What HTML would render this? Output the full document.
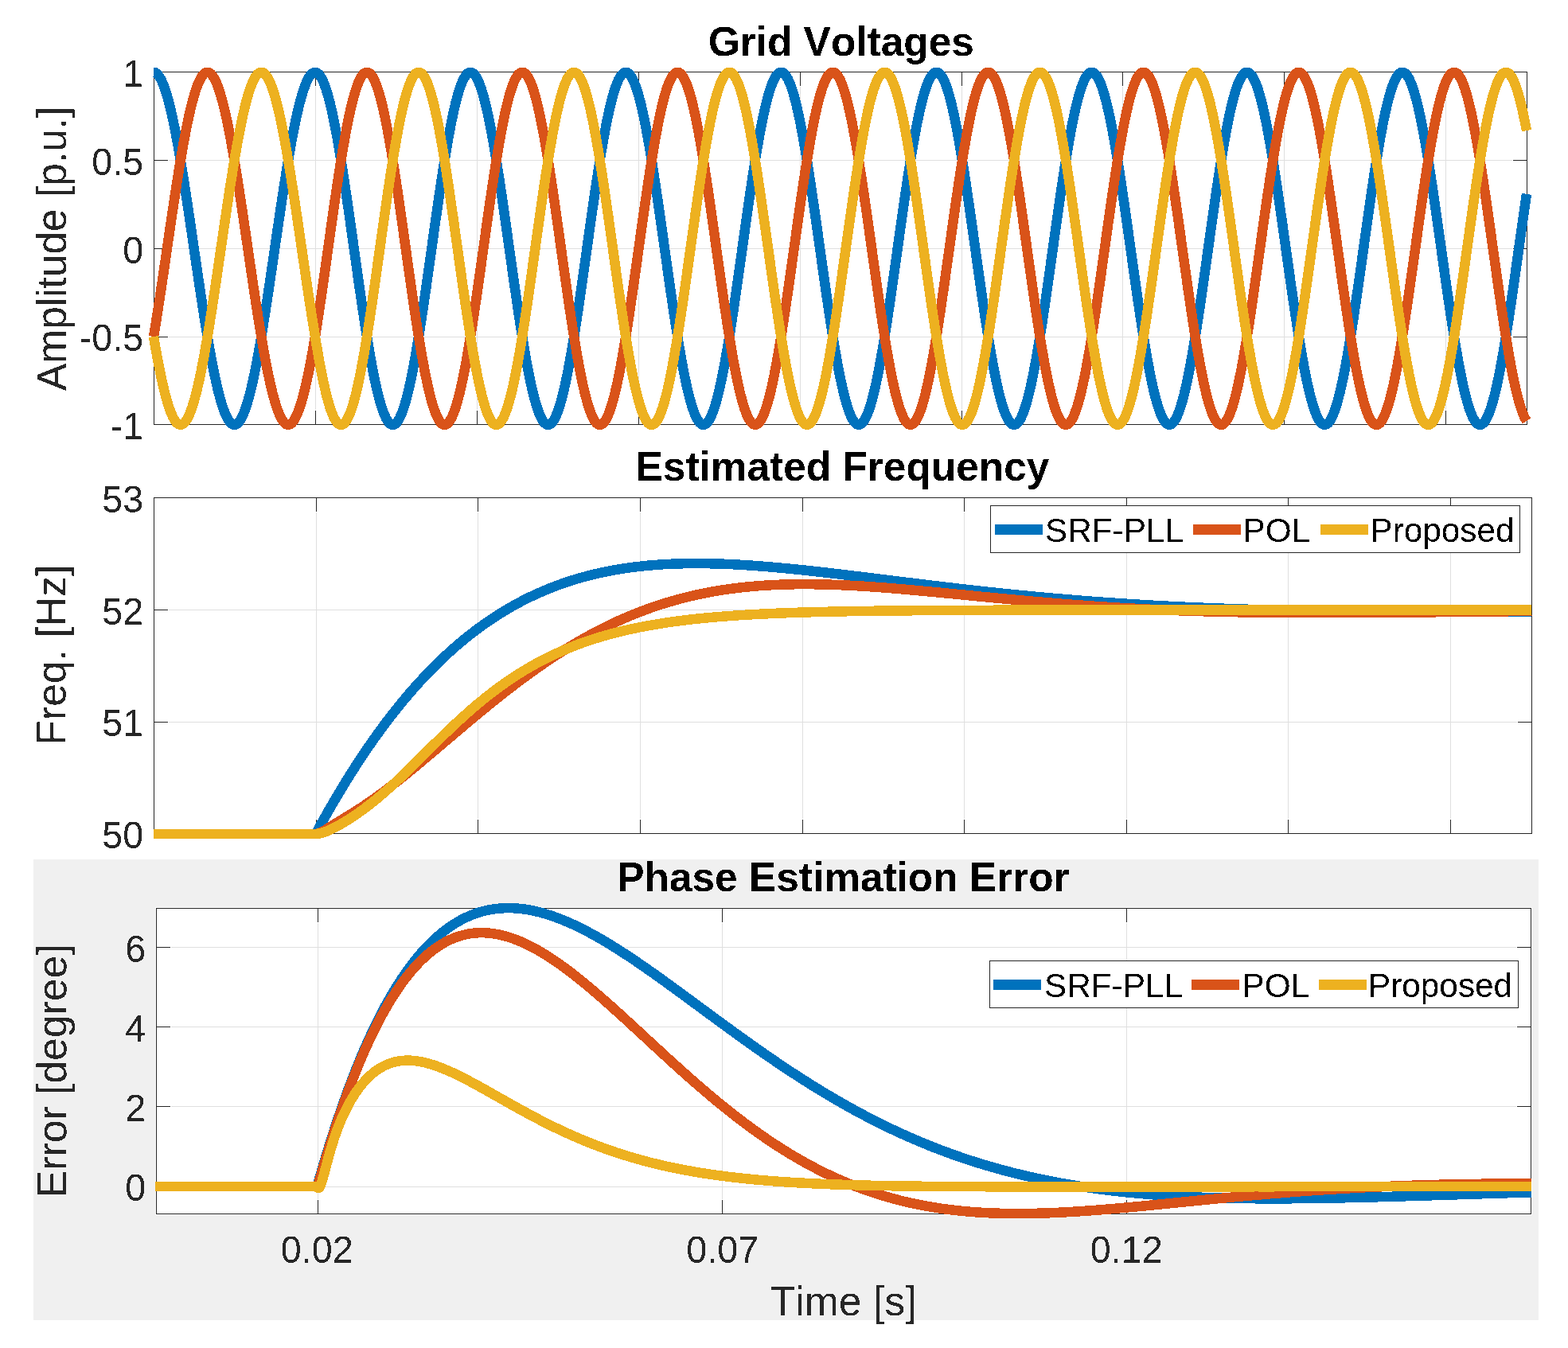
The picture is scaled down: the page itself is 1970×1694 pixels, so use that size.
<!DOCTYPE html>
<html><head><meta charset="utf-8"><title>Grid Voltages / Estimated Frequency / Phase Estimation Error</title>
<style>
html,body{margin:0;padding:0;background:#fff;width:1970px;height:1694px;overflow:hidden}
svg{display:block}
text{font-family:"Liberation Sans",Arial,Helvetica,sans-serif;font-kerning:none;filter:url(#bin)}
</style></head><body>
<svg xmlns="http://www.w3.org/2000/svg" width="1970" height="1694" viewBox="0 0 1970 1694" shape-rendering="crispEdges">
<defs><filter id="bin" x="-5%" y="-20%" width="110%" height="140%" color-interpolation-filters="sRGB"><feComponentTransfer><feFuncA type="discrete" tableValues="0 1"/></feComponentTransfer></filter></defs>
<rect x="0" y="0" width="1970" height="1694" fill="#fff"/>
<rect x="42" y="1080" width="1891" height="579" fill="#f0f0f0"/>
<rect x="195" y="1140" width="1730" height="387" fill="#fff"/>
<rect x="396" y="109" width="1" height="406" fill="#dfdfdf"/>
<rect x="599" y="109" width="1" height="406" fill="#dfdfdf"/>
<rect x="802" y="109" width="1" height="406" fill="#dfdfdf"/>
<rect x="1005" y="109" width="1" height="406" fill="#dfdfdf"/>
<rect x="1208" y="109" width="1" height="406" fill="#dfdfdf"/>
<rect x="1410" y="109" width="1" height="406" fill="#dfdfdf"/>
<rect x="1613" y="109" width="1" height="406" fill="#dfdfdf"/>
<rect x="1816" y="109" width="1" height="406" fill="#dfdfdf"/>
<rect x="212" y="201" width="1688" height="1" fill="#dfdfdf"/>
<rect x="212" y="312" width="1688" height="1" fill="#dfdfdf"/>
<rect x="212" y="423" width="1688" height="1" fill="#dfdfdf"/>
<rect x="193" y="90" width="1726" height="1" fill="#262626"/>
<rect x="193" y="533" width="1726" height="1" fill="#262626"/>
<rect x="193" y="90" width="1" height="444" fill="#262626"/>
<rect x="1918" y="90" width="1" height="444" fill="#262626"/>
<rect x="396" y="91" width="1" height="17" fill="#262626"/>
<rect x="396" y="516" width="1" height="17" fill="#262626"/>
<rect x="599" y="91" width="1" height="17" fill="#262626"/>
<rect x="599" y="516" width="1" height="17" fill="#262626"/>
<rect x="802" y="91" width="1" height="17" fill="#262626"/>
<rect x="802" y="516" width="1" height="17" fill="#262626"/>
<rect x="1005" y="91" width="1" height="17" fill="#262626"/>
<rect x="1005" y="516" width="1" height="17" fill="#262626"/>
<rect x="1208" y="91" width="1" height="17" fill="#262626"/>
<rect x="1208" y="516" width="1" height="17" fill="#262626"/>
<rect x="1410" y="91" width="1" height="17" fill="#262626"/>
<rect x="1410" y="516" width="1" height="17" fill="#262626"/>
<rect x="1613" y="91" width="1" height="17" fill="#262626"/>
<rect x="1613" y="516" width="1" height="17" fill="#262626"/>
<rect x="1816" y="91" width="1" height="17" fill="#262626"/>
<rect x="1816" y="516" width="1" height="17" fill="#262626"/>
<rect x="194" y="201" width="17" height="1" fill="#262626"/>
<rect x="1901" y="201" width="17" height="1" fill="#262626"/>
<rect x="194" y="312" width="17" height="1" fill="#262626"/>
<rect x="1901" y="312" width="17" height="1" fill="#262626"/>
<rect x="194" y="423" width="17" height="1" fill="#262626"/>
<rect x="1901" y="423" width="17" height="1" fill="#262626"/>
<polyline points="193,90.8 193.51,90.83 194.44,91.02 195.03,91.24 195.88,91.68 197.32,92.77 198.75,94.31 200.19,96.27 201.63,98.66 203.07,101.48 204.51,104.71 205.95,108.36 207.39,112.41 208.83,116.86 210.26,121.7 211.7,126.91 213.14,132.49 214.58,138.43 216.02,144.71 217.46,151.33 218.9,158.26 220.34,165.5 221.77,173.03 223.21,180.84 224.65,188.91 226.09,197.22 227.53,205.76 228.97,214.52 230.41,223.46 231.84,232.59 233.28,241.87 234.72,251.29 236.16,260.83 237.6,270.48 239.04,280.2 240.48,289.99 241.92,299.83 243.35,309.69 244.79,319.55 246.23,329.4 247.67,339.22 249.11,348.98 250.55,358.67 251.99,368.27 253.43,377.76 254.86,387.12 256.3,396.33 257.74,405.37 259.18,414.23 260.62,422.88 262.06,431.32 263.5,439.52 264.93,447.47 266.37,455.15 267.81,462.54 269.25,469.64 270.69,476.43 272.13,482.89 273.57,489.01 275.01,494.78 276.44,500.19 277.88,505.23 279.32,509.88 280.76,514.14 282.2,518.01 283.64,521.46 285.08,524.5 286.51,527.12 287.95,529.31 289.39,531.07 290.83,532.4 292.27,533.29 293.71,533.74 295.15,533.75 296.59,533.32 298.02,532.46 299.46,531.16 300.9,529.42 302.34,527.26 303.78,524.66 305.22,521.65 306.66,518.22 308.1,514.38 309.53,510.14 310.97,505.51 312.41,500.5 313.85,495.11 315.29,489.36 316.73,483.26 318.17,476.82 319.6,470.05 321.04,462.97 322.48,455.59 323.92,447.93 325.36,439.99 326.8,431.81 328.24,423.38 329.68,414.74 331.11,405.9 332.55,396.86 333.99,387.66 335.43,378.31 336.87,368.83 338.31,359.24 339.75,349.56 341.19,339.8 342.62,329.98 344.06,320.13 345.5,310.27 346.94,300.41 348.38,290.57 349.82,280.78 351.26,271.05 352.69,261.4 354.13,251.85 355.57,242.42 357.01,233.13 358.45,224 359.89,215.04 361.33,206.27 362.77,197.72 364.2,189.39 365.64,181.31 367.08,173.49 368.52,165.94 369.96,158.68 371.4,151.73 372.84,145.09 374.28,138.79 375.71,132.83 377.15,127.23 378.59,121.99 380.03,117.13 381.47,112.66 382.91,108.59 384.35,104.92 385.78,101.66 387.22,98.82 388.66,96.4 390.1,94.41 391.54,92.85 392.98,91.73 394.42,91.05 395.86,90.8 397.29,91.01 398.73,91.69 400.17,92.85 401.61,94.48 403.05,96.58 404.49,99.14 405.93,102.15 407.36,105.62 408.8,109.53 410.24,113.88 411.68,118.65 413.12,123.83 414.56,129.43 416,135.41 417.44,141.77 418.87,148.5 420.31,155.58 421.75,163 423.19,170.74 424.63,178.78 426.07,187.1 427.51,195.7 428.95,204.55 430.38,213.62 431.82,222.91 433.26,232.39 434.7,242.04 436.14,251.85 437.58,261.78 439.02,271.82 440.45,281.95 441.89,292.14 443.33,302.38 444.77,312.64 446.21,322.89 447.65,333.13 449.09,343.32 450.53,353.44 451.96,363.47 453.4,373.4 454.84,383.19 456.28,392.83 457.72,402.3 459.16,411.58 460.6,420.64 462.04,429.47 463.47,438.05 464.91,446.36 466.35,454.38 467.79,462.1 469.23,469.49 470.67,476.55 472.11,483.26 473.54,489.6 474.98,495.55 476.42,501.12 477.86,506.28 479.3,511.02 480.74,515.34 482.18,519.22 483.62,522.66 485.05,525.65 486.49,528.17 487.93,530.24 489.37,531.84 490.81,532.96 492.25,533.62 493.69,533.8 495.13,533.5 496.56,532.73 498,531.48 499.44,529.77 500.88,527.59 502.32,524.95 503.76,521.85 505.2,518.3 506.63,514.31 508.07,509.88 509.51,505.03 510.95,499.77 512.39,494.11 513.83,488.05 515.27,481.62 516.71,474.83 518.14,467.68 519.58,460.21 521.02,452.41 522.46,444.32 523.9,435.94 525.34,427.3 526.78,418.41 528.21,409.29 529.65,399.96 531.09,390.45 532.53,380.77 533.97,370.94 535.41,360.99 536.85,350.93 538.29,340.79 539.72,330.58 541.16,320.34 542.6,310.08 544.04,299.83 545.48,289.6 546.92,279.42 548.36,269.31 549.8,259.3 551.23,249.4 552.67,239.63 554.11,230.02 555.55,220.58 556.99,211.34 558.43,202.32 559.87,193.54 561.3,185.01 562.74,176.75 564.18,168.78 565.62,161.12 567.06,153.79 568.5,146.79 569.94,140.15 571.38,133.88 572.81,128 574.25,122.5 575.69,117.42 577.13,112.75 578.57,108.52 580.01,104.71 581.45,101.36 582.89,98.46 584.32,96.01 585.76,94.03 587.2,92.52 588.64,91.48 590.08,90.91 591.52,90.82 592.96,91.21 594.39,92.06 595.83,93.4 597.27,95.2 598.71,97.46 600.15,100.19 601.59,103.37 603.03,107 604.47,111.07 605.9,115.58 607.34,120.5 608.78,125.84 610.22,131.57 611.66,137.7 613.1,144.2 614.54,151.06 615.98,158.26 617.41,165.8 618.85,173.65 620.29,181.8 621.73,190.22 623.17,198.91 624.61,207.85 626.05,217 627.48,226.37 628.92,235.91 630.36,245.62 631.8,255.47 633.24,265.45 634.68,275.52 636.12,285.68 637.56,295.89 638.99,306.14 640.43,316.4 641.87,326.65 643.31,336.87 644.75,347.04 646.19,357.13 647.63,367.13 649.06,377.01 650.5,386.75 651.94,396.33 653.38,405.73 654.82,414.93 656.26,423.91 657.7,432.65 659.14,441.13 660.57,449.33 662.01,457.25 663.45,464.85 664.89,472.12 666.33,479.05 667.77,485.62 669.21,491.82 670.65,497.64 672.08,503.06 673.52,508.07 674.96,512.65 676.4,516.81 677.84,520.53 679.28,523.81 680.72,526.63 682.15,528.99 683.59,530.88 685.03,532.31 686.47,533.26 687.91,533.74 689.35,533.74 690.79,533.27 692.23,532.33 693.66,530.91 695.1,529.02 696.54,526.67 697.98,523.86 699.42,520.6 700.86,516.88 702.3,512.73 703.74,508.15 705.17,503.15 706.61,497.74 708.05,491.93 709.49,485.74 710.93,479.17 712.37,472.25 713.81,464.98 715.24,457.39 716.68,449.48 718.12,441.28 719.56,432.8 721,424.07 722.44,415.09 723.88,405.9 725.32,396.5 726.75,386.92 728.19,377.18 729.63,367.31 731.07,357.31 732.51,347.22 733.95,337.05 735.39,326.83 736.83,316.58 738.26,306.32 739.7,296.08 741.14,285.86 742.58,275.71 744.02,265.63 745.46,255.65 746.9,245.8 748.33,236.09 749.77,226.54 751.21,217.17 752.65,208.01 754.09,199.07 755.53,190.38 756.97,181.95 758.41,173.79 759.84,165.94 761.28,158.4 762.72,151.18 764.16,144.32 765.6,137.81 767.04,131.68 768.48,125.94 769.91,120.59 771.35,115.66 772.79,111.15 774.23,107.07 775.67,103.43 777.11,100.24 778.55,97.51 779.99,95.23 781.42,93.42 782.86,92.08 784.3,91.22 785.74,90.83 787.18,90.91 788.62,91.47 790.06,92.5 791.5,94 792.93,95.97 794.37,98.41 795.81,101.3 797.25,104.65 798.69,108.44 800.13,112.67 801.57,117.33 803,122.41 804.44,127.89 805.88,133.77 807.32,140.04 808.76,146.67 810.2,153.66 811.64,160.99 813.08,168.64 814.51,176.6 815.95,184.85 817.39,193.38 818.83,202.16 820.27,211.18 821.71,220.41 823.15,229.84 824.59,239.45 826.02,249.22 827.46,259.12 828.9,269.13 830.34,279.24 831.78,289.42 833.22,299.64 834.66,309.9 836.09,320.16 837.53,330.4 838.97,340.6 840.41,350.75 841.85,360.81 843.29,370.76 844.73,380.59 846.17,390.28 847.6,399.79 849.04,409.12 850.48,418.24 851.92,427.14 853.36,435.79 854.8,444.17 856.24,452.27 857.68,460.07 859.11,467.55 860.55,474.7 861.99,481.5 863.43,487.94 864.87,494 866.31,499.67 867.75,504.94 869.18,509.8 870.62,514.23 872.06,518.23 873.5,521.79 874.94,524.89 876.38,527.54 877.82,529.73 879.26,531.46 880.69,532.71 882.13,533.49 883.57,533.8 885.01,533.63 886.45,532.98 887.89,531.86 889.33,530.27 890.76,528.22 892.2,525.7 893.64,522.72 895.08,519.29 896.52,515.41 897.96,511.1 899.4,506.37 900.84,501.22 902.27,495.66 903.71,489.71 905.15,483.37 906.59,476.68 908.03,469.62 909.47,462.24 910.91,454.52 912.35,446.51 913.78,438.2 915.22,429.63 916.66,420.8 918.1,411.75 919.54,402.47 920.98,393.01 922.42,383.37 923.85,373.58 925.29,363.66 926.73,353.62 928.17,343.5 929.61,333.31 931.05,323.08 932.49,312.82 933.93,302.56 935.36,292.33 936.8,282.13 938.24,272 939.68,261.96 941.12,252.03 942.56,242.22 944,232.57 945.44,223.08 946.87,213.79 948.31,204.71 949.75,195.86 951.19,187.26 952.63,178.92 954.07,170.88 955.51,163.14 956.94,155.71 958.38,148.63 959.82,141.89 961.26,135.52 962.7,129.53 964.14,123.93 965.58,118.74 967.02,113.96 968.45,109.6 969.89,105.69 971.33,102.21 972.77,99.19 974.21,96.62 975.65,94.52 977.09,92.88 978.53,91.71 979.96,91.02 981.4,90.8 982.84,91.06 984.28,91.79 985.72,92.99 987.16,94.67 988.6,96.81 990.03,99.42 991.47,102.48 992.91,105.99 994.35,109.94 995.79,114.33 997.23,119.15 998.67,124.37 1000.11,130 1001.54,136.03 1002.98,142.43 1004.42,149.19 1005.86,156.3 1007.3,163.75 1008.74,171.52 1010.18,179.59 1011.61,187.95 1013.05,196.57 1014.49,205.44 1015.93,214.54 1017.37,223.85 1018.81,233.35 1020.25,243.01 1021.69,252.83 1023.12,262.78 1024.56,272.83 1026,282.96 1027.44,293.16 1028.88,303.4 1030.32,313.66 1031.76,323.91 1033.2,334.14 1034.63,344.33 1036.07,354.44 1037.51,364.47 1038.95,374.38 1040.39,384.16 1041.83,393.79 1043.27,403.24 1044.7,412.49 1046.14,421.53 1047.58,430.34 1049.02,438.89 1050.46,447.17 1051.9,455.16 1053.34,462.85 1054.78,470.21 1056.21,477.23 1057.65,483.9 1059.09,490.21 1060.53,496.13 1061.97,501.65 1063.41,506.77 1064.85,511.47 1066.29,515.75 1067.72,519.58 1069.16,522.98 1070.6,525.92 1072.04,528.4 1073.48,530.42 1074.92,531.97 1076.36,533.05 1077.79,533.66 1079.23,533.79 1080.67,533.44 1082.11,532.63 1083.55,531.33 1084.99,529.57 1086.43,527.35 1087.87,524.66 1089.3,521.51 1090.74,517.92 1092.18,513.88 1093.62,509.42 1095.06,504.53 1096.5,499.23 1097.94,493.52 1099.38,487.43 1100.81,480.96 1102.25,474.13 1103.69,466.95 1105.13,459.45 1106.57,451.62 1108.01,443.5 1109.45,435.09 1110.88,426.42 1112.32,417.51 1113.76,408.37 1115.2,399.03 1116.64,389.49 1118.08,379.8 1119.52,369.96 1120.96,359.99 1122.39,349.92 1123.83,339.77 1125.27,329.57 1126.71,319.32 1128.15,309.06 1129.59,298.81 1131.03,288.59 1132.46,278.41 1133.9,268.31 1135.34,258.31 1136.78,248.42 1138.22,238.66 1139.66,229.07 1141.1,219.65 1142.54,210.44 1143.97,201.44 1145.41,192.68 1146.85,184.17 1148.29,175.94 1149.73,168 1151.17,160.38 1152.61,153.08 1154.05,146.12 1155.48,139.51 1156.92,133.28 1158.36,127.43 1159.8,121.98 1161.24,116.94 1162.68,112.31 1164.12,108.12 1165.55,104.36 1166.99,101.05 1168.43,98.19 1169.87,95.79 1171.31,93.86 1172.75,92.4 1174.19,91.4 1175.63,90.88 1177.06,90.84 1178.5,91.27 1179.94,92.18 1181.38,93.55 1182.82,95.4 1184.26,97.71 1185.7,100.49 1187.14,103.71 1188.57,107.39 1190.01,111.5 1191.45,116.05 1192.89,121.01 1194.33,126.39 1195.77,132.17 1197.21,138.33 1198.64,144.86 1200.08,151.76 1201.52,159 1202.96,166.57 1204.4,174.45 1205.84,182.62 1207.28,191.08 1208.72,199.79 1210.15,208.75 1211.59,217.93 1213.03,227.31 1214.47,236.87 1215.91,246.6 1217.35,256.46 1218.79,266.45 1220.23,276.53 1221.66,286.69 1223.1,296.91 1224.54,307.16 1225.98,317.42 1227.42,327.67 1228.86,337.88 1230.3,348.04 1231.73,358.13 1233.17,368.12 1234.61,377.98 1236.05,387.71 1237.49,397.27 1238.93,406.65 1240.37,415.83 1241.81,424.79 1243.24,433.5 1244.68,441.96 1246.12,450.14 1247.56,458.02 1249,465.59 1250.44,472.83 1251.88,479.72 1253.31,486.26 1254.75,492.42 1256.19,498.2 1257.63,503.57 1259.07,508.54 1260.51,513.09 1261.95,517.2 1263.39,520.88 1264.82,524.11 1266.26,526.88 1267.7,529.19 1269.14,531.04 1270.58,532.42 1272.02,533.33 1273.46,533.76 1274.9,533.72 1276.33,533.2 1277.77,532.21 1279.21,530.74 1280.65,528.81 1282.09,526.41 1283.53,523.56 1284.97,520.25 1286.4,516.49 1287.84,512.3 1289.28,507.67 1290.72,502.63 1292.16,497.18 1293.6,491.33 1295.04,485.1 1296.48,478.5 1297.91,471.54 1299.35,464.24 1300.79,456.61 1302.23,448.68 1303.67,440.45 1305.11,431.94 1306.55,423.18 1307.99,414.19 1309.42,404.97 1310.86,395.55 1312.3,385.96 1313.74,376.21 1315.18,366.32 1316.62,356.31 1318.06,346.21 1319.49,336.04 1320.93,325.81 1322.37,315.56 1323.81,305.3 1325.25,295.06 1326.69,284.85 1328.13,274.7 1329.57,264.63 1331,254.67 1332.44,244.82 1333.88,235.13 1335.32,225.6 1336.76,216.25 1338.2,207.11 1339.64,198.2 1341.08,189.53 1342.51,181.12 1343.95,173 1345.39,165.17 1346.83,157.66 1348.27,150.48 1349.71,143.65 1351.15,137.18 1352.58,131.09 1354.02,125.39 1355.46,120.08 1356.9,115.19 1358.34,110.72 1359.78,106.69 1361.22,103.1 1362.66,99.95 1364.09,97.26 1365.53,95.03 1366.97,93.27 1368.41,91.98 1369.85,91.16 1371.29,90.81 1372.73,90.94 1374.16,91.55 1375.6,92.63 1377.04,94.18 1378.48,96.19 1379.92,98.68 1381.36,101.62 1382.8,105.01 1384.24,108.84 1385.67,113.12 1387.11,117.82 1388.55,122.94 1389.99,128.46 1391.43,134.38 1392.87,140.68 1394.31,147.35 1395.75,154.37 1397.18,161.73 1398.62,169.42 1400.06,177.41 1401.5,185.69 1402.94,194.24 1404.38,203.05 1405.82,212.09 1407.25,221.34 1408.69,230.79 1410.13,240.42 1411.57,250.2 1413.01,260.11 1414.45,270.13 1415.89,280.25 1417.33,290.43 1418.76,300.66 1420.2,310.92 1421.64,321.18 1423.08,331.42 1424.52,341.62 1425.96,351.75 1427.4,361.8 1428.84,371.75 1430.27,381.56 1431.71,391.23 1433.15,400.73 1434.59,410.04 1436.03,419.14 1437.47,428.01 1438.91,436.63 1440.34,444.99 1441.78,453.06 1443.22,460.83 1444.66,468.28 1446.1,475.39 1447.54,482.16 1448.98,488.56 1450.42,494.58 1451.85,500.22 1453.29,505.44 1454.73,510.26 1456.17,514.65 1457.61,518.6 1459.05,522.12 1460.49,525.18 1461.93,527.78 1463.36,529.93 1464.8,531.6 1466.24,532.81 1467.68,533.54 1469.12,533.8 1470.56,533.58 1472,532.89 1473.43,531.73 1474.87,530.09 1476.31,527.99 1477.75,525.42 1479.19,522.4 1480.63,518.92 1482.07,515 1483.51,510.65 1484.94,505.87 1486.38,500.68 1487.82,495.08 1489.26,489.09 1490.7,482.72 1492.14,475.99 1493.58,468.9 1495.01,461.48 1496.45,453.74 1497.89,445.69 1499.33,437.36 1500.77,428.76 1502.21,419.91 1503.65,410.83 1505.09,401.54 1506.52,392.06 1507.96,382.4 1509.4,372.6 1510.84,362.66 1512.28,352.62 1513.72,342.49 1515.16,332.3 1516.6,322.06 1518.03,311.8 1519.47,301.54 1520.91,291.31 1522.35,281.12 1523.79,271 1525.23,260.97 1526.67,251.04 1528.1,241.25 1529.54,231.61 1530.98,222.15 1532.42,212.88 1533.86,203.82 1535.3,194.99 1536.74,186.41 1538.18,178.11 1539.61,170.09 1541.05,162.38 1542.49,154.99 1543.93,147.94 1545.37,141.24 1546.81,134.91 1548.25,128.95 1549.69,123.4 1551.12,118.24 1552.56,113.51 1554,109.2 1555.44,105.32 1556.88,101.89 1558.32,98.91 1559.76,96.39 1561.19,94.33 1562.63,92.74 1564.07,91.62 1565.51,90.98 1566.95,90.8 1568.39,91.11 1569.83,91.89 1571.27,93.14 1572.7,94.86 1574.14,97.05 1575.58,99.7 1577.02,102.81 1578.46,106.36 1579.9,110.36 1581.34,114.79 1582.78,119.65 1584.21,124.92 1585.65,130.59 1587.09,136.65 1588.53,143.08 1589.97,149.88 1591.41,157.03 1592.85,164.51 1594.28,172.31 1595.72,180.41 1597.16,188.79 1598.6,197.44 1600.04,206.33 1601.48,215.46 1602.92,224.78 1604.36,234.3 1605.79,243.99 1607.23,253.82 1608.67,263.77 1610.11,273.83 1611.55,283.97 1612.99,294.18 1614.43,304.42 1615.86,314.68 1617.3,324.93 1618.74,335.16 1620.18,345.34 1621.62,355.45 1623.06,365.46 1624.5,375.36 1625.94,385.13 1627.37,394.73 1628.81,404.17 1630.25,413.4 1631.69,422.42 1633.13,431.2 1634.57,439.73 1636.01,447.98 1637.45,455.94 1638.88,463.6 1640.32,470.93 1641.76,477.92 1643.2,484.55 1644.64,490.81 1646.08,496.69 1647.52,502.18 1648.95,507.26 1650.39,511.92 1651.83,516.15 1653.27,519.94 1654.71,523.29 1656.15,526.19 1657.59,528.62 1659.03,530.6 1660.46,532.1 1661.9,533.13 1663.34,533.69 1664.78,533.78 1666.22,533.38 1667.66,532.52 1669.1,531.18 1670.54,529.37 1671.97,527.1 1673.41,524.36 1674.85,521.17 1676.29,517.54 1677.73,513.46 1679.17,508.95 1680.61,504.02 1682.04,498.68 1683.48,492.93 1684.92,486.8 1686.36,480.3 1687.8,473.43 1689.24,466.22 1690.68,458.68 1692.12,450.83 1693.55,442.67 1694.99,434.24 1696.43,425.55 1697.87,416.61 1699.31,407.45 1700.75,398.08 1702.19,388.54 1703.63,378.82 1705.06,368.97 1706.5,358.99 1707.94,348.91 1709.38,338.76 1710.82,328.55 1712.26,318.3 1713.7,308.04 1715.13,297.79 1716.57,287.57 1718.01,277.4 1719.45,267.31 1720.89,257.32 1722.33,247.44 1723.77,237.7 1725.21,228.12 1726.64,218.73 1728.08,209.53 1729.52,200.55 1730.96,191.82 1732.4,183.34 1733.84,175.14 1735.28,167.23 1736.71,159.64 1738.15,152.37 1739.59,145.44 1741.03,138.88 1742.47,132.68 1743.91,126.87 1745.35,121.46 1746.79,116.46 1748.22,111.88 1749.66,107.72 1751.1,104.01 1752.54,100.75 1753.98,97.93 1755.42,95.58 1756.86,93.69 1758.3,92.28 1759.73,91.33 1761.17,90.86 1762.61,90.86 1764.05,91.34 1765.49,92.29 1766.93,93.72 1768.37,95.61 1769.8,97.97 1771.24,100.79 1772.68,104.06 1774.12,107.78 1775.56,111.94 1777,116.52 1778.44,121.53 1779.88,126.95 1781.31,132.76 1782.75,138.96 1784.19,145.53 1785.63,152.46 1787.07,159.74 1788.51,167.34 1789.95,175.25 1791.39,183.45 1792.82,191.93 1794.26,200.67 1795.7,209.65 1797.14,218.85 1798.58,228.25 1800.02,237.83 1801.46,247.57 1802.89,257.45 1804.33,267.45 1805.77,277.54 1807.21,287.71 1808.65,297.93 1810.09,308.18 1811.53,318.44 1812.97,328.69 1814.4,338.9 1815.84,349.05 1817.28,359.13 1818.72,369.1 1820.16,378.96 1821.6,388.67 1823.04,398.21 1824.48,407.58 1825.91,416.73 1827.35,425.67 1828.79,434.36 1830.23,442.79 1831.67,450.93 1833.11,458.78 1834.55,466.32 1835.98,473.53 1837.42,480.39 1838.86,486.89 1840.3,493.01 1841.74,498.75 1843.18,504.09 1844.62,509.01 1846.06,513.52 1847.49,517.59 1848.93,521.22 1850.37,524.4 1851.81,527.13 1853.25,529.4 1854.69,531.2 1856.13,532.53 1857.56,533.39 1859,533.78 1860.44,533.69 1861.88,533.12 1863.32,532.08 1864.76,530.57 1866.2,528.59 1867.64,526.15 1869.07,523.25 1870.51,519.89 1871.95,516.09 1873.39,511.86 1874.83,507.19 1876.27,502.11 1877.71,496.62 1879.15,490.73 1880.58,484.46 1882.02,477.82 1883.46,470.83 1884.9,463.5 1886.34,455.84 1887.78,447.87 1889.22,439.61 1890.65,431.08 1892.09,422.3 1893.53,413.28 1894.97,404.04 1896.41,394.61 1897.85,384.99 1899.29,375.23 1900.73,365.32 1902.16,355.31 1903.6,345.2 1905.04,335.02 1906.48,324.79 1907.92,314.54 1909.36,304.28 1910.8,294.04 1912.24,283.84 1913.67,273.69 1915.11,263.64 1915.96,257.75 1916.55,253.68 1917.48,247.3 1917.99,243.85" fill="none" stroke="#0072BD" stroke-width="12.5" stroke-linejoin="round" stroke-linecap="butt"/>
<polyline points="193,423.05 193.51,420.02 194.44,414.4 195.03,410.79 195.88,405.54 197.32,396.51 198.75,387.3 200.19,377.94 201.63,368.46 203.07,358.86 204.51,349.17 205.95,339.41 207.39,329.6 208.83,319.75 210.26,309.88 211.7,300.02 213.14,290.19 214.58,280.39 216.02,270.67 217.46,261.02 218.9,251.48 220.34,242.05 221.77,232.77 223.21,223.64 224.65,214.69 226.09,205.93 227.53,197.39 228.97,189.07 230.41,181 231.84,173.18 233.28,165.65 234.72,158.4 236.16,151.46 237.6,144.84 239.04,138.55 240.48,132.6 241.92,127.02 243.35,121.79 244.79,116.95 246.23,112.5 247.67,108.44 249.11,104.78 250.55,101.54 251.99,98.71 253.43,96.31 254.86,94.34 256.3,92.8 257.74,91.7 259.18,91.03 260.62,90.8 262.06,91.01 263.5,91.66 264.93,92.75 266.37,94.27 267.81,96.23 269.25,98.61 270.69,101.42 272.13,104.65 273.57,108.29 275.01,112.33 276.44,116.77 277.88,121.6 279.32,126.8 280.76,132.38 282.2,138.31 283.64,144.59 285.08,151.19 286.51,158.12 287.95,165.36 289.39,172.88 290.83,180.69 292.27,188.75 293.71,197.06 295.15,205.59 296.59,214.34 298.02,223.29 299.46,232.41 300.9,241.69 302.34,251.1 303.78,260.64 305.22,270.29 306.66,280.01 308.1,289.8 309.53,299.64 310.97,309.49 312.41,319.36 313.85,329.21 315.29,339.03 316.73,348.79 318.17,358.48 319.6,368.09 321.04,377.58 322.48,386.94 323.92,396.15 325.36,405.19 326.8,414.06 328.24,422.71 329.68,431.16 331.11,439.36 332.55,447.31 333.99,455 335.43,462.4 336.87,469.5 338.31,476.3 339.75,482.76 341.19,488.89 342.62,494.67 344.06,500.09 345.5,505.13 346.94,509.79 348.38,514.06 349.82,517.93 351.26,521.4 352.69,524.44 354.13,527.07 355.57,529.27 357.01,531.04 358.45,532.37 359.89,533.27 361.33,533.73 362.77,533.76 364.2,533.34 365.64,532.48 367.08,531.19 368.52,529.46 369.96,527.3 371.4,524.72 372.84,521.71 374.28,518.29 375.71,514.46 377.15,510.23 378.59,505.61 380.03,500.6 381.47,495.22 382.91,489.47 384.35,483.38 385.78,476.95 387.22,470.18 388.66,463.11 390.1,455.74 391.54,448.08 392.98,440.15 394.42,431.97 395.86,423.55 397.29,414.58 398.73,405.38 400.17,395.97 401.61,386.38 403.05,376.64 404.49,366.75 405.93,356.75 407.36,346.65 408.8,336.48 410.24,326.26 411.68,316.01 413.12,305.75 414.56,295.5 416,285.3 417.44,275.14 418.87,265.07 420.31,255.1 421.75,245.25 423.19,235.55 424.63,226.01 426.07,216.65 427.51,207.51 428.95,198.58 430.38,189.9 431.82,181.48 433.26,173.35 434.7,165.51 436.14,157.98 437.58,150.79 439.02,143.94 440.45,137.46 441.89,131.35 443.33,125.63 444.77,120.31 446.21,115.4 447.65,110.91 449.09,106.86 450.53,103.24 451.96,100.08 453.4,97.37 454.84,95.12 456.28,93.34 457.72,92.02 459.16,91.18 460.6,90.82 462.04,90.93 463.47,91.51 464.91,92.57 466.35,94.1 467.79,96.1 469.23,98.56 470.67,101.48 472.11,104.85 473.54,108.67 474.98,112.92 476.42,117.6 477.86,122.7 479.3,128.21 480.74,134.11 482.18,140.4 483.62,147.05 485.05,154.06 486.49,161.4 487.93,169.08 489.37,177.05 490.81,185.32 492.25,193.86 493.69,202.66 495.13,211.69 496.56,220.93 498,230.38 499.44,239.99 500.88,249.77 502.32,259.67 503.76,269.69 505.2,279.8 506.63,289.99 508.07,300.21 509.51,310.47 510.95,320.73 512.39,330.97 513.83,341.17 515.27,351.31 516.71,361.36 518.14,371.31 519.58,381.14 521.02,390.81 522.46,400.32 523.9,409.64 525.34,418.75 526.78,427.63 528.21,436.26 529.65,444.63 531.09,452.71 532.53,460.5 533.97,467.96 535.41,475.09 536.85,481.87 538.29,488.29 539.72,494.33 541.16,499.98 542.6,505.22 544.04,510.06 545.48,514.46 546.92,518.44 548.36,521.97 549.8,525.05 551.23,527.68 552.67,529.84 554.11,531.54 555.55,532.77 556.99,533.52 558.43,533.8 559.87,533.6 561.3,532.93 562.74,531.79 564.18,530.17 565.62,528.09 567.06,525.54 568.5,522.54 569.94,519.08 571.38,515.18 572.81,510.85 574.25,506.09 575.69,500.92 577.13,495.34 578.57,489.36 580.01,483.01 581.45,476.29 582.89,469.22 584.32,461.81 585.76,454.08 587.2,446.05 588.64,437.73 590.08,429.14 591.52,420.3 592.96,411.23 594.39,401.95 595.83,392.47 597.27,382.83 598.71,373.03 600.15,363.1 601.59,353.06 603.03,342.93 604.47,332.74 605.9,322.51 607.34,312.25 608.78,301.99 610.22,291.76 611.66,281.57 613.1,271.44 614.54,261.4 615.98,251.48 617.41,241.68 618.85,232.03 620.29,222.56 621.73,213.28 623.17,204.21 624.61,195.37 626.05,186.78 627.48,178.47 628.92,170.44 630.36,162.71 631.8,155.31 633.24,148.24 634.68,141.53 636.12,135.18 637.56,129.21 638.99,123.63 640.43,118.46 641.87,113.7 643.31,109.37 644.75,105.48 646.19,102.03 647.63,99.03 649.06,96.49 650.5,94.41 651.94,92.8 653.38,91.66 654.82,90.99 656.26,90.8 657.7,91.09 659.14,91.84 660.57,93.07 662.01,94.78 663.45,96.94 664.89,99.57 666.33,102.66 667.77,106.2 669.21,110.18 670.65,114.59 672.08,119.43 673.52,124.68 674.96,130.33 676.4,136.37 677.84,142.79 679.28,149.58 680.72,156.71 682.15,164.18 683.59,171.96 685.03,180.05 686.47,188.42 687.91,197.06 689.35,205.94 690.79,215.05 692.23,224.37 693.66,233.88 695.1,243.56 696.54,253.38 697.98,263.33 699.42,273.39 700.86,283.53 702.3,293.73 703.74,303.97 705.17,314.23 706.61,324.49 708.05,334.71 709.49,344.89 710.93,355.01 712.37,365.02 713.81,374.93 715.24,384.7 716.68,394.32 718.12,403.76 719.56,413 721,422.03 722.44,430.82 723.88,439.36 725.32,447.63 726.75,455.6 728.19,463.27 729.63,470.61 731.07,477.62 732.51,484.27 733.95,490.55 735.39,496.44 736.83,501.95 738.26,507.04 739.7,511.72 741.14,515.97 742.58,519.78 744.02,523.15 745.46,526.07 746.9,528.53 748.33,530.52 749.77,532.04 751.21,533.1 752.65,533.68 754.09,533.78 755.53,533.41 756.97,532.57 758.41,531.25 759.84,529.46 761.28,527.21 762.72,524.49 764.16,521.32 765.6,517.71 767.04,513.65 768.48,509.16 769.91,504.24 771.35,498.92 772.79,493.19 774.23,487.08 775.67,480.59 777.11,473.74 778.55,466.54 779.99,459.02 781.42,451.18 782.86,443.04 784.3,434.62 785.74,425.93 787.18,417.01 788.62,407.85 790.06,398.5 791.5,388.96 792.93,379.25 794.37,369.4 795.81,359.43 797.25,349.36 798.69,339.21 800.13,328.99 801.57,318.75 803,308.49 804.44,298.24 805.88,288.02 807.32,277.85 808.76,267.75 810.2,257.75 811.64,247.87 813.08,238.12 814.51,228.54 815.95,219.13 817.39,209.93 818.83,200.94 820.27,192.19 821.71,183.7 823.15,175.49 824.59,167.57 826.02,159.96 827.46,152.68 828.9,145.74 830.34,139.16 831.78,132.94 833.22,127.12 834.66,121.69 836.09,116.67 837.53,112.07 838.97,107.9 840.41,104.16 841.85,100.88 843.29,98.05 844.73,95.67 846.17,93.77 847.6,92.33 849.04,91.36 850.48,90.87 851.92,90.85 853.36,91.31 854.8,92.24 856.24,93.64 857.68,95.52 859.11,97.86 860.55,100.65 861.99,103.91 863.43,107.61 864.87,111.74 866.31,116.31 867.75,121.3 869.18,126.7 870.62,132.5 872.06,138.68 873.5,145.24 874.94,152.15 876.38,159.41 877.82,167 879.26,174.89 880.69,183.09 882.13,191.56 883.57,200.29 885.01,209.25 886.45,218.45 887.89,227.84 889.33,237.41 890.76,247.14 892.2,257.02 893.64,267.01 895.08,277.1 896.52,287.26 897.96,297.48 899.4,307.73 900.84,317.99 902.27,328.24 903.71,338.45 905.15,348.61 906.59,358.69 908.03,368.67 909.47,378.53 910.91,388.25 912.35,397.8 913.78,407.17 915.22,416.34 916.66,425.28 918.1,433.98 919.54,442.42 920.98,450.58 922.42,458.45 923.85,466 925.29,473.22 926.73,480.1 928.17,486.61 929.61,492.75 931.05,498.51 932.49,503.86 933.93,508.81 935.36,513.33 936.8,517.42 938.24,521.07 939.68,524.27 941.12,527.02 942.56,529.31 944,531.13 945.44,532.48 946.87,533.36 948.31,533.77 949.75,533.7 951.19,533.16 952.63,532.14 954.07,530.65 955.51,528.69 956.94,526.27 958.38,523.38 959.82,520.05 961.26,516.27 962.7,512.05 964.14,507.4 965.58,502.34 967.02,496.86 968.45,491 969.89,484.74 971.33,478.12 972.77,471.14 974.21,463.82 975.65,456.18 977.09,448.23 978.53,439.98 979.96,431.46 981.4,422.69 982.84,413.68 984.28,404.45 985.72,395.02 987.16,385.42 988.6,375.66 990.03,365.76 991.47,355.75 992.91,345.64 994.35,335.47 995.79,325.24 997.23,314.99 998.67,304.73 1000.11,294.49 1001.54,284.28 1002.98,274.14 1004.42,264.07 1005.86,254.11 1007.3,244.28 1008.74,234.59 1010.18,225.07 1011.61,215.73 1013.05,206.61 1014.49,197.71 1015.93,189.05 1017.37,180.66 1018.81,172.55 1020.25,164.74 1021.69,157.25 1023.12,150.09 1024.56,143.28 1026,136.83 1027.44,130.76 1028.88,125.08 1030.32,119.8 1031.76,114.93 1033.2,110.49 1034.63,106.48 1036.07,102.91 1037.51,99.79 1038.95,97.12 1040.39,94.92 1041.83,93.18 1043.27,91.92 1044.7,91.13 1046.14,90.81 1047.58,90.96 1049.02,91.6 1050.46,92.7 1051.9,94.28 1053.34,96.32 1054.78,98.83 1056.21,101.79 1057.65,105.21 1059.09,109.07 1060.53,113.37 1061.97,118.09 1063.41,123.23 1064.85,128.78 1066.29,134.72 1067.72,141.04 1069.16,147.73 1070.6,154.77 1072.04,162.15 1073.48,169.86 1074.92,177.86 1076.36,186.16 1077.79,194.73 1079.23,203.55 1080.67,212.6 1082.11,221.87 1083.55,231.33 1084.99,240.96 1086.43,250.75 1087.87,260.67 1089.3,270.7 1090.74,280.82 1092.18,291 1093.62,301.24 1095.06,311.49 1096.5,321.75 1097.94,331.99 1099.38,342.18 1100.81,352.31 1102.25,362.36 1103.69,372.3 1105.13,382.11 1106.57,391.77 1108.01,401.26 1109.45,410.55 1110.88,419.64 1112.32,428.5 1113.76,437.11 1115.2,445.45 1116.64,453.5 1118.08,461.25 1119.52,468.68 1120.96,475.78 1122.39,482.53 1123.83,488.91 1125.27,494.91 1126.71,500.52 1128.15,505.72 1129.59,510.51 1131.03,514.88 1132.46,518.81 1133.9,522.3 1135.34,525.33 1136.78,527.91 1138.22,530.03 1139.66,531.68 1141.1,532.86 1142.54,533.57 1143.97,533.8 1145.41,533.56 1146.85,532.84 1148.29,531.65 1149.73,529.98 1151.17,527.85 1152.61,525.26 1154.05,522.21 1155.48,518.71 1156.92,514.77 1158.36,510.4 1159.8,505.59 1161.24,500.38 1162.68,494.76 1164.12,488.75 1165.55,482.36 1166.99,475.6 1168.43,468.5 1169.87,461.06 1171.31,453.3 1172.75,445.24 1174.19,436.89 1175.63,428.27 1177.06,419.41 1178.5,410.32 1179.94,401.02 1181.38,391.52 1182.82,381.86 1184.26,372.04 1185.7,362.1 1187.14,352.06 1188.57,341.92 1190.01,331.73 1191.45,321.49 1192.89,311.23 1194.33,300.97 1195.77,290.74 1197.21,280.56 1198.64,270.44 1200.08,260.41 1201.52,250.49 1202.96,240.71 1204.4,231.08 1205.84,221.62 1207.28,212.36 1208.72,203.32 1210.15,194.5 1211.59,185.94 1213.03,177.66 1214.47,169.65 1215.91,161.96 1217.35,154.59 1218.79,147.56 1220.23,140.88 1221.66,134.56 1223.1,128.63 1224.54,123.1 1225.98,117.97 1227.42,113.25 1228.86,108.97 1230.3,105.12 1231.73,101.71 1233.17,98.76 1234.61,96.26 1236.05,94.23 1237.49,92.67 1238.93,91.57 1240.37,90.95 1241.81,90.81 1243.24,91.14 1244.68,91.95 1246.12,93.22 1247.56,94.97 1249,97.19 1250.44,99.86 1251.88,102.99 1253.31,106.57 1254.75,110.6 1256.19,115.05 1257.63,119.93 1259.07,125.22 1260.51,130.91 1261.95,137 1263.39,143.45 1264.82,150.27 1266.26,157.44 1267.7,164.94 1269.14,172.76 1270.58,180.87 1272.02,189.27 1273.46,197.93 1274.9,206.84 1276.33,215.97 1277.77,225.31 1279.21,234.84 1280.65,244.53 1282.09,254.37 1283.53,264.33 1284.97,274.4 1286.4,284.54 1287.84,294.75 1289.28,304.99 1290.72,315.25 1292.16,325.51 1293.6,335.73 1295.04,345.9 1296.48,356.01 1297.91,366.02 1299.35,375.91 1300.79,385.67 1302.23,395.27 1303.67,404.69 1305.11,413.91 1306.55,422.92 1307.99,431.68 1309.42,440.2 1310.86,448.43 1312.3,456.38 1313.74,464.01 1315.18,471.33 1316.62,478.29 1318.06,484.91 1319.49,491.15 1320.93,497.01 1322.37,502.47 1323.81,507.53 1325.25,512.16 1326.69,516.37 1328.13,520.14 1329.57,523.46 1331,526.33 1332.44,528.75 1333.88,530.69 1335.32,532.17 1336.76,533.18 1338.2,533.71 1339.64,533.77 1341.08,533.35 1342.51,532.46 1343.95,531.09 1345.39,529.26 1346.83,526.96 1348.27,524.2 1349.71,520.98 1351.15,517.32 1352.58,513.22 1354.02,508.69 1355.46,503.73 1356.9,498.37 1358.34,492.6 1359.78,486.45 1361.22,479.92 1362.66,473.04 1364.09,465.81 1365.53,458.25 1366.97,450.38 1368.41,442.21 1369.85,433.76 1371.29,425.05 1372.73,416.1 1374.16,406.93 1375.6,397.56 1377.04,388 1378.48,378.28 1379.92,368.41 1381.36,358.43 1382.8,348.35 1384.24,338.19 1385.67,327.98 1387.11,317.73 1388.55,307.47 1389.99,297.22 1391.43,287 1392.87,276.84 1394.31,266.75 1395.75,256.76 1397.18,246.89 1398.62,237.16 1400.06,227.59 1401.5,218.21 1402.94,209.02 1404.38,200.06 1405.82,191.34 1407.25,182.87 1408.69,174.69 1410.13,166.8 1411.57,159.22 1413.01,151.97 1414.45,145.07 1415.89,138.52 1417.33,132.35 1418.76,126.56 1420.2,121.17 1421.64,116.19 1423.08,111.63 1424.52,107.51 1425.96,103.82 1427.4,100.58 1428.84,97.79 1430.27,95.46 1431.71,93.6 1433.15,92.21 1434.59,91.29 1436.03,90.85 1437.47,90.88 1438.91,91.38 1440.34,92.36 1441.78,93.81 1443.22,95.73 1444.66,98.11 1446.1,100.96 1447.54,104.25 1448.98,108 1450.42,112.18 1451.85,116.79 1453.29,121.82 1454.73,127.26 1456.17,133.1 1457.61,139.32 1459.05,145.91 1460.49,152.86 1461.93,160.15 1463.36,167.77 1464.8,175.7 1466.24,183.92 1467.68,192.41 1469.12,201.17 1470.56,210.16 1472,219.37 1473.43,228.78 1474.87,238.37 1476.31,248.12 1477.75,258.01 1479.19,268.01 1480.63,278.11 1482.07,288.28 1483.51,298.5 1484.94,308.75 1486.38,319.01 1487.82,329.26 1489.26,339.47 1490.7,349.62 1492.14,359.69 1493.58,369.66 1495.01,379.5 1496.45,389.2 1497.89,398.74 1499.33,408.09 1500.77,417.24 1502.21,426.16 1503.65,434.83 1505.09,443.25 1506.52,451.38 1507.96,459.21 1509.4,466.73 1510.84,473.92 1512.28,480.76 1513.72,487.24 1515.16,493.34 1516.6,499.06 1518.03,504.37 1519.47,509.28 1520.91,513.76 1522.35,517.8 1523.79,521.41 1525.23,524.57 1526.67,527.27 1528.1,529.51 1529.54,531.29 1530.98,532.59 1532.42,533.43 1533.86,533.78 1535.3,533.67 1536.74,533.08 1538.18,532.01 1539.61,530.47 1541.05,528.47 1542.49,526 1543.93,523.07 1545.37,519.69 1546.81,515.87 1548.25,511.61 1549.69,506.92 1551.12,501.81 1552.56,496.3 1554,490.39 1555.44,484.1 1556.88,477.44 1558.32,470.43 1559.76,463.08 1561.19,455.4 1562.63,447.42 1564.07,439.14 1565.51,430.6 1566.95,421.8 1568.39,412.77 1569.83,403.52 1571.27,394.07 1572.7,384.45 1574.14,374.68 1575.58,364.77 1577.02,354.75 1578.46,344.63 1579.9,334.45 1581.34,324.22 1582.78,313.97 1584.21,303.71 1585.65,293.47 1587.09,283.27 1588.53,273.13 1589.97,263.08 1591.41,253.13 1592.85,243.31 1594.28,233.64 1595.72,224.13 1597.16,214.82 1598.6,205.71 1600.04,196.83 1601.48,188.2 1602.92,179.84 1604.36,171.76 1605.79,163.98 1607.23,156.52 1608.67,149.4 1610.11,142.62 1611.55,136.21 1612.99,130.18 1614.43,124.54 1615.86,119.3 1617.3,114.47 1618.74,110.07 1620.18,106.1 1621.62,102.58 1623.06,99.5 1624.5,96.88 1625.94,94.73 1627.37,93.04 1628.81,91.82 1630.25,91.07 1631.69,90.8 1633.13,91.01 1634.57,91.68 1636.01,92.84 1637.45,94.46 1638.88,96.55 1640.32,99.1 1641.76,102.11 1643.2,105.58 1644.64,109.48 1646.08,113.82 1647.52,118.59 1648.95,123.77 1650.39,129.36 1651.83,135.33 1653.27,141.69 1654.71,148.42 1656.15,155.49 1657.59,162.91 1659.03,170.64 1660.46,178.68 1661.9,187 1663.34,195.59 1664.78,204.44 1666.22,213.51 1667.66,222.8 1669.1,232.28 1670.54,241.93 1671.97,251.73 1673.41,261.66 1674.85,271.7 1676.29,281.83 1677.73,292.02 1679.17,302.26 1680.61,312.51 1682.04,322.77 1683.48,333 1684.92,343.19 1686.36,353.32 1687.8,363.35 1689.24,373.28 1690.68,383.08 1692.12,392.72 1693.55,402.19 1694.99,411.47 1696.43,420.53 1697.87,429.37 1699.31,437.95 1700.75,446.26 1702.19,454.29 1703.63,462.01 1705.06,469.41 1706.5,476.47 1707.94,483.18 1709.38,489.52 1710.82,495.48 1712.26,501.05 1713.7,506.22 1715.13,510.97 1716.57,515.29 1718.01,519.18 1719.45,522.62 1720.89,525.61 1722.33,528.15 1723.77,530.22 1725.21,531.82 1726.64,532.95 1728.08,533.61 1729.52,533.8 1730.96,533.51 1732.4,532.74 1733.84,531.5 1735.28,529.79 1736.71,527.62 1738.15,524.98 1739.59,521.89 1741.03,518.34 1742.47,514.36 1743.91,509.94 1745.35,505.09 1746.79,499.84 1748.22,494.18 1749.66,488.13 1751.1,481.7 1752.54,474.91 1753.98,467.77 1755.42,460.3 1756.86,452.51 1758.3,444.42 1759.73,436.04 1761.17,427.4 1762.61,418.52 1764.05,409.4 1765.49,400.08 1766.93,390.57 1768.37,380.89 1769.8,371.06 1771.24,361.11 1772.68,351.05 1774.12,340.91 1775.56,330.71 1777,320.47 1778.44,310.21 1779.88,299.95 1781.31,289.72 1782.75,279.54 1784.19,269.44 1785.63,259.42 1787.07,249.51 1788.51,239.74 1789.95,230.13 1791.39,220.69 1792.82,211.45 1794.26,202.43 1795.7,193.64 1797.14,185.11 1798.58,176.85 1800.02,168.88 1801.46,161.21 1802.89,153.87 1804.33,146.88 1805.77,140.23 1807.21,133.96 1808.65,128.07 1810.09,122.57 1811.53,117.48 1812.97,112.81 1814.4,108.56 1815.84,104.76 1817.28,101.4 1818.72,98.49 1820.16,96.04 1821.6,94.05 1823.04,92.54 1824.48,91.49 1825.91,90.92 1827.35,90.82 1828.79,91.2 1830.23,92.05 1831.67,93.38 1833.11,95.17 1834.55,97.43 1835.98,100.15 1837.42,103.33 1838.86,106.96 1840.3,111.02 1841.74,115.52 1843.18,120.44 1844.62,125.77 1846.06,131.5 1847.49,137.62 1848.93,144.12 1850.37,150.97 1851.81,158.17 1853.25,165.7 1854.69,173.55 1856.13,181.7 1857.56,190.12 1859,198.81 1860.44,207.74 1861.88,216.89 1863.32,226.25 1864.76,235.8 1866.2,245.5 1867.64,255.35 1869.07,265.33 1870.51,275.4 1871.95,285.56 1873.39,295.77 1874.83,306.01 1876.27,316.27 1877.71,326.52 1879.15,336.75 1880.58,346.91 1882.02,357.01 1883.46,367.01 1884.9,376.89 1886.34,386.63 1887.78,396.21 1889.22,405.61 1890.65,414.82 1892.09,423.8 1893.53,432.54 1894.97,441.03 1896.41,449.24 1897.85,457.15 1899.29,464.76 1900.73,472.03 1902.16,478.97 1903.6,485.55 1905.04,491.75 1906.48,497.57 1907.92,502.99 1909.36,508.01 1910.8,512.6 1912.24,516.77 1913.67,520.49 1915.11,523.77 1915.96,525.49 1916.55,526.59 1917.48,528.18 1917.99,528.96" fill="none" stroke="#D95319" stroke-width="12.5" stroke-linejoin="round" stroke-linecap="butt"/>
<polyline points="193,423.05 193.51,426.05 194.44,431.48 195.03,434.88 195.88,439.68 197.32,447.62 198.75,455.29 200.19,462.68 201.63,469.78 203.07,476.56 204.51,483.01 205.95,489.13 207.39,494.89 208.83,500.29 210.26,505.32 211.7,509.97 213.14,514.22 214.58,518.08 216.02,521.52 217.46,524.55 218.9,527.16 220.34,529.35 221.77,531.1 223.21,532.42 224.65,533.3 226.09,533.74 227.53,533.75 228.97,533.31 230.41,532.44 231.84,531.13 233.28,529.38 234.72,527.21 236.16,524.61 237.6,521.59 239.04,518.15 240.48,514.3 241.92,510.06 243.35,505.42 244.79,500.4 246.23,495 247.67,489.24 249.11,483.13 250.55,476.69 251.99,469.91 253.43,462.83 254.86,455.44 256.3,447.77 257.74,439.84 259.18,431.64 260.62,423.22 262.06,414.57 263.5,405.72 264.93,396.68 266.37,387.48 267.81,378.13 269.25,368.65 270.69,359.05 272.13,349.37 273.57,339.6 275.01,329.79 276.44,319.94 277.88,310.08 279.32,300.21 280.76,290.38 282.2,280.59 283.64,270.86 285.08,261.21 286.51,251.66 287.95,242.24 289.39,232.95 290.83,223.82 292.27,214.86 293.71,206.1 295.15,197.55 296.59,189.23 298.02,181.15 299.46,173.33 300.9,165.79 302.34,158.54 303.78,151.59 305.22,144.96 306.66,138.67 308.1,132.72 309.53,127.12 310.97,121.89 312.41,117.04 313.85,112.58 315.29,108.51 316.73,104.85 318.17,101.6 319.6,98.77 321.04,96.36 322.48,94.38 323.92,92.83 325.36,91.71 326.8,91.04 328.24,90.8 329.68,91 331.11,91.64 332.55,92.72 333.99,94.24 335.43,96.19 336.87,98.56 338.31,101.36 339.75,104.58 341.19,108.21 342.62,112.25 344.06,116.68 345.5,121.5 346.94,126.7 348.38,132.27 349.82,138.19 351.26,144.46 352.69,151.06 354.13,157.98 355.57,165.21 357.01,172.73 358.45,180.53 359.89,188.59 361.33,196.89 362.77,205.43 364.2,214.17 365.64,223.11 367.08,232.23 368.52,241.5 369.96,250.92 371.4,260.46 372.84,270.1 374.28,279.82 375.71,289.61 377.15,299.44 378.59,309.3 380.03,319.17 381.47,329.02 382.91,338.84 384.35,348.6 385.78,358.3 387.22,367.9 388.66,377.39 390.1,386.75 391.54,395.97 392.98,405.02 394.42,413.88 395.86,422.55 397.29,431.31 398.73,439.83 400.17,448.08 401.61,456.04 403.05,463.69 404.49,471.01 405.93,478 407.36,484.63 408.8,490.89 410.24,496.76 411.68,502.24 413.12,507.32 414.56,511.97 416,516.2 417.44,519.98 418.87,523.33 420.31,526.22 421.75,528.65 423.19,530.62 424.63,532.11 426.07,533.14 427.51,533.7 428.95,533.77 430.38,533.38 431.82,532.5 433.26,531.16 434.7,529.35 436.14,527.07 437.58,524.33 439.02,521.13 440.45,517.49 441.89,513.41 443.33,508.89 444.77,503.96 446.21,498.61 447.65,492.86 449.09,486.73 450.53,480.22 451.96,473.35 453.4,466.13 454.84,458.59 456.28,450.73 457.72,442.57 459.16,434.14 460.6,425.44 462.04,416.5 463.47,407.34 464.91,397.97 466.35,388.42 467.79,378.71 469.23,368.85 470.67,358.87 472.11,348.79 473.54,338.64 474.98,328.42 476.42,318.18 477.86,307.92 479.3,297.67 480.74,287.45 482.18,277.28 483.62,267.19 485.05,257.2 486.49,247.32 487.93,237.58 489.37,228.01 490.81,218.61 492.25,209.42 493.69,200.45 495.13,191.71 496.56,183.24 498,175.04 499.44,167.14 500.88,159.55 502.32,152.28 503.76,145.36 505.2,138.8 506.63,132.61 508.07,126.8 509.51,121.4 510.95,116.4 512.39,111.82 513.83,107.68 515.27,103.97 516.71,100.71 518.14,97.9 519.58,95.56 521.02,93.67 522.46,92.26 523.9,91.32 525.34,90.86 526.78,90.86 528.21,91.35 529.65,92.31 531.09,93.74 532.53,95.64 533.97,98 535.41,100.82 536.85,104.1 538.29,107.83 539.72,111.99 541.16,116.58 542.6,121.59 544.04,127.02 545.48,132.83 546.92,139.04 548.36,145.62 549.8,152.55 551.23,159.83 552.67,167.43 554.11,175.34 555.55,183.55 556.99,192.04 558.43,200.78 559.87,209.76 561.3,218.96 562.74,228.37 564.18,237.95 565.62,247.69 567.06,257.57 568.5,267.57 569.94,277.66 571.38,287.83 572.81,298.05 574.25,308.3 575.69,318.56 577.13,328.81 578.57,339.02 580.01,349.17 581.45,359.25 582.89,369.22 584.32,379.07 585.76,388.78 587.2,398.33 588.64,407.69 590.08,416.84 591.52,425.77 592.96,434.46 594.39,442.89 595.83,451.03 597.27,458.88 598.71,466.41 600.15,473.61 601.59,480.47 603.03,486.96 604.47,493.08 605.9,498.82 607.34,504.15 608.78,509.07 610.22,513.57 611.66,517.64 613.1,521.26 614.54,524.44 615.98,527.16 617.41,529.42 618.85,531.22 620.29,532.55 621.73,533.4 623.17,533.78 624.61,533.68 626.05,533.11 627.48,532.07 628.92,530.55 630.36,528.57 631.8,526.12 633.24,523.21 634.68,519.85 636.12,516.04 637.56,511.8 638.99,507.13 640.43,502.04 641.87,496.55 643.31,490.66 644.75,484.38 646.19,477.74 647.63,470.74 649.06,463.4 650.5,455.74 651.94,447.77 653.38,439.51 654.82,430.98 656.26,422.19 657.7,413.17 659.14,403.93 660.57,394.49 662.01,384.88 663.45,375.11 664.89,365.2 666.33,355.19 667.77,345.08 669.21,334.9 670.65,324.67 672.08,314.42 673.52,304.16 674.96,293.92 676.4,283.71 677.84,273.57 679.28,263.52 680.72,253.56 682.15,243.73 683.59,234.06 685.03,224.54 686.47,215.22 687.91,206.1 689.35,197.22 690.79,188.58 692.23,180.2 693.66,172.11 695.1,164.32 696.54,156.84 697.98,149.7 699.42,142.91 700.86,136.49 702.3,130.44 703.74,124.78 705.17,119.52 706.61,114.67 708.05,110.25 709.49,106.27 710.93,102.72 712.37,99.63 713.81,96.99 715.24,94.81 716.68,93.1 718.12,91.86 719.56,91.1 721,90.8 722.44,90.99 723.88,91.64 725.32,92.78 726.75,94.38 728.19,96.45 729.63,98.98 731.07,101.97 732.51,105.41 733.95,109.3 735.39,113.62 736.83,118.37 738.26,123.53 739.7,129.1 741.14,135.06 742.58,141.41 744.02,148.12 745.46,155.18 746.9,162.58 748.33,170.3 749.77,178.32 751.21,186.63 752.65,195.21 754.09,204.05 755.53,213.11 756.97,222.39 758.41,231.86 759.84,241.5 761.28,251.3 762.72,261.22 764.16,271.26 765.6,281.38 767.04,291.57 768.48,301.81 769.91,312.06 771.35,322.32 772.79,332.56 774.23,342.75 775.67,352.88 777.11,362.92 778.55,372.85 779.99,382.65 781.42,392.3 782.86,401.78 784.3,411.07 785.74,420.14 787.18,428.99 788.62,437.58 790.06,445.9 791.5,453.94 792.93,461.68 794.37,469.09 795.81,476.17 797.25,482.89 798.69,489.25 800.13,495.23 801.57,500.82 803,506 804.44,510.77 805.88,515.11 807.32,519.02 808.76,522.48 810.2,525.49 811.64,528.05 813.08,530.14 814.51,531.76 815.95,532.91 817.39,533.59 818.83,533.8 820.27,533.53 821.71,532.78 823.15,531.57 824.59,529.88 826.02,527.72 827.46,525.1 828.9,522.03 830.34,518.51 831.78,514.54 833.22,510.14 834.66,505.31 836.09,500.08 837.53,494.43 838.97,488.4 840.41,481.99 841.85,475.22 843.29,468.09 844.73,460.63 846.17,452.86 847.6,444.78 849.04,436.42 850.48,427.79 851.92,418.91 853.36,409.8 854.8,400.49 856.24,390.99 857.68,381.31 859.11,371.49 860.55,361.55 861.99,351.49 863.43,341.35 864.87,331.15 866.31,320.91 867.75,310.66 869.18,300.4 870.62,290.17 872.06,279.99 873.5,269.88 874.94,259.85 876.38,249.94 877.82,240.17 879.26,230.55 880.69,221.1 882.13,211.85 883.57,202.82 885.01,194.02 886.45,185.47 887.89,177.2 889.33,169.22 890.76,161.54 892.2,154.19 893.64,147.17 895.08,140.51 896.52,134.22 897.96,128.31 899.4,122.8 900.84,117.69 902.27,113 903.71,108.74 905.15,104.92 906.59,101.53 908.03,98.61 909.47,96.14 910.91,94.13 912.35,92.59 913.78,91.53 915.22,90.93 916.66,90.82 918.1,91.17 919.54,92 920.98,93.31 922.42,95.08 923.85,97.32 925.29,100.02 926.73,103.18 928.17,106.79 929.61,110.83 931.05,115.31 932.49,120.21 933.93,125.53 935.36,131.24 936.8,137.35 938.24,143.82 939.68,150.66 941.12,157.85 942.56,165.37 944,173.2 945.44,181.33 946.87,189.75 948.31,198.42 949.75,207.34 951.19,216.49 952.63,225.84 954.07,235.37 955.51,245.08 956.94,254.92 958.38,264.89 959.82,274.96 961.26,285.11 962.7,295.32 964.14,305.56 965.58,315.82 967.02,326.08 968.45,336.3 969.89,346.47 971.33,356.57 972.77,366.57 974.21,376.46 975.65,386.21 977.09,395.8 978.53,405.21 979.96,414.42 981.4,423.41 982.84,432.17 984.28,440.66 985.72,448.88 987.16,456.81 988.6,464.43 990.03,471.72 991.47,478.67 992.91,485.27 994.35,491.49 995.79,497.33 997.23,502.77 998.67,507.8 1000.11,512.41 1001.54,516.59 1002.98,520.34 1004.42,523.64 1005.86,526.48 1007.3,528.87 1008.74,530.79 1010.18,532.24 1011.61,533.22 1013.05,533.72 1014.49,533.75 1015.93,533.31 1017.37,532.39 1018.81,531 1020.25,529.14 1021.69,526.82 1023.12,524.03 1024.56,520.79 1026,517.1 1027.44,512.98 1028.88,508.42 1030.32,503.44 1031.76,498.05 1033.2,492.27 1034.63,486.09 1036.07,479.55 1037.51,472.64 1038.95,465.4 1040.39,457.82 1041.83,449.93 1043.27,441.75 1044.7,433.28 1046.14,424.56 1047.58,415.6 1049.02,406.41 1050.46,397.03 1051.9,387.46 1053.34,377.73 1054.78,367.86 1056.21,357.87 1057.65,347.78 1059.09,337.62 1060.53,327.4 1061.97,317.16 1063.41,306.9 1064.85,296.65 1066.29,286.43 1067.72,276.27 1069.16,266.19 1070.6,256.21 1072.04,246.34 1073.48,236.62 1074.92,227.06 1076.36,217.69 1077.79,208.52 1079.23,199.57 1080.67,190.86 1082.11,182.41 1083.55,174.24 1084.99,166.37 1086.43,158.81 1087.87,151.58 1089.3,144.69 1090.74,138.17 1092.18,132.01 1093.62,126.25 1095.06,120.88 1096.5,115.93 1097.94,111.39 1099.38,107.29 1100.81,103.62 1102.25,100.41 1103.69,97.65 1105.13,95.35 1106.57,93.51 1108.01,92.15 1109.45,91.25 1110.88,90.83 1112.32,90.89 1113.76,91.42 1115.2,92.43 1116.64,93.9 1118.08,95.85 1119.52,98.26 1120.96,101.13 1122.39,104.45 1123.83,108.22 1125.27,112.43 1126.71,117.06 1128.15,122.12 1129.59,127.58 1131.03,133.44 1132.46,139.68 1133.9,146.29 1135.34,153.26 1136.78,160.57 1138.22,168.2 1139.66,176.15 1141.1,184.39 1142.54,192.9 1143.97,201.66 1145.41,210.67 1146.85,219.89 1148.29,229.31 1149.73,238.91 1151.17,248.67 1152.61,258.56 1154.05,268.57 1155.48,278.67 1156.92,288.85 1158.36,299.07 1159.8,309.32 1161.24,319.58 1162.68,329.83 1164.12,340.03 1165.55,350.18 1166.99,360.25 1168.43,370.21 1169.87,380.05 1171.31,389.74 1172.75,399.27 1174.19,408.61 1175.63,417.74 1177.06,426.65 1178.5,435.31 1179.94,443.71 1181.38,451.83 1182.82,459.64 1184.26,467.14 1185.7,474.31 1187.14,481.13 1188.57,487.59 1190.01,493.67 1191.45,499.37 1192.89,504.66 1194.33,509.54 1195.77,513.99 1197.21,518.02 1198.64,521.6 1200.08,524.73 1201.52,527.41 1202.96,529.62 1204.4,531.37 1205.84,532.65 1207.28,533.46 1208.72,533.79 1210.15,533.65 1211.59,533.03 1213.03,531.94 1214.47,530.37 1215.91,528.34 1217.35,525.85 1218.79,522.9 1220.23,519.49 1221.66,515.64 1223.1,511.36 1224.54,506.64 1225.98,501.51 1227.42,495.98 1228.86,490.05 1230.3,483.74 1231.73,477.06 1233.17,470.03 1234.61,462.66 1236.05,454.96 1237.49,446.96 1238.93,438.67 1240.37,430.12 1241.81,421.3 1243.24,412.26 1244.68,403 1246.12,393.54 1247.56,383.91 1249,374.13 1250.44,364.21 1251.88,354.18 1253.31,344.07 1254.75,333.88 1256.19,323.65 1257.63,313.39 1259.07,303.14 1260.51,292.9 1261.95,282.7 1263.39,272.57 1264.82,262.52 1266.26,252.58 1267.7,242.76 1269.14,233.1 1270.58,223.61 1272.02,214.3 1273.46,205.21 1274.9,196.34 1276.33,187.73 1277.77,179.38 1279.21,171.32 1280.65,163.56 1282.09,156.12 1283.53,149.01 1284.97,142.26 1286.4,135.87 1287.84,129.85 1289.28,124.23 1290.72,119.02 1292.16,114.21 1293.6,109.84 1295.04,105.89 1296.48,102.39 1297.91,99.34 1299.35,96.75 1300.79,94.62 1302.23,92.96 1303.67,91.76 1305.11,91.04 1306.55,90.8 1307.99,91.03 1309.42,91.74 1310.86,92.91 1312.3,94.56 1313.74,96.68 1315.18,99.26 1316.62,102.29 1318.06,105.78 1319.49,109.71 1320.93,114.08 1322.37,118.87 1323.81,124.07 1325.25,129.68 1326.69,135.68 1328.13,142.06 1329.57,148.8 1331,155.9 1332.44,163.33 1333.88,171.08 1335.32,179.13 1336.76,187.47 1338.2,196.08 1339.64,204.94 1341.08,214.02 1342.51,223.32 1343.95,232.81 1345.39,242.47 1346.83,252.28 1348.27,262.22 1349.71,272.26 1351.15,282.39 1352.58,292.59 1354.02,302.83 1355.46,313.09 1356.9,323.34 1358.34,333.57 1359.78,343.76 1361.22,353.88 1362.66,363.91 1364.09,373.83 1365.53,383.62 1366.97,393.25 1368.41,402.71 1369.85,411.98 1371.29,421.03 1372.73,429.85 1374.16,438.42 1375.6,446.72 1377.04,454.73 1378.48,462.43 1379.92,469.81 1381.36,476.85 1382.8,483.54 1384.24,489.86 1385.67,495.81 1387.11,501.35 1388.55,506.5 1389.99,511.22 1391.43,515.52 1392.87,519.38 1394.31,522.8 1395.75,525.77 1397.18,528.27 1398.62,530.32 1400.06,531.9 1401.5,533 1402.94,533.64 1404.38,533.79 1405.82,533.48 1407.25,532.68 1408.69,531.42 1410.13,529.68 1411.57,527.48 1413.01,524.82 1414.45,521.7 1415.89,518.13 1417.33,514.12 1418.76,509.68 1420.2,504.81 1421.64,499.53 1423.08,493.85 1424.52,487.78 1425.96,481.33 1427.4,474.52 1428.84,467.36 1430.27,459.87 1431.71,452.07 1433.15,443.96 1434.59,435.57 1436.03,426.91 1437.47,418.01 1438.91,408.89 1440.34,399.55 1441.78,390.03 1443.22,380.34 1444.66,370.51 1446.1,360.55 1447.54,350.49 1448.98,340.34 1450.42,330.14 1451.85,319.89 1453.29,309.63 1454.73,299.38 1456.17,289.15 1457.61,278.98 1459.05,268.87 1460.49,258.86 1461.93,248.97 1463.36,239.2 1464.8,229.6 1466.24,220.17 1467.68,210.94 1469.12,201.93 1470.56,193.16 1472,184.64 1473.43,176.39 1474.87,168.44 1476.31,160.79 1477.75,153.47 1479.19,146.5 1480.63,139.87 1482.07,133.62 1483.51,127.75 1484.94,122.27 1486.38,117.21 1487.82,112.56 1489.26,108.34 1490.7,104.56 1492.14,101.22 1493.58,98.34 1495.01,95.92 1496.45,93.96 1497.89,92.47 1499.33,91.45 1500.77,90.9 1502.21,90.83 1503.65,91.23 1505.09,92.11 1506.52,93.46 1507.96,95.29 1509.4,97.57 1510.84,100.32 1512.28,103.52 1513.72,107.17 1515.16,111.26 1516.6,115.78 1518.03,120.73 1519.47,126.08 1520.91,131.83 1522.35,137.97 1523.79,144.49 1525.23,151.36 1526.67,158.58 1528.1,166.13 1529.54,174 1530.98,182.16 1532.42,190.6 1533.86,199.3 1535.3,208.24 1536.74,217.41 1538.18,226.78 1539.61,236.33 1541.05,246.05 1542.49,255.91 1543.93,265.89 1545.37,275.97 1546.81,286.12 1548.25,296.34 1549.69,306.59 1551.12,316.85 1552.56,327.1 1554,337.31 1555.44,347.48 1556.88,357.57 1558.32,367.56 1559.76,377.43 1561.19,387.17 1562.63,396.74 1564.07,406.13 1565.51,415.32 1566.95,424.29 1568.39,433.02 1569.83,441.49 1571.27,449.69 1572.7,457.59 1574.14,465.17 1575.58,472.43 1577.02,479.35 1578.46,485.9 1579.9,492.09 1581.34,497.89 1582.78,503.29 1584.21,508.28 1585.65,512.85 1587.09,516.99 1588.53,520.69 1589.97,523.94 1591.41,526.74 1592.85,529.08 1594.28,530.95 1595.72,532.36 1597.16,533.29 1598.6,533.75 1600.04,533.73 1601.48,533.24 1602.92,532.27 1604.36,530.84 1605.79,528.93 1607.23,526.56 1608.67,523.73 1610.11,520.44 1611.55,516.71 1612.99,512.54 1614.43,507.94 1615.86,502.92 1617.3,497.5 1618.74,491.67 1620.18,485.46 1621.62,478.88 1623.06,471.94 1624.5,464.66 1625.94,457.05 1627.37,449.13 1628.81,440.91 1630.25,432.43 1631.69,423.68 1633.13,414.69 1634.57,405.49 1636.01,396.08 1637.45,386.5 1638.88,376.75 1640.32,366.87 1641.76,356.87 1643.2,346.78 1644.64,336.61 1646.08,326.39 1647.52,316.13 1648.95,305.87 1650.39,295.63 1651.83,285.42 1653.27,275.27 1654.71,265.19 1656.15,255.22 1657.59,245.37 1659.03,235.66 1660.46,226.12 1661.9,216.77 1663.34,207.61 1664.78,198.69 1666.22,190 1667.66,181.58 1669.1,173.44 1670.54,165.6 1671.97,158.07 1673.41,150.88 1674.85,144.03 1676.29,137.54 1677.73,131.42 1679.17,125.7 1680.61,120.37 1682.04,115.45 1683.48,110.96 1684.92,106.9 1686.36,103.28 1687.8,100.11 1689.24,97.4 1690.68,95.14 1692.12,93.36 1693.55,92.04 1694.99,91.19 1696.43,90.82 1697.87,90.92 1699.31,91.5 1700.75,92.55 1702.19,94.08 1703.63,96.07 1705.06,98.53 1706.5,101.44 1707.94,104.81 1709.38,108.62 1710.82,112.87 1712.26,117.55 1713.7,122.64 1715.13,128.14 1716.57,134.04 1718.01,140.32 1719.45,146.97 1720.89,153.97 1722.33,161.31 1723.77,168.98 1725.21,176.96 1726.64,185.22 1728.08,193.76 1729.52,202.55 1730.96,211.58 1732.4,220.82 1733.84,230.26 1735.28,239.88 1736.71,249.65 1738.15,259.55 1739.59,269.57 1741.03,279.68 1742.47,289.86 1743.91,300.09 1745.35,310.35 1746.79,320.61 1748.22,330.85 1749.66,341.05 1751.1,351.19 1752.54,361.24 1753.98,371.19 1755.42,381.02 1756.86,390.7 1758.3,400.21 1759.73,409.53 1761.17,418.64 1762.61,427.52 1764.05,436.16 1765.49,444.53 1766.93,452.62 1768.37,460.4 1769.8,467.87 1771.24,475.01 1772.68,481.79 1774.12,488.21 1775.56,494.26 1777,499.91 1778.44,505.16 1779.88,510 1781.31,514.41 1782.75,518.39 1784.19,521.93 1785.63,525.02 1787.07,527.65 1788.51,529.82 1789.95,531.52 1791.39,532.75 1792.82,533.51 1794.26,533.8 1795.7,533.61 1797.14,532.94 1798.58,531.8 1800.02,530.19 1801.46,528.12 1802.89,525.57 1804.33,522.58 1805.77,519.13 1807.21,515.23 1808.65,510.91 1810.09,506.15 1811.53,500.98 1812.97,495.41 1814.4,489.44 1815.84,483.09 1817.28,476.37 1818.72,469.31 1820.16,461.9 1821.6,454.18 1823.04,446.15 1824.48,437.83 1825.91,429.25 1827.35,420.41 1828.79,411.34 1830.23,402.06 1831.67,392.59 1833.11,382.94 1834.55,373.15 1835.98,363.22 1837.42,353.18 1838.86,343.06 1840.3,332.87 1841.74,322.63 1843.18,312.37 1844.62,302.12 1846.06,291.88 1847.49,281.69 1848.93,271.56 1850.37,261.52 1851.81,251.59 1853.25,241.8 1854.69,232.15 1856.13,222.67 1857.56,213.39 1859,204.32 1860.44,195.48 1861.88,186.89 1863.32,178.57 1864.76,170.53 1866.2,162.8 1867.64,155.4 1869.07,148.32 1870.51,141.6 1871.95,135.25 1873.39,129.28 1874.83,123.7 1876.27,118.52 1877.71,113.76 1879.15,109.42 1880.58,105.53 1882.02,102.07 1883.46,99.06 1884.9,96.52 1886.34,94.43 1887.78,92.82 1889.22,91.67 1890.65,91 1892.09,90.8 1893.53,91.08 1894.97,91.83 1896.41,93.06 1897.85,94.75 1899.29,96.92 1900.73,99.54 1902.16,102.62 1903.6,106.15 1905.04,110.13 1906.48,114.53 1907.92,119.37 1909.36,124.61 1910.8,130.26 1912.24,136.3 1913.67,142.71 1915.11,149.49 1915.96,153.66 1916.55,156.62 1917.48,161.42 1917.99,164.09" fill="none" stroke="#EDB120" stroke-width="12.5" stroke-linejoin="round" stroke-linecap="butt"/>
<rect x="397" y="644" width="1" height="385" fill="#dfdfdf"/>
<rect x="600" y="644" width="1" height="385" fill="#dfdfdf"/>
<rect x="804" y="644" width="1" height="385" fill="#dfdfdf"/>
<rect x="1008" y="644" width="1" height="385" fill="#dfdfdf"/>
<rect x="1211" y="644" width="1" height="385" fill="#dfdfdf"/>
<rect x="1415" y="644" width="1" height="385" fill="#dfdfdf"/>
<rect x="1618" y="644" width="1" height="385" fill="#dfdfdf"/>
<rect x="1822" y="644" width="1" height="385" fill="#dfdfdf"/>
<rect x="212" y="766" width="1694" height="1" fill="#dfdfdf"/>
<rect x="212" y="907" width="1694" height="1" fill="#dfdfdf"/>
<rect x="193" y="625" width="1732" height="1" fill="#262626"/>
<rect x="193" y="1047" width="1732" height="1" fill="#262626"/>
<rect x="193" y="625" width="1" height="423" fill="#262626"/>
<rect x="1924" y="625" width="1" height="423" fill="#262626"/>
<rect x="397" y="626" width="1" height="17" fill="#262626"/>
<rect x="397" y="1030" width="1" height="17" fill="#262626"/>
<rect x="600" y="626" width="1" height="17" fill="#262626"/>
<rect x="600" y="1030" width="1" height="17" fill="#262626"/>
<rect x="804" y="626" width="1" height="17" fill="#262626"/>
<rect x="804" y="1030" width="1" height="17" fill="#262626"/>
<rect x="1008" y="626" width="1" height="17" fill="#262626"/>
<rect x="1008" y="1030" width="1" height="17" fill="#262626"/>
<rect x="1211" y="626" width="1" height="17" fill="#262626"/>
<rect x="1211" y="1030" width="1" height="17" fill="#262626"/>
<rect x="1415" y="626" width="1" height="17" fill="#262626"/>
<rect x="1415" y="1030" width="1" height="17" fill="#262626"/>
<rect x="1618" y="626" width="1" height="17" fill="#262626"/>
<rect x="1618" y="1030" width="1" height="17" fill="#262626"/>
<rect x="1822" y="626" width="1" height="17" fill="#262626"/>
<rect x="1822" y="1030" width="1" height="17" fill="#262626"/>
<rect x="194" y="766" width="17" height="1" fill="#262626"/>
<rect x="1907" y="766" width="17" height="1" fill="#262626"/>
<rect x="194" y="907" width="17" height="1" fill="#262626"/>
<rect x="1907" y="907" width="17" height="1" fill="#262626"/>
<polyline points="193,1047.81 396.7,1047.81 396.72,1047.77 396.77,1047.67 396.84,1047.55 396.92,1047.4 397.02,1047.22 397.13,1047.02 397.25,1046.8 397.38,1046.56 397.52,1046.3 397.67,1046.03 397.82,1045.73 397.99,1045.42 398.17,1045.1 398.35,1044.76 398.55,1044.4 398.75,1044.03 398.96,1043.65 399.17,1043.25 399.4,1042.84 399.63,1042.42 399.86,1041.99 400.11,1041.54 400.36,1041.08 400.62,1040.61 400.88,1040.13 401.15,1039.63 401.43,1039.13 401.71,1038.61 402,1038.08 402.3,1037.55 402.6,1037 402.91,1036.44 403.22,1035.88 403.54,1035.3 403.87,1034.71 404.2,1034.12 404.53,1033.51 404.87,1032.89 405.22,1032.27 405.57,1031.64 405.93,1031 406.29,1030.35 406.66,1029.69 407.03,1029.02 407.41,1028.34 407.8,1027.66 408.18,1026.97 408.58,1026.27 408.98,1025.56 409.38,1024.85 409.79,1024.12 410.2,1023.39 410.62,1022.65 411.04,1021.91 411.47,1021.16 411.9,1020.4 412.34,1019.63 412.78,1018.86 413.22,1018.08 413.67,1017.29 414.13,1016.49 414.59,1015.69 415.05,1014.89 415.52,1014.07 415.99,1013.25 416.47,1012.43 416.95,1011.6 417.44,1010.76 417.93,1009.91 418.42,1009.06 418.92,1008.21 419.42,1007.35 419.93,1006.48 420.44,1005.61 420.96,1004.73 421.48,1003.85 422,1002.96 422.53,1002.06 423.06,1001.16 423.6,1000.26 424.14,999.35 424.68,998.43 425.23,997.51 425.78,996.59 426.34,995.66 426.9,994.73 427.46,993.79 428.03,992.85 428.6,991.9 429.17,990.95 429.75,989.99 430.34,989.03 430.92,988.07 431.51,987.1 432.11,986.12 432.71,985.15 433.31,984.17 433.91,983.18 434.52,982.19 435.14,981.2 435.75,980.2 436.37,979.2 437,978.2 437.63,977.19 438.26,976.18 438.89,975.17 439.53,974.15 440.17,973.13 440.82,972.11 441.47,971.08 442.12,970.05 442.78,969.02 443.44,967.98 444.1,966.94 444.77,965.9 445.44,964.86 446.11,963.81 446.79,962.76 447.47,961.71 448.16,960.66 448.84,959.6 449.54,958.54 450.23,957.48 450.93,956.41 451.63,955.35 452.33,954.28 453.04,953.21 453.75,952.13 454.47,951.06 455.19,949.98 455.91,948.9 456.63,947.82 457.36,946.74 458.09,945.65 458.83,944.57 459.57,943.48 460.31,942.39 461.05,941.3 461.8,940.21 462.55,939.11 463.3,938.02 464.06,936.92 464.82,935.82 465.59,934.73 466.35,933.63 467.12,932.52 467.9,931.42 468.67,930.32 469.45,929.21 470.23,928.11 471.02,927 471.81,925.9 472.6,924.79 473.4,923.68 474.2,922.57 475,921.46 475.8,920.35 476.61,919.24 477.42,918.13 478.23,917.02 479.05,915.9 479.87,914.79 480.69,913.68 481.52,912.57 482.35,911.45 483.18,910.34 484.02,909.23 484.85,908.11 485.7,907 486.54,905.89 487.39,904.77 488.24,903.66 489.09,902.55 489.95,901.44 490.8,900.32 491.67,899.21 492.53,898.1 493.4,896.99 494.27,895.88 495.14,894.77 496.02,893.66 496.9,892.55 497.78,891.44 498.67,890.34 499.55,889.23 500.45,888.12 501.34,887.02 502.24,885.91 503.14,884.81 504.04,883.71 504.94,882.61 505.85,881.51 506.76,880.41 507.68,879.31 508.59,878.21 509.51,877.12 510.43,876.02 511.36,874.93 512.29,873.84 513.22,872.75 514.15,871.66 515.09,870.57 516.03,869.48 516.97,868.4 517.91,867.32 518.86,866.23 519.81,865.15 520.76,864.08 521.72,863 522.68,861.93 523.64,860.85 524.6,859.78 525.57,858.71 526.54,857.65 527.51,856.58 528.49,855.52 529.46,854.46 530.45,853.4 531.43,852.34 532.41,851.29 533.4,850.23 534.39,849.18 535.39,848.14 536.38,847.09 537.38,846.05 538.38,845.01 539.39,843.97 540.4,842.93 541.41,841.9 542.42,840.87 543.43,839.84 544.45,838.81 545.47,837.79 546.49,836.77 547.52,835.75 548.55,834.73 549.58,833.72 550.61,832.71 551.65,831.7 552.69,830.7 553.73,829.7 554.77,828.7 555.82,827.7 556.87,826.71 557.92,825.72 558.97,824.73 560.03,823.75 561.09,822.77 562.15,821.79 563.21,820.81 564.28,819.84 565.35,818.87 566.42,817.91 567.5,816.95 568.57,815.99 569.65,815.03 570.74,814.08 571.82,813.13 572.91,812.19 574,811.25 575.09,810.31 576.19,809.37 577.28,808.44 578.38,807.51 579.49,806.59 580.59,805.67 581.7,804.75 582.81,803.84 583.92,802.93 585.03,802.02 586.15,801.12 587.27,800.22 588.39,799.32 589.52,798.43 590.65,797.54 591.78,796.66 592.91,795.78 594.04,794.9 595.18,794.03 596.32,793.16 597.46,792.3 598.6,791.44 599.75,790.58 600.9,789.73 602.05,788.88 603.21,788.03 604.36,787.19 605.52,786.35 606.68,785.52 607.85,784.69 609.01,783.87 610.18,783.05 611.35,782.23 612.53,781.42 613.7,780.61 614.88,779.81 616.06,779.01 617.24,778.21 618.43,777.42 619.62,776.63 620.81,775.85 622,775.07 623.19,774.29 624.39,773.52 625.59,772.76 626.79,772 628,771.24 629.2,770.49 630.41,769.74 631.62,769 632.84,768.26 634.05,767.52 635.27,766.79 636.49,766.06 637.72,765.34 638.94,764.62 640.17,763.91 641.4,763.2 642.63,762.5 643.87,761.8 645.1,761.1 646.34,760.41 647.58,759.73 648.83,759.05 650.07,758.37 651.32,757.7 652.57,757.03 653.83,756.37 655.08,755.71 656.34,755.05 657.6,754.41 658.86,753.76 660.13,753.12 661.39,752.49 662.66,751.85 663.93,751.23 665.21,750.61 666.48,749.99 667.76,749.38 669.04,748.77 670.32,748.17 671.61,747.57 672.9,746.97 674.19,746.39 675.48,745.8 676.77,745.22 678.07,744.65 679.37,744.08 680.67,743.51 681.97,742.95 683.28,742.39 684.58,741.84 685.89,741.3 687.2,740.75 688.52,740.22 689.83,739.68 691.15,739.16 692.47,738.63 693.8,738.11 695.12,737.6 696.45,737.09 697.78,736.59 699.11,736.09 700.45,735.59 701.78,735.1 703.12,734.62 704.46,734.13 705.8,733.66 707.15,733.19 708.5,732.72 709.85,732.26 711.2,731.8 712.55,731.35 713.91,730.9 715.26,730.46 716.62,730.02 717.99,729.58 719.35,729.15 720.72,728.73 722.09,728.31 723.46,727.89 724.83,727.48 726.21,727.08 727.59,726.67 728.97,726.28 730.35,725.88 731.73,725.5 733.12,725.11 734.51,724.73 735.9,724.36 737.29,723.99 738.68,723.63 740.08,723.27 741.48,722.91 742.88,722.56 744.28,722.21 745.69,721.87 747.1,721.53 748.51,721.2 749.92,720.87 751.33,720.55 752.75,720.23 754.17,719.91 755.59,719.6 757.01,719.3 758.43,719 759.86,718.7 761.29,718.41 762.72,718.12 764.15,717.83 765.59,717.55 767.03,717.28 768.46,717.01 769.91,716.74 771.35,716.48 772.79,716.22 774.24,715.97 775.69,715.72 777.14,715.48 778.6,715.24 780.05,715 781.51,714.77 782.97,714.54 784.43,714.32 785.9,714.1 787.36,713.88 788.83,713.67 790.3,713.47 791.77,713.26 793.25,713.07 794.73,712.87 796.2,712.68 797.69,712.5 799.17,712.31 800.65,712.14 802.14,711.96 803.63,711.79 805.12,711.63 806.61,711.47 808.11,711.31 809.6,711.15 811.1,711 812.6,710.86 814.11,710.72 815.61,710.58 817.12,710.45 818.63,710.32 820.14,710.19 821.65,710.07 823.17,709.95 824.69,709.83 826.21,709.72 827.73,709.62 829.25,709.51 830.78,709.41 832.3,709.32 833.83,709.22 835.36,709.14 836.9,709.05 838.43,708.97 839.97,708.89 841.51,708.82 843.05,708.75 844.6,708.68 846.14,708.62 847.69,708.56 849.24,708.5 850.79,708.45 852.34,708.4 853.9,708.35 855.46,708.31 857.01,708.27 858.58,708.24 860.14,708.2 861.7,708.18 863.27,708.15 864.84,708.13 866.41,708.11 867.99,708.09 869.56,708.08 871.14,708.07 872.72,708.07 874.3,708.06 875.88,708.06 877.47,708.07 879.05,708.07 880.64,708.08 882.23,708.1 883.83,708.11 885.42,708.13 887.02,708.15 888.62,708.18 890.22,708.21 891.82,708.24 893.42,708.27 895.03,708.31 896.64,708.35 898.25,708.39 899.86,708.43 901.48,708.48 903.09,708.53 904.71,708.59 906.33,708.64 907.95,708.7 909.58,708.76 911.2,708.83 912.83,708.9 914.46,708.97 916.09,709.04 917.73,709.11 919.36,709.19 921,709.27 922.64,709.35 924.28,709.44 925.92,709.53 927.57,709.62 929.22,709.71 930.86,709.8 932.52,709.9 934.17,710 935.82,710.1 937.48,710.21 939.14,710.31 940.8,710.42 942.46,710.53 944.13,710.65 945.79,710.76 947.46,710.88 949.13,711 950.8,711.12 952.47,711.25 954.15,711.37 955.83,711.5 957.51,711.63 959.19,711.77 960.87,711.9 962.56,712.04 964.24,712.18 965.93,712.32 967.62,712.46 969.32,712.6 971.01,712.75 972.71,712.9 974.4,713.05 976.1,713.2 977.81,713.35 979.51,713.51 981.22,713.67 982.92,713.82 984.63,713.98 986.34,714.15 988.06,714.31 989.77,714.48 991.49,714.64 993.21,714.81 994.93,714.98 996.65,715.15 998.38,715.33 1000.1,715.5 1001.83,715.68 1003.56,715.85 1005.29,716.03 1007.02,716.21 1008.76,716.4 1010.5,716.58 1012.24,716.76 1013.98,716.95 1015.72,717.14 1017.46,717.33 1019.21,717.51 1020.96,717.71 1022.71,717.9 1024.46,718.09 1026.22,718.29 1027.97,718.48 1029.73,718.68 1031.49,718.88 1033.25,719.08 1035.01,719.28 1036.78,719.48 1038.54,719.68 1040.31,719.88 1042.08,720.09 1043.85,720.29 1045.63,720.5 1047.4,720.7 1049.18,720.91 1050.96,721.12 1052.74,721.33 1054.53,721.54 1056.31,721.75 1058.1,721.96 1059.89,722.18 1061.68,722.39 1063.47,722.61 1065.26,722.82 1067.06,723.04 1068.85,723.25 1070.65,723.47 1072.46,723.69 1074.26,723.91 1076.06,724.13 1077.87,724.34 1079.68,724.57 1081.49,724.79 1083.3,725.01 1085.11,725.23 1086.93,725.45 1088.75,725.67 1090.57,725.9 1092.39,726.12 1094.21,726.35 1096.03,726.57 1097.86,726.79 1099.69,727.02 1101.52,727.25 1103.35,727.47 1105.18,727.7 1107.02,727.92 1108.85,728.15 1110.69,728.38 1112.53,728.61 1114.38,728.83 1116.22,729.06 1118.07,729.29 1119.91,729.52 1121.76,729.75 1123.61,729.98 1125.47,730.2 1127.32,730.43 1129.18,730.66 1131.04,730.89 1132.9,731.12 1134.76,731.35 1136.62,731.58 1138.49,731.81 1140.35,732.04 1142.22,732.27 1144.09,732.5 1145.97,732.72 1147.84,732.95 1149.71,733.18 1151.59,733.41 1153.47,733.64 1155.35,733.87 1157.24,734.1 1159.12,734.33 1161.01,734.55 1162.89,734.78 1164.78,735.01 1166.68,735.24 1168.57,735.47 1170.46,735.69 1172.36,735.92 1174.26,736.15 1176.16,736.37 1178.06,736.6 1179.97,736.83 1181.87,737.05 1183.78,737.28 1185.69,737.5 1187.6,737.73 1189.51,737.95 1191.42,738.17 1193.34,738.4 1195.26,738.62 1197.18,738.84 1199.1,739.07 1201.02,739.29 1202.95,739.51 1204.87,739.73 1206.8,739.95 1208.73,740.17 1210.66,740.39 1212.59,740.61 1214.53,740.83 1216.47,741.05 1218.4,741.27 1220.34,741.48 1222.28,741.7 1224.23,741.92 1226.17,742.13 1228.12,742.35 1230.07,742.56 1232.02,742.77 1233.97,742.99 1235.92,743.2 1237.88,743.41 1239.84,743.62 1241.8,743.83 1243.76,744.04 1245.72,744.25 1247.68,744.46 1249.65,744.67 1251.62,744.88 1253.58,745.08 1255.56,745.29 1257.53,745.49 1259.5,745.7 1261.48,745.9 1263.45,746.1 1265.43,746.31 1267.42,746.51 1269.4,746.71 1271.38,746.91 1273.37,747.11 1275.36,747.31 1277.34,747.5 1279.34,747.7 1281.33,747.9 1283.32,748.09 1285.32,748.29 1287.32,748.48 1289.32,748.67 1291.32,748.86 1293.32,749.05 1295.32,749.25 1297.33,749.43 1299.34,749.62 1301.35,749.81 1303.36,750 1305.37,750.18 1307.39,750.37 1309.4,750.55 1311.42,750.74 1313.44,750.92 1315.46,751.1 1317.48,751.28 1319.51,751.46 1321.53,751.64 1323.56,751.82 1325.59,751.99 1327.62,752.17 1329.66,752.34 1331.69,752.52 1333.73,752.69 1335.76,752.86 1337.8,753.04 1339.85,753.21 1341.89,753.37 1343.93,753.54 1345.98,753.71 1348.03,753.88 1350.08,754.04 1352.13,754.21 1354.18,754.37 1356.23,754.53 1358.29,754.7 1360.35,754.86 1362.41,755.02 1364.47,755.17 1366.53,755.33 1368.6,755.49 1370.66,755.65 1372.73,755.8 1374.8,755.95 1376.87,756.11 1378.94,756.26 1381.02,756.41 1383.09,756.56 1385.17,756.71 1387.25,756.86 1389.33,757 1391.41,757.15 1393.49,757.29 1395.58,757.44 1397.67,757.58 1399.76,757.72 1401.85,757.86 1403.94,758 1406.03,758.14 1408.13,758.28 1410.23,758.42 1412.32,758.55 1414.42,758.69 1416.53,758.82 1418.63,758.95 1420.74,759.08 1422.84,759.22 1424.95,759.34 1427.06,759.47 1429.17,759.6 1431.29,759.73 1433.4,759.85 1435.52,759.98 1437.63,760.1 1439.75,760.22 1441.88,760.35 1444,760.47 1446.12,760.59 1448.25,760.71 1450.38,760.82 1452.51,760.94 1454.64,761.06 1456.77,761.17 1458.91,761.28 1461.04,761.4 1463.18,761.51 1465.32,761.62 1467.46,761.73 1469.6,761.84 1471.74,761.94 1473.89,762.05 1476.04,762.16 1478.19,762.26 1480.34,762.37 1482.49,762.47 1484.64,762.57 1486.8,762.67 1488.95,762.77 1491.11,762.87 1493.27,762.97 1495.43,763.07 1497.6,763.16 1499.76,763.26 1501.93,763.35 1504.1,763.44 1506.27,763.54 1508.44,763.63 1510.61,763.72 1512.78,763.81 1514.96,763.9 1517.14,763.98 1519.32,764.07 1521.5,764.16 1523.68,764.24 1525.86,764.32 1528.05,764.41 1530.23,764.49 1532.42,764.57 1534.61,764.65 1536.8,764.73 1539,764.81 1541.19,764.89 1543.39,764.96 1545.59,765.04 1547.79,765.11 1549.99,765.19 1552.19,765.26 1554.4,765.33 1556.6,765.4 1558.81,765.47 1561.02,765.54 1563.23,765.61 1565.44,765.68 1567.65,765.75 1569.87,765.81 1572.09,765.88 1574.31,765.94 1576.53,766.01 1578.75,766.07 1580.97,766.13 1583.2,766.19 1585.42,766.25 1587.65,766.31 1589.88,766.37 1592.11,766.43 1594.34,766.49 1596.58,766.54 1598.81,766.6 1601.05,766.65 1603.29,766.71 1605.53,766.76 1607.77,766.81 1610.01,766.87 1612.26,766.92 1614.51,766.97 1616.75,767.02 1619,767.06 1621.26,767.11 1623.51,767.16 1625.76,767.21 1628.02,767.25 1630.28,767.3 1632.53,767.34 1634.8,767.38 1637.06,767.43 1639.32,767.47 1641.59,767.51 1643.85,767.55 1646.12,767.59 1648.39,767.63 1650.66,767.67 1652.94,767.71 1655.21,767.75 1657.49,767.78 1659.76,767.82 1662.04,767.85 1664.32,767.89 1666.61,767.92 1668.89,767.95 1671.17,767.99 1673.46,768.02 1675.75,768.05 1678.04,768.08 1680.33,768.11 1682.62,768.14 1684.92,768.17 1687.21,768.2 1689.51,768.23 1691.81,768.25 1694.11,768.28 1696.41,768.31 1698.72,768.33 1701.02,768.36 1703.33,768.38 1705.64,768.4 1707.95,768.43 1710.26,768.45 1712.57,768.47 1714.89,768.49 1717.2,768.51 1719.52,768.54 1721.84,768.55 1724.16,768.57 1726.48,768.59 1728.8,768.61 1731.13,768.63 1733.46,768.65 1735.78,768.66 1738.11,768.68 1740.45,768.7 1742.78,768.71 1745.11,768.73 1747.45,768.74 1749.79,768.75 1752.12,768.77 1754.46,768.78 1756.81,768.79 1759.15,768.8 1761.49,768.82 1763.84,768.83 1766.19,768.84 1768.54,768.85 1770.89,768.86 1773.24,768.87 1775.59,768.88 1777.95,768.88 1780.31,768.89 1782.66,768.9 1785.02,768.91 1787.39,768.91 1789.75,768.92 1792.11,768.93 1794.48,768.93 1796.85,768.94 1799.21,768.94 1801.59,768.95 1803.96,768.95 1806.33,768.96 1808.71,768.96 1811.08,768.96 1813.46,768.97 1815.84,768.97 1818.22,768.97 1820.6,768.97 1822.99,768.97 1825.37,768.97 1827.76,768.97 1830.15,768.98 1832.54,768.98 1834.93,768.98 1837.32,768.97 1839.71,768.97 1842.11,768.97 1844.51,768.97 1846.91,768.97 1849.31,768.97 1851.71,768.97 1854.11,768.96 1856.52,768.96 1858.92,768.96 1861.33,768.95 1863.74,768.95 1866.15,768.95 1868.56,768.94 1870.98,768.94 1873.39,768.93 1875.81,768.93 1878.23,768.93 1880.65,768.92 1883.07,768.91 1885.49,768.91 1887.91,768.9 1890.34,768.9 1892.77,768.89 1895.19,768.88 1897.62,768.88 1900.06,768.87 1902.49,768.86 1904.92,768.86 1907.36,768.85 1909.8,768.84 1912.23,768.83 1914.67,768.82 1917.12,768.82 1919.56,768.81 1922,768.8 1924.45,768.79" fill="none" stroke="#0072BD" stroke-width="12.5" stroke-linejoin="round" stroke-linecap="butt"/>
<polyline points="193,1047.81 396.7,1047.81 396.72,1047.81 396.77,1047.81 396.84,1047.81 396.92,1047.81 397.02,1047.8 397.13,1047.8 397.25,1047.79 397.38,1047.78 397.52,1047.77 397.67,1047.76 397.82,1047.74 397.99,1047.71 398.17,1047.69 398.35,1047.66 398.55,1047.62 398.75,1047.58 398.96,1047.53 399.17,1047.48 399.4,1047.42 399.63,1047.36 399.86,1047.29 400.11,1047.21 400.36,1047.13 400.62,1047.04 400.88,1046.94 401.15,1046.84 401.43,1046.73 401.71,1046.62 402,1046.49 402.3,1046.37 402.6,1046.23 402.91,1046.09 403.22,1045.94 403.54,1045.78 403.87,1045.62 404.2,1045.45 404.53,1045.28 404.87,1045.1 405.22,1044.91 405.57,1044.72 405.93,1044.52 406.29,1044.31 406.66,1044.1 407.03,1043.89 407.41,1043.67 407.8,1043.44 408.18,1043.21 408.58,1042.98 408.98,1042.74 409.38,1042.49 409.79,1042.24 410.2,1041.99 410.62,1041.73 411.04,1041.47 411.47,1041.21 411.9,1040.94 412.34,1040.67 412.78,1040.39 413.22,1040.12 413.67,1039.83 414.13,1039.55 414.59,1039.26 415.05,1038.97 415.52,1038.68 415.99,1038.38 416.47,1038.08 416.95,1037.78 417.44,1037.48 417.93,1037.17 418.42,1036.87 418.92,1036.56 419.42,1036.24 419.93,1035.93 420.44,1035.61 420.96,1035.29 421.48,1034.97 422,1034.65 422.53,1034.32 423.06,1034 423.6,1033.67 424.14,1033.34 424.68,1033 425.23,1032.67 425.78,1032.33 426.34,1031.99 426.9,1031.65 427.46,1031.3 428.03,1030.96 428.6,1030.61 429.17,1030.26 429.75,1029.9 430.34,1029.55 430.92,1029.19 431.51,1028.83 432.11,1028.47 432.71,1028.1 433.31,1027.74 433.91,1027.37 434.52,1026.99 435.14,1026.62 435.75,1026.24 436.37,1025.86 437,1025.48 437.63,1025.09 438.26,1024.7 438.89,1024.31 439.53,1023.92 440.17,1023.52 440.82,1023.12 441.47,1022.71 442.12,1022.31 442.78,1021.89 443.44,1021.48 444.1,1021.06 444.77,1020.64 445.44,1020.22 446.11,1019.79 446.79,1019.36 447.47,1018.93 448.16,1018.49 448.84,1018.05 449.54,1017.6 450.23,1017.16 450.93,1016.7 451.63,1016.25 452.33,1015.79 453.04,1015.33 453.75,1014.86 454.47,1014.39 455.19,1013.91 455.91,1013.43 456.63,1012.95 457.36,1012.47 458.09,1011.98 458.83,1011.48 459.57,1010.98 460.31,1010.48 461.05,1009.97 461.8,1009.46 462.55,1008.95 463.3,1008.43 464.06,1007.91 464.82,1007.38 465.59,1006.85 466.35,1006.31 467.12,1005.77 467.9,1005.23 468.67,1004.68 469.45,1004.13 470.23,1003.58 471.02,1003.02 471.81,1002.45 472.6,1001.88 473.4,1001.31 474.2,1000.73 475,1000.15 475.8,999.57 476.61,998.98 477.42,998.38 478.23,997.79 479.05,997.18 479.87,996.58 480.69,995.97 481.52,995.35 482.35,994.73 483.18,994.11 484.02,993.48 484.85,992.85 485.7,992.22 486.54,991.58 487.39,990.93 488.24,990.29 489.09,989.63 489.95,988.98 490.8,988.32 491.67,987.65 492.53,986.98 493.4,986.31 494.27,985.64 495.14,984.95 496.02,984.27 496.9,983.58 497.78,982.89 498.67,982.19 499.55,981.49 500.45,980.79 501.34,980.08 502.24,979.37 503.14,978.65 504.04,977.93 504.94,977.21 505.85,976.48 506.76,975.75 507.68,975.01 508.59,974.27 509.51,973.53 510.43,972.78 511.36,972.03 512.29,971.28 513.22,970.52 514.15,969.76 515.09,968.99 516.03,968.22 516.97,967.45 517.91,966.68 518.86,965.9 519.81,965.11 520.76,964.33 521.72,963.54 522.68,962.74 523.64,961.95 524.6,961.15 525.57,960.34 526.54,959.54 527.51,958.73 528.49,957.91 529.46,957.1 530.45,956.28 531.43,955.45 532.41,954.63 533.4,953.8 534.39,952.97 535.39,952.13 536.38,951.29 537.38,950.45 538.38,949.61 539.39,948.76 540.4,947.91 541.41,947.06 542.42,946.2 543.43,945.34 544.45,944.48 545.47,943.62 546.49,942.75 547.52,941.88 548.55,941.01 549.58,940.13 550.61,939.26 551.65,938.38 552.69,937.49 553.73,936.61 554.77,935.72 555.82,934.83 556.87,933.94 557.92,933.05 558.97,932.15 560.03,931.25 561.09,930.35 562.15,929.45 563.21,928.54 564.28,927.64 565.35,926.73 566.42,925.82 567.5,924.9 568.57,923.99 569.65,923.07 570.74,922.15 571.82,921.23 572.91,920.31 574,919.39 575.09,918.46 576.19,917.53 577.28,916.6 578.38,915.67 579.49,914.74 580.59,913.81 581.7,912.87 582.81,911.94 583.92,911 585.03,910.06 586.15,909.12 587.27,908.18 588.39,907.24 589.52,906.29 590.65,905.35 591.78,904.4 592.91,903.46 594.04,902.51 595.18,901.56 596.32,900.61 597.46,899.66 598.6,898.71 599.75,897.76 600.9,896.81 602.05,895.85 603.21,894.9 604.36,893.95 605.52,892.99 606.68,892.04 607.85,891.08 609.01,890.12 610.18,889.17 611.35,888.21 612.53,887.26 613.7,886.3 614.88,885.34 616.06,884.38 617.24,883.43 618.43,882.47 619.62,881.51 620.81,880.56 622,879.6 623.19,878.64 624.39,877.68 625.59,876.73 626.79,875.77 628,874.82 629.2,873.86 630.41,872.91 631.62,871.95 632.84,871 634.05,870.04 635.27,869.09 636.49,868.14 637.72,867.19 638.94,866.24 640.17,865.29 641.4,864.34 642.63,863.39 643.87,862.44 645.1,861.5 646.34,860.55 647.58,859.61 648.83,858.67 650.07,857.72 651.32,856.78 652.57,855.84 653.83,854.91 655.08,853.97 656.34,853.03 657.6,852.1 658.86,851.17 660.13,850.24 661.39,849.31 662.66,848.38 663.93,847.45 665.21,846.53 666.48,845.61 667.76,844.69 669.04,843.77 670.32,842.85 671.61,841.93 672.9,841.02 674.19,840.11 675.48,839.2 676.77,838.29 678.07,837.39 679.37,836.48 680.67,835.58 681.97,834.69 683.28,833.79 684.58,832.89 685.89,832 687.2,831.11 688.52,830.23 689.83,829.34 691.15,828.46 692.47,827.58 693.8,826.7 695.12,825.83 696.45,824.96 697.78,824.09 699.11,823.22 700.45,822.36 701.78,821.5 703.12,820.64 704.46,819.79 705.8,818.94 707.15,818.09 708.5,817.24 709.85,816.4 711.2,815.56 712.55,814.72 713.91,813.89 715.26,813.06 716.62,812.23 717.99,811.41 719.35,810.59 720.72,809.77 722.09,808.96 723.46,808.15 724.83,807.34 726.21,806.54 727.59,805.74 728.97,804.94 730.35,804.15 731.73,803.36 733.12,802.57 734.51,801.79 735.9,801.01 737.29,800.24 738.68,799.47 740.08,798.7 741.48,797.94 742.88,797.18 744.28,796.42 745.69,795.67 747.1,794.92 748.51,794.18 749.92,793.44 751.33,792.7 752.75,791.97 754.17,791.24 755.59,790.52 757.01,789.8 758.43,789.08 759.86,788.37 761.29,787.66 762.72,786.96 764.15,786.26 765.59,785.56 767.03,784.87 768.46,784.19 769.91,783.51 771.35,782.83 772.79,782.15 774.24,781.49 775.69,780.82 777.14,780.16 778.6,779.51 780.05,778.85 781.51,778.21 782.97,777.57 784.43,776.93 785.9,776.3 787.36,775.67 788.83,775.04 790.3,774.42 791.77,773.81 793.25,773.2 794.73,772.59 796.2,771.99 797.69,771.39 799.17,770.8 800.65,770.22 802.14,769.63 803.63,769.06 805.12,768.48 806.61,767.92 808.11,767.35 809.6,766.79 811.1,766.24 812.6,765.69 814.11,765.15 815.61,764.61 817.12,764.07 818.63,763.54 820.14,763.02 821.65,762.5 823.17,761.98 824.69,761.47 826.21,760.97 827.73,760.46 829.25,759.97 830.78,759.48 832.3,758.99 833.83,758.51 835.36,758.03 836.9,757.56 838.43,757.1 839.97,756.63 841.51,756.18 843.05,755.73 844.6,755.28 846.14,754.84 847.69,754.4 849.24,753.97 850.79,753.54 852.34,753.12 853.9,752.7 855.46,752.29 857.01,751.88 858.58,751.48 860.14,751.08 861.7,750.69 863.27,750.3 864.84,749.92 866.41,749.54 867.99,749.17 869.56,748.8 871.14,748.43 872.72,748.08 874.3,747.72 875.88,747.37 877.47,747.03 879.05,746.69 880.64,746.36 882.23,746.03 883.83,745.7 885.42,745.38 887.02,745.07 888.62,744.76 890.22,744.45 891.82,744.15 893.42,743.86 895.03,743.57 896.64,743.28 898.25,743 899.86,742.72 901.48,742.45 903.09,742.18 904.71,741.92 906.33,741.66 907.95,741.41 909.58,741.16 911.2,740.92 912.83,740.68 914.46,740.45 916.09,740.22 917.73,739.99 919.36,739.77 921,739.56 922.64,739.34 924.28,739.14 925.92,738.94 927.57,738.74 929.22,738.55 930.86,738.36 932.52,738.17 934.17,737.99 935.82,737.82 937.48,737.65 939.14,737.48 940.8,737.32 942.46,737.16 944.13,737.01 945.79,736.86 947.46,736.71 949.13,736.57 950.8,736.44 952.47,736.3 954.15,736.18 955.83,736.05 957.51,735.93 959.19,735.82 960.87,735.71 962.56,735.6 964.24,735.5 965.93,735.4 967.62,735.3 969.32,735.21 971.01,735.12 972.71,735.04 974.4,734.96 976.1,734.89 977.81,734.82 979.51,734.75 981.22,734.68 982.92,734.62 984.63,734.57 986.34,734.52 988.06,734.47 989.77,734.42 991.49,734.38 993.21,734.35 994.93,734.31 996.65,734.28 998.38,734.25 1000.1,734.23 1001.83,734.21 1003.56,734.2 1005.29,734.18 1007.02,734.17 1008.76,734.17 1010.5,734.17 1012.24,734.17 1013.98,734.17 1015.72,734.18 1017.46,734.19 1019.21,734.21 1020.96,734.22 1022.71,734.24 1024.46,734.27 1026.22,734.29 1027.97,734.32 1029.73,734.36 1031.49,734.39 1033.25,734.43 1035.01,734.48 1036.78,734.52 1038.54,734.57 1040.31,734.62 1042.08,734.67 1043.85,734.73 1045.63,734.79 1047.4,734.85 1049.18,734.92 1050.96,734.98 1052.74,735.06 1054.53,735.13 1056.31,735.2 1058.1,735.28 1059.89,735.36 1061.68,735.45 1063.47,735.53 1065.26,735.62 1067.06,735.71 1068.85,735.8 1070.65,735.9 1072.46,736 1074.26,736.1 1076.06,736.2 1077.87,736.31 1079.68,736.41 1081.49,736.52 1083.3,736.63 1085.11,736.75 1086.93,736.86 1088.75,736.98 1090.57,737.1 1092.39,737.22 1094.21,737.34 1096.03,737.47 1097.86,737.6 1099.69,737.73 1101.52,737.86 1103.35,737.99 1105.18,738.12 1107.02,738.26 1108.85,738.4 1110.69,738.54 1112.53,738.68 1114.38,738.82 1116.22,738.97 1118.07,739.12 1119.91,739.26 1121.76,739.41 1123.61,739.56 1125.47,739.72 1127.32,739.87 1129.18,740.02 1131.04,740.18 1132.9,740.34 1134.76,740.5 1136.62,740.66 1138.49,740.82 1140.35,740.98 1142.22,741.15 1144.09,741.31 1145.97,741.48 1147.84,741.65 1149.71,741.81 1151.59,741.98 1153.47,742.15 1155.35,742.33 1157.24,742.5 1159.12,742.67 1161.01,742.85 1162.89,743.02 1164.78,743.2 1166.68,743.37 1168.57,743.55 1170.46,743.73 1172.36,743.91 1174.26,744.09 1176.16,744.27 1178.06,744.45 1179.97,744.63 1181.87,744.81 1183.78,744.99 1185.69,745.18 1187.6,745.36 1189.51,745.55 1191.42,745.73 1193.34,745.91 1195.26,746.1 1197.18,746.29 1199.1,746.47 1201.02,746.66 1202.95,746.85 1204.87,747.03 1206.8,747.22 1208.73,747.41 1210.66,747.6 1212.59,747.78 1214.53,747.97 1216.47,748.16 1218.4,748.35 1220.34,748.54 1222.28,748.72 1224.23,748.91 1226.17,749.1 1228.12,749.29 1230.07,749.48 1232.02,749.67 1233.97,749.85 1235.92,750.04 1237.88,750.23 1239.84,750.42 1241.8,750.61 1243.76,750.79 1245.72,750.98 1247.68,751.17 1249.65,751.35 1251.62,751.54 1253.58,751.73 1255.56,751.91 1257.53,752.1 1259.5,752.28 1261.48,752.47 1263.45,752.65 1265.43,752.84 1267.42,753.02 1269.4,753.2 1271.38,753.39 1273.37,753.57 1275.36,753.75 1277.34,753.93 1279.34,754.11 1281.33,754.29 1283.32,754.47 1285.32,754.65 1287.32,754.83 1289.32,755.01 1291.32,755.18 1293.32,755.36 1295.32,755.54 1297.33,755.71 1299.34,755.88 1301.35,756.06 1303.36,756.23 1305.37,756.4 1307.39,756.57 1309.4,756.75 1311.42,756.92 1313.44,757.08 1315.46,757.25 1317.48,757.42 1319.51,757.59 1321.53,757.75 1323.56,757.92 1325.59,758.08 1327.62,758.24 1329.66,758.41 1331.69,758.57 1333.73,758.73 1335.76,758.89 1337.8,759.05 1339.85,759.2 1341.89,759.36 1343.93,759.52 1345.98,759.67 1348.03,759.82 1350.08,759.98 1352.13,760.13 1354.18,760.28 1356.23,760.43 1358.29,760.58 1360.35,760.72 1362.41,760.87 1364.47,761.02 1366.53,761.16 1368.6,761.3 1370.66,761.44 1372.73,761.59 1374.8,761.73 1376.87,761.86 1378.94,762 1381.02,762.14 1383.09,762.27 1385.17,762.41 1387.25,762.54 1389.33,762.67 1391.41,762.8 1393.49,762.93 1395.58,763.06 1397.67,763.19 1399.76,763.31 1401.85,763.44 1403.94,763.56 1406.03,763.69 1408.13,763.81 1410.23,763.93 1412.32,764.05 1414.42,764.16 1416.53,764.28 1418.63,764.4 1420.74,764.51 1422.84,764.62 1424.95,764.73 1427.06,764.85 1429.17,764.95 1431.29,765.06 1433.4,765.17 1435.52,765.28 1437.63,765.38 1439.75,765.48 1441.88,765.59 1444,765.69 1446.12,765.79 1448.25,765.88 1450.38,765.98 1452.51,766.08 1454.64,766.17 1456.77,766.27 1458.91,766.36 1461.04,766.45 1463.18,766.54 1465.32,766.63 1467.46,766.71 1469.6,766.8 1471.74,766.89 1473.89,766.97 1476.04,767.05 1478.19,767.13 1480.34,767.21 1482.49,767.29 1484.64,767.37 1486.8,767.45 1488.95,767.52 1491.11,767.6 1493.27,767.67 1495.43,767.74 1497.6,767.81 1499.76,767.88 1501.93,767.95 1504.1,768.02 1506.27,768.08 1508.44,768.15 1510.61,768.21 1512.78,768.27 1514.96,768.34 1517.14,768.4 1519.32,768.45 1521.5,768.51 1523.68,768.57 1525.86,768.63 1528.05,768.68 1530.23,768.73 1532.42,768.79 1534.61,768.84 1536.8,768.89 1539,768.94 1541.19,768.98 1543.39,769.03 1545.59,769.08 1547.79,769.12 1549.99,769.17 1552.19,769.21 1554.4,769.25 1556.6,769.29 1558.81,769.33 1561.02,769.37 1563.23,769.41 1565.44,769.44 1567.65,769.48 1569.87,769.51 1572.09,769.55 1574.31,769.58 1576.53,769.61 1578.75,769.64 1580.97,769.67 1583.2,769.7 1585.42,769.73 1587.65,769.75 1589.88,769.78 1592.11,769.8 1594.34,769.83 1596.58,769.85 1598.81,769.87 1601.05,769.89 1603.29,769.92 1605.53,769.93 1607.77,769.95 1610.01,769.97 1612.26,769.99 1614.51,770 1616.75,770.02 1619,770.03 1621.26,770.05 1623.51,770.06 1625.76,770.07 1628.02,770.08 1630.28,770.09 1632.53,770.1 1634.8,770.11 1637.06,770.12 1639.32,770.13 1641.59,770.13 1643.85,770.14 1646.12,770.15 1648.39,770.15 1650.66,770.15 1652.94,770.16 1655.21,770.16 1657.49,770.16 1659.76,770.16 1662.04,770.16 1664.32,770.16 1666.61,770.16 1668.89,770.16 1671.17,770.16 1673.46,770.15 1675.75,770.15 1678.04,770.15 1680.33,770.14 1682.62,770.14 1684.92,770.13 1687.21,770.12 1689.51,770.12 1691.81,770.11 1694.11,770.1 1696.41,770.09 1698.72,770.08 1701.02,770.07 1703.33,770.06 1705.64,770.05 1707.95,770.04 1710.26,770.03 1712.57,770.02 1714.89,770 1717.2,769.99 1719.52,769.98 1721.84,769.96 1724.16,769.95 1726.48,769.93 1728.8,769.92 1731.13,769.9 1733.46,769.89 1735.78,769.87 1738.11,769.85 1740.45,769.84 1742.78,769.82 1745.11,769.8 1747.45,769.78 1749.79,769.76 1752.12,769.74 1754.46,769.72 1756.81,769.7 1759.15,769.68 1761.49,769.66 1763.84,769.64 1766.19,769.62 1768.54,769.6 1770.89,769.58 1773.24,769.56 1775.59,769.54 1777.95,769.51 1780.31,769.49 1782.66,769.47 1785.02,769.45 1787.39,769.42 1789.75,769.4 1792.11,769.38 1794.48,769.35 1796.85,769.33 1799.21,769.3 1801.59,769.28 1803.96,769.26 1806.33,769.23 1808.71,769.21 1811.08,769.18 1813.46,769.16 1815.84,769.13 1818.22,769.1 1820.6,769.08 1822.99,769.05 1825.37,769.03 1827.76,769 1830.15,768.98 1832.54,768.95 1834.93,768.92 1837.32,768.9 1839.71,768.87 1842.11,768.84 1844.51,768.82 1846.91,768.79 1849.31,768.77 1851.71,768.74 1854.11,768.71 1856.52,768.69 1858.92,768.66 1861.33,768.63 1863.74,768.6 1866.15,768.58 1868.56,768.55 1870.98,768.52 1873.39,768.5 1875.81,768.47 1878.23,768.44 1880.65,768.42 1883.07,768.39 1885.49,768.36 1887.91,768.34 1890.34,768.31 1892.77,768.28 1895.19,768.26 1897.62,768.23 1900.06,768.2 1902.49,768.18 1904.92,768.15 1907.36,768.13 1909.8,768.1 1912.23,768.07 1914.67,768.05 1917.12,768.02 1919.56,768 1922,767.97 1924.45,767.94" fill="none" stroke="#D95319" stroke-width="12.5" stroke-linejoin="round" stroke-linecap="butt"/>
<polyline points="193,1047.81 396.7,1047.81 396.72,1047.81 396.77,1047.81 396.84,1047.81 396.92,1047.81 397.02,1047.81 397.13,1047.81 397.25,1047.8 397.38,1047.8 397.52,1047.8 397.67,1047.79 397.82,1047.78 397.99,1047.77 398.17,1047.76 398.35,1047.75 398.55,1047.74 398.75,1047.72 398.96,1047.7 399.17,1047.68 399.4,1047.65 399.63,1047.63 399.86,1047.6 400.11,1047.56 400.36,1047.53 400.62,1047.49 400.88,1047.45 401.15,1047.4 401.43,1047.35 401.71,1047.3 402,1047.24 402.3,1047.18 402.6,1047.11 402.91,1047.04 403.22,1046.97 403.54,1046.89 403.87,1046.81 404.2,1046.72 404.53,1046.63 404.87,1046.54 405.22,1046.44 405.57,1046.33 405.93,1046.22 406.29,1046.11 406.66,1045.99 407.03,1045.87 407.41,1045.74 407.8,1045.61 408.18,1045.47 408.58,1045.33 408.98,1045.18 409.38,1045.03 409.79,1044.87 410.2,1044.71 410.62,1044.54 411.04,1044.37 411.47,1044.2 411.9,1044.02 412.34,1043.83 412.78,1043.64 413.22,1043.44 413.67,1043.24 414.13,1043.04 414.59,1042.83 415.05,1042.62 415.52,1042.4 415.99,1042.17 416.47,1041.95 416.95,1041.71 417.44,1041.47 417.93,1041.23 418.42,1040.99 418.92,1040.73 419.42,1040.48 419.93,1040.22 420.44,1039.95 420.96,1039.68 421.48,1039.41 422,1039.13 422.53,1038.85 423.06,1038.56 423.6,1038.27 424.14,1037.97 424.68,1037.67 425.23,1037.37 425.78,1037.06 426.34,1036.75 426.9,1036.43 427.46,1036.11 428.03,1035.78 428.6,1035.45 429.17,1035.12 429.75,1034.78 430.34,1034.43 430.92,1034.08 431.51,1033.73 432.11,1033.38 432.71,1033.02 433.31,1032.65 433.91,1032.28 434.52,1031.91 435.14,1031.53 435.75,1031.15 436.37,1030.76 437,1030.37 437.63,1029.97 438.26,1029.57 438.89,1029.17 439.53,1028.76 440.17,1028.34 440.82,1027.93 441.47,1027.5 442.12,1027.08 442.78,1026.64 443.44,1026.21 444.1,1025.76 444.77,1025.32 445.44,1024.87 446.11,1024.41 446.79,1023.95 447.47,1023.49 448.16,1023.02 448.84,1022.54 449.54,1022.06 450.23,1021.57 450.93,1021.08 451.63,1020.59 452.33,1020.09 453.04,1019.58 453.75,1019.07 454.47,1018.56 455.19,1018.03 455.91,1017.51 456.63,1016.97 457.36,1016.44 458.09,1015.89 458.83,1015.35 459.57,1014.79 460.31,1014.23 461.05,1013.67 461.8,1013.1 462.55,1012.52 463.3,1011.94 464.06,1011.35 464.82,1010.76 465.59,1010.16 466.35,1009.56 467.12,1008.95 467.9,1008.33 468.67,1007.71 469.45,1007.08 470.23,1006.45 471.02,1005.81 471.81,1005.16 472.6,1004.51 473.4,1003.85 474.2,1003.19 475,1002.52 475.8,1001.84 476.61,1001.16 477.42,1000.47 478.23,999.78 479.05,999.08 479.87,998.38 480.69,997.67 481.52,996.95 482.35,996.23 483.18,995.5 484.02,994.76 484.85,994.02 485.7,993.27 486.54,992.52 487.39,991.76 488.24,991 489.09,990.23 489.95,989.45 490.8,988.67 491.67,987.88 492.53,987.09 493.4,986.29 494.27,985.49 495.14,984.68 496.02,983.86 496.9,983.04 497.78,982.22 498.67,981.38 499.55,980.55 500.45,979.7 501.34,978.86 502.24,978 503.14,977.14 504.04,976.28 504.94,975.41 505.85,974.54 506.76,973.66 507.68,972.78 508.59,971.89 509.51,971 510.43,970.1 511.36,969.2 512.29,968.29 513.22,967.38 514.15,966.46 515.09,965.54 516.03,964.62 516.97,963.69 517.91,962.76 518.86,961.82 519.81,960.88 520.76,959.94 521.72,958.99 522.68,958.04 523.64,957.09 524.6,956.13 525.57,955.17 526.54,954.2 527.51,953.23 528.49,952.26 529.46,951.29 530.45,950.31 531.43,949.33 532.41,948.35 533.4,947.36 534.39,946.38 535.39,945.38 536.38,944.39 537.38,943.4 538.38,942.4 539.39,941.4 540.4,940.4 541.41,939.4 542.42,938.39 543.43,937.38 544.45,936.38 545.47,935.37 546.49,934.36 547.52,933.34 548.55,932.33 549.58,931.32 550.61,930.3 551.65,929.28 552.69,928.27 553.73,927.25 554.77,926.23 555.82,925.21 556.87,924.19 557.92,923.17 558.97,922.15 560.03,921.13 561.09,920.11 562.15,919.09 563.21,918.07 564.28,917.05 565.35,916.03 566.42,915.02 567.5,914 568.57,912.98 569.65,911.96 570.74,910.95 571.82,909.93 572.91,908.92 574,907.9 575.09,906.89 576.19,905.88 577.28,904.87 578.38,903.87 579.49,902.86 580.59,901.85 581.7,900.85 582.81,899.85 583.92,898.85 585.03,897.85 586.15,896.86 587.27,895.87 588.39,894.87 589.52,893.88 590.65,892.9 591.78,891.91 592.91,890.93 594.04,889.95 595.18,888.98 596.32,888 597.46,887.03 598.6,886.06 599.75,885.1 600.9,884.13 602.05,883.17 603.21,882.22 604.36,881.26 605.52,880.31 606.68,879.37 607.85,878.42 609.01,877.48 610.18,876.55 611.35,875.61 612.53,874.68 613.7,873.76 614.88,872.83 616.06,871.92 617.24,871 618.43,870.09 619.62,869.18 620.81,868.28 622,867.38 623.19,866.48 624.39,865.59 625.59,864.7 626.79,863.82 628,862.94 629.2,862.06 630.41,861.19 631.62,860.33 632.84,859.46 634.05,858.61 635.27,857.75 636.49,856.9 637.72,856.06 638.94,855.22 640.17,854.38 641.4,853.55 642.63,852.72 643.87,851.9 645.1,851.08 646.34,850.27 647.58,849.46 648.83,848.66 650.07,847.86 651.32,847.07 652.57,846.28 653.83,845.49 655.08,844.71 656.34,843.94 657.6,843.17 658.86,842.4 660.13,841.64 661.39,840.88 662.66,840.13 663.93,839.39 665.21,838.65 666.48,837.91 667.76,837.18 669.04,836.45 670.32,835.73 671.61,835.01 672.9,834.3 674.19,833.6 675.48,832.89 676.77,832.2 678.07,831.51 679.37,830.82 680.67,830.14 681.97,829.46 683.28,828.79 684.58,828.12 685.89,827.46 687.2,826.8 688.52,826.15 689.83,825.5 691.15,824.86 692.47,824.22 693.8,823.59 695.12,822.96 696.45,822.34 697.78,821.72 699.11,821.11 700.45,820.5 701.78,819.9 703.12,819.3 704.46,818.71 705.8,818.12 707.15,817.54 708.5,816.96 709.85,816.39 711.2,815.82 712.55,815.26 713.91,814.7 715.26,814.14 716.62,813.59 717.99,813.05 719.35,812.51 720.72,811.97 722.09,811.44 723.46,810.92 724.83,810.39 726.21,809.88 727.59,809.37 728.97,808.86 730.35,808.36 731.73,807.86 733.12,807.36 734.51,806.87 735.9,806.39 737.29,805.91 738.68,805.43 740.08,804.96 741.48,804.5 742.88,804.03 744.28,803.58 745.69,803.12 747.1,802.67 748.51,802.23 749.92,801.79 751.33,801.35 752.75,800.92 754.17,800.49 755.59,800.07 757.01,799.65 758.43,799.24 759.86,798.83 761.29,798.42 762.72,798.02 764.15,797.62 765.59,797.22 767.03,796.83 768.46,796.45 769.91,796.06 771.35,795.69 772.79,795.31 774.24,794.94 775.69,794.57 777.14,794.21 778.6,793.85 780.05,793.5 781.51,793.14 782.97,792.8 784.43,792.45 785.9,792.11 787.36,791.78 788.83,791.44 790.3,791.11 791.77,790.79 793.25,790.47 794.73,790.15 796.2,789.83 797.69,789.52 799.17,789.21 800.65,788.91 802.14,788.61 803.63,788.31 805.12,788.01 806.61,787.72 808.11,787.43 809.6,787.15 811.1,786.87 812.6,786.59 814.11,786.31 815.61,786.04 817.12,785.77 818.63,785.51 820.14,785.25 821.65,784.99 823.17,784.73 824.69,784.48 826.21,784.23 827.73,783.98 829.25,783.73 830.78,783.49 832.3,783.25 833.83,783.02 835.36,782.78 836.9,782.55 838.43,782.33 839.97,782.1 841.51,781.88 843.05,781.66 844.6,781.44 846.14,781.23 847.69,781.02 849.24,780.81 850.79,780.6 852.34,780.4 853.9,780.2 855.46,780 857.01,779.81 858.58,779.61 860.14,779.42 861.7,779.23 863.27,779.05 864.84,778.86 866.41,778.68 867.99,778.5 869.56,778.32 871.14,778.15 872.72,777.98 874.3,777.81 875.88,777.64 877.47,777.47 879.05,777.31 880.64,777.15 882.23,776.99 883.83,776.83 885.42,776.68 887.02,776.52 888.62,776.37 890.22,776.22 891.82,776.07 893.42,775.93 895.03,775.79 896.64,775.64 898.25,775.5 899.86,775.37 901.48,775.23 903.09,775.1 904.71,774.97 906.33,774.84 907.95,774.71 909.58,774.58 911.2,774.45 912.83,774.33 914.46,774.21 916.09,774.09 917.73,773.97 919.36,773.85 921,773.74 922.64,773.63 924.28,773.51 925.92,773.4 927.57,773.29 929.22,773.19 930.86,773.08 932.52,772.98 934.17,772.87 935.82,772.77 937.48,772.67 939.14,772.57 940.8,772.48 942.46,772.38 944.13,772.29 945.79,772.19 947.46,772.1 949.13,772.01 950.8,771.92 952.47,771.84 954.15,771.75 955.83,771.66 957.51,771.58 959.19,771.5 960.87,771.42 962.56,771.34 964.24,771.26 965.93,771.18 967.62,771.1 969.32,771.03 971.01,770.95 972.71,770.88 974.4,770.8 976.1,770.73 977.81,770.66 979.51,770.59 981.22,770.53 982.92,770.46 984.63,770.39 986.34,770.33 988.06,770.26 989.77,770.2 991.49,770.14 993.21,770.08 994.93,770.02 996.65,769.96 998.38,769.9 1000.1,769.84 1001.83,769.78 1003.56,769.73 1005.29,769.67 1007.02,769.62 1008.76,769.57 1010.5,769.51 1012.24,769.46 1013.98,769.41 1015.72,769.36 1017.46,769.31 1019.21,769.26 1020.96,769.21 1022.71,769.17 1024.46,769.12 1026.22,769.08 1027.97,769.03 1029.73,768.99 1031.49,768.94 1033.25,768.9 1035.01,768.86 1036.78,768.82 1038.54,768.78 1040.31,768.74 1042.08,768.7 1043.85,768.66 1045.63,768.62 1047.4,768.58 1049.18,768.55 1050.96,768.51 1052.74,768.47 1054.53,768.44 1056.31,768.4 1058.1,768.37 1059.89,768.34 1061.68,768.3 1063.47,768.27 1065.26,768.24 1067.06,768.21 1068.85,768.18 1070.65,768.15 1072.46,768.12 1074.26,768.09 1076.06,768.06 1077.87,768.03 1079.68,768 1081.49,767.97 1083.3,767.95 1085.11,767.92 1086.93,767.89 1088.75,767.87 1090.57,767.84 1092.39,767.82 1094.21,767.79 1096.03,767.77 1097.86,767.75 1099.69,767.72 1101.52,767.7 1103.35,767.68 1105.18,767.66 1107.02,767.63 1108.85,767.61 1110.69,767.59 1112.53,767.57 1114.38,767.55 1116.22,767.53 1118.07,767.51 1119.91,767.49 1121.76,767.47 1123.61,767.45 1125.47,767.44 1127.32,767.42 1129.18,767.4 1131.04,767.38 1132.9,767.37 1134.76,767.35 1136.62,767.33 1138.49,767.32 1140.35,767.3 1142.22,767.29 1144.09,767.27 1145.97,767.26 1147.84,767.24 1149.71,767.23 1151.59,767.21 1153.47,767.2 1155.35,767.18 1157.24,767.17 1159.12,767.16 1161.01,767.14 1162.89,767.13 1164.78,767.12 1166.68,767.11 1168.57,767.09 1170.46,767.08 1172.36,767.07 1174.26,767.06 1176.16,767.05 1178.06,767.04 1179.97,767.03 1181.87,767.02 1183.78,767.01 1185.69,766.99 1187.6,766.98 1189.51,766.97 1191.42,766.97 1193.34,766.96 1195.26,766.95 1197.18,766.94 1199.1,766.93 1201.02,766.92 1202.95,766.91 1204.87,766.9 1206.8,766.89 1208.73,766.88 1210.66,766.88 1212.59,766.87 1214.53,766.86 1216.47,766.85 1218.4,766.85 1220.34,766.84 1222.28,766.83 1224.23,766.82 1226.17,766.82 1228.12,766.81 1230.07,766.8 1232.02,766.8 1233.97,766.79 1235.92,766.78 1237.88,766.78 1239.84,766.77 1241.8,766.77 1243.76,766.76 1245.72,766.75 1247.68,766.75 1249.65,766.74 1251.62,766.74 1253.58,766.73 1255.56,766.73 1257.53,766.72 1259.5,766.72 1261.48,766.71 1263.45,766.71 1265.43,766.7 1267.42,766.7 1269.4,766.69 1271.38,766.69 1273.37,766.68 1275.36,766.68 1277.34,766.68 1279.34,766.67 1281.33,766.67 1283.32,766.66 1285.32,766.66 1287.32,766.66 1289.32,766.65 1291.32,766.65 1293.32,766.64 1295.32,766.64 1297.33,766.64 1299.34,766.63 1301.35,766.63 1303.36,766.63 1305.37,766.62 1307.39,766.62 1309.4,766.62 1311.42,766.61 1313.44,766.61 1315.46,766.61 1317.48,766.61 1319.51,766.6 1321.53,766.6 1323.56,766.6 1325.59,766.59 1327.62,766.59 1329.66,766.59 1331.69,766.59 1333.73,766.58 1335.76,766.58 1337.8,766.58 1339.85,766.58 1341.89,766.58 1343.93,766.57 1345.98,766.57 1348.03,766.57 1350.08,766.57 1352.13,766.56 1354.18,766.56 1356.23,766.56 1358.29,766.56 1360.35,766.56 1362.41,766.56 1364.47,766.55 1366.53,766.55 1368.6,766.55 1370.66,766.55 1372.73,766.55 1374.8,766.54 1376.87,766.54 1378.94,766.54 1381.02,766.54 1383.09,766.54 1385.17,766.54 1387.25,766.54 1389.33,766.53 1391.41,766.53 1393.49,766.53 1395.58,766.53 1397.67,766.53 1399.76,766.53 1401.85,766.53 1403.94,766.53 1406.03,766.52 1408.13,766.52 1410.23,766.52 1412.32,766.52 1414.42,766.52 1416.53,766.52 1418.63,766.52 1420.74,766.52 1422.84,766.52 1424.95,766.51 1427.06,766.51 1429.17,766.51 1431.29,766.51 1433.4,766.51 1435.52,766.51 1437.63,766.51 1439.75,766.51 1441.88,766.51 1444,766.51 1446.12,766.51 1448.25,766.5 1450.38,766.5 1452.51,766.5 1454.64,766.5 1456.77,766.5 1458.91,766.5 1461.04,766.5 1463.18,766.5 1465.32,766.5 1467.46,766.5 1469.6,766.5 1471.74,766.5 1473.89,766.5 1476.04,766.5 1478.19,766.5 1480.34,766.49 1482.49,766.49 1484.64,766.49 1486.8,766.49 1488.95,766.49 1491.11,766.49 1493.27,766.49 1495.43,766.49 1497.6,766.49 1499.76,766.49 1501.93,766.49 1504.1,766.49 1506.27,766.49 1508.44,766.49 1510.61,766.49 1512.78,766.49 1514.96,766.49 1517.14,766.49 1519.32,766.49 1521.5,766.49 1523.68,766.49 1525.86,766.49 1528.05,766.48 1530.23,766.48 1532.42,766.48 1534.61,766.48 1536.8,766.48 1539,766.48 1541.19,766.48 1543.39,766.48 1545.59,766.48 1547.79,766.48 1549.99,766.48 1552.19,766.48 1554.4,766.48 1556.6,766.48 1558.81,766.48 1561.02,766.48 1563.23,766.48 1565.44,766.48 1567.65,766.48 1569.87,766.48 1572.09,766.48 1574.31,766.48 1576.53,766.48 1578.75,766.48 1580.97,766.48 1583.2,766.48 1585.42,766.48 1587.65,766.48 1589.88,766.48 1592.11,766.48 1594.34,766.48 1596.58,766.48 1598.81,766.48 1601.05,766.48 1603.29,766.48 1605.53,766.48 1607.77,766.48 1610.01,766.48 1612.26,766.48 1614.51,766.48 1616.75,766.48 1619,766.48 1621.26,766.48 1623.51,766.48 1625.76,766.48 1628.02,766.48 1630.28,766.48 1632.53,766.47 1634.8,766.47 1637.06,766.47 1639.32,766.47 1641.59,766.47 1643.85,766.47 1646.12,766.47 1648.39,766.47 1650.66,766.47 1652.94,766.47 1655.21,766.47 1657.49,766.47 1659.76,766.47 1662.04,766.47 1664.32,766.47 1666.61,766.47 1668.89,766.47 1671.17,766.47 1673.46,766.47 1675.75,766.47 1678.04,766.47 1680.33,766.47 1682.62,766.47 1684.92,766.47 1687.21,766.47 1689.51,766.47 1691.81,766.47 1694.11,766.47 1696.41,766.47 1698.72,766.47 1701.02,766.47 1703.33,766.47 1705.64,766.47 1707.95,766.47 1710.26,766.47 1712.57,766.47 1714.89,766.47 1717.2,766.47 1719.52,766.47 1721.84,766.47 1724.16,766.47 1726.48,766.47 1728.8,766.47 1731.13,766.47 1733.46,766.47 1735.78,766.47 1738.11,766.47 1740.45,766.47 1742.78,766.47 1745.11,766.47 1747.45,766.47 1749.79,766.47 1752.12,766.47 1754.46,766.47 1756.81,766.47 1759.15,766.47 1761.49,766.47 1763.84,766.47 1766.19,766.47 1768.54,766.47 1770.89,766.47 1773.24,766.47 1775.59,766.47 1777.95,766.47 1780.31,766.47 1782.66,766.47 1785.02,766.47 1787.39,766.47 1789.75,766.47 1792.11,766.47 1794.48,766.47 1796.85,766.47 1799.21,766.47 1801.59,766.47 1803.96,766.47 1806.33,766.47 1808.71,766.47 1811.08,766.47 1813.46,766.47 1815.84,766.47 1818.22,766.47 1820.6,766.47 1822.99,766.47 1825.37,766.47 1827.76,766.47 1830.15,766.47 1832.54,766.47 1834.93,766.47 1837.32,766.47 1839.71,766.47 1842.11,766.47 1844.51,766.47 1846.91,766.47 1849.31,766.47 1851.71,766.47 1854.11,766.47 1856.52,766.47 1858.92,766.47 1861.33,766.47 1863.74,766.47 1866.15,766.47 1868.56,766.47 1870.98,766.47 1873.39,766.47 1875.81,766.47 1878.23,766.47 1880.65,766.47 1883.07,766.47 1885.49,766.47 1887.91,766.47 1890.34,766.47 1892.77,766.47 1895.19,766.47 1897.62,766.47 1900.06,766.47 1902.49,766.47 1904.92,766.47 1907.36,766.47 1909.8,766.47 1912.23,766.47 1914.67,766.47 1917.12,766.47 1919.56,766.47 1922,766.47 1924.45,766.47" fill="none" stroke="#EDB120" stroke-width="12.5" stroke-linejoin="round" stroke-linecap="butt"/>
<rect x="399" y="1160" width="1" height="347" fill="#dfdfdf"/>
<rect x="907" y="1160" width="1" height="347" fill="#dfdfdf"/>
<rect x="1415" y="1160" width="1" height="347" fill="#dfdfdf"/>
<rect x="215" y="1190" width="1690" height="1" fill="#dfdfdf"/>
<rect x="215" y="1290" width="1690" height="1" fill="#dfdfdf"/>
<rect x="215" y="1390" width="1690" height="1" fill="#dfdfdf"/>
<rect x="215" y="1491" width="1690" height="1" fill="#dfdfdf"/>
<rect x="196" y="1141" width="1728" height="1" fill="#262626"/>
<rect x="196" y="1525" width="1728" height="1" fill="#262626"/>
<rect x="196" y="1141" width="1" height="385" fill="#262626"/>
<rect x="1923" y="1141" width="1" height="385" fill="#262626"/>
<rect x="399" y="1142" width="1" height="17" fill="#262626"/>
<rect x="399" y="1508" width="1" height="17" fill="#262626"/>
<rect x="907" y="1142" width="1" height="17" fill="#262626"/>
<rect x="907" y="1508" width="1" height="17" fill="#262626"/>
<rect x="1415" y="1142" width="1" height="17" fill="#262626"/>
<rect x="1415" y="1508" width="1" height="17" fill="#262626"/>
<rect x="197" y="1190" width="17" height="1" fill="#262626"/>
<rect x="1906" y="1190" width="17" height="1" fill="#262626"/>
<rect x="197" y="1290" width="17" height="1" fill="#262626"/>
<rect x="1906" y="1290" width="17" height="1" fill="#262626"/>
<rect x="197" y="1390" width="17" height="1" fill="#262626"/>
<rect x="1906" y="1390" width="17" height="1" fill="#262626"/>
<rect x="197" y="1491" width="17" height="1" fill="#262626"/>
<rect x="1906" y="1491" width="17" height="1" fill="#262626"/>
<polyline points="195,1491.2 398.38,1491.2 398.4,1491.11 398.45,1490.94 398.52,1490.7 398.6,1490.41 398.7,1490.07 398.81,1489.69 398.92,1489.27 399.05,1488.81 399.19,1488.32 399.34,1487.79 399.5,1487.23 399.67,1486.64 399.85,1486.02 400.03,1485.37 400.22,1484.69 400.42,1483.99 400.63,1483.26 400.85,1482.51 401.07,1481.73 401.3,1480.93 401.54,1480.1 401.78,1479.26 402.03,1478.39 402.29,1477.49 402.56,1476.58 402.83,1475.65 403.1,1474.7 403.39,1473.72 403.68,1472.73 403.97,1471.72 404.27,1470.69 404.58,1469.65 404.89,1468.58 405.21,1467.5 405.53,1466.4 405.86,1465.29 406.2,1464.15 406.54,1463.01 406.89,1461.84 407.24,1460.67 407.6,1459.47 407.96,1458.26 408.33,1457.04 408.7,1455.81 409.08,1454.56 409.46,1453.29 409.85,1452.02 410.24,1450.73 410.64,1449.42 411.04,1448.11 411.45,1446.78 411.86,1445.44 412.28,1444.09 412.7,1442.73 413.13,1441.36 413.56,1439.97 413.99,1438.58 414.43,1437.17 414.88,1435.75 415.33,1434.33 415.78,1432.89 416.24,1431.45 416.7,1429.99 417.17,1428.53 417.64,1427.05 418.12,1425.57 418.6,1424.08 419.09,1422.58 419.57,1421.08 420.07,1419.56 420.57,1418.04 421.07,1416.51 421.57,1414.97 422.08,1413.43 422.6,1411.88 423.12,1410.32 423.64,1408.75 424.17,1407.18 424.7,1405.61 425.23,1404.02 425.77,1402.43 426.32,1400.84 426.86,1399.24 427.41,1397.63 427.97,1396.02 428.53,1394.41 429.09,1392.79 429.66,1391.16 430.23,1389.54 430.8,1387.9 431.38,1386.27 431.96,1384.62 432.55,1382.98 433.14,1381.33 433.73,1379.68 434.33,1378.03 434.93,1376.37 435.54,1374.71 436.14,1373.05 436.76,1371.38 437.37,1369.71 437.99,1368.04 438.62,1366.37 439.24,1364.7 439.87,1363.02 440.51,1361.34 441.14,1359.67 441.79,1357.99 442.43,1356.31 443.08,1354.62 443.73,1352.94 444.39,1351.26 445.04,1349.57 445.71,1347.89 446.37,1346.21 447.04,1344.52 447.72,1342.84 448.39,1341.15 449.07,1339.47 449.76,1337.79 450.44,1336.1 451.13,1334.42 451.83,1332.74 452.52,1331.06 453.22,1329.38 453.93,1327.71 454.63,1326.03 455.34,1324.36 456.06,1322.68 456.77,1321.01 457.5,1319.35 458.22,1317.68 458.95,1316.02 459.68,1314.35 460.41,1312.7 461.15,1311.04 461.89,1309.39 462.63,1307.73 463.38,1306.09 464.13,1304.44 464.88,1302.8 465.64,1301.16 466.39,1299.53 467.16,1297.9 467.92,1296.27 468.69,1294.65 469.46,1293.03 470.24,1291.41 471.02,1289.8 471.8,1288.2 472.58,1286.6 473.37,1285 474.16,1283.41 474.96,1281.82 475.75,1280.24 476.55,1278.66 477.36,1277.08 478.16,1275.52 478.97,1273.95 479.79,1272.4 480.6,1270.85 481.42,1269.3 482.24,1267.76 483.07,1266.23 483.89,1264.7 484.73,1263.18 485.56,1261.66 486.4,1260.15 487.24,1258.65 488.08,1257.15 488.92,1255.66 489.77,1254.18 490.62,1252.7 491.48,1251.23 492.34,1249.77 493.2,1248.31 494.06,1246.86 494.93,1245.42 495.8,1243.98 496.67,1242.56 497.54,1241.14 498.42,1239.72 499.3,1238.32 500.19,1236.92 501.07,1235.53 501.96,1234.15 502.85,1232.78 503.75,1231.41 504.65,1230.06 505.55,1228.71 506.45,1227.37 507.36,1226.03 508.27,1224.71 509.18,1223.39 510.1,1222.09 511.02,1220.79 511.94,1219.5 512.86,1218.22 513.79,1216.94 514.72,1215.68 515.65,1214.43 516.58,1213.18 517.52,1211.94 518.46,1210.72 519.4,1209.5 520.35,1208.29 521.3,1207.09 522.25,1205.9 523.2,1204.72 524.16,1203.55 525.12,1202.39 526.08,1201.24 527.05,1200.1 528.02,1198.97 528.99,1197.84 529.96,1196.73 530.94,1195.63 531.92,1194.54 532.9,1193.45 533.88,1192.38 534.87,1191.32 535.86,1190.27 536.85,1189.23 537.84,1188.2 538.84,1187.18 539.84,1186.17 540.84,1185.17 541.85,1184.18 542.86,1183.2 543.87,1182.23 544.88,1181.27 545.9,1180.33 546.92,1179.39 547.94,1178.46 548.96,1177.55 549.99,1176.64 551.02,1175.75 552.05,1174.87 553.08,1174 554.12,1173.14 555.16,1172.29 556.2,1171.45 557.25,1170.62 558.29,1169.81 559.34,1169 560.4,1168.21 561.45,1167.43 562.51,1166.65 563.57,1165.89 564.63,1165.14 565.7,1164.41 566.77,1163.68 567.84,1162.97 568.91,1162.26 569.98,1161.57 571.06,1160.89 572.14,1160.22 573.23,1159.56 574.31,1158.91 575.4,1158.28 576.49,1157.65 577.58,1157.04 578.68,1156.44 579.78,1155.85 580.88,1155.27 581.98,1154.71 583.09,1154.15 584.19,1153.61 585.31,1153.08 586.42,1152.56 587.53,1152.05 588.65,1151.55 589.77,1151.07 590.9,1150.59 592.02,1150.13 593.15,1149.68 594.28,1149.24 595.41,1148.81 596.55,1148.4 597.68,1147.99 598.82,1147.6 599.97,1147.22 601.11,1146.85 602.26,1146.49 603.41,1146.15 604.56,1145.81 605.72,1145.49 606.87,1145.18 608.03,1144.88 609.2,1144.59 610.36,1144.32 611.53,1144.05 612.7,1143.8 613.87,1143.56 615.04,1143.33 616.22,1143.11 617.4,1142.9 618.58,1142.71 619.76,1142.52 620.95,1142.35 622.13,1142.19 623.32,1142.04 624.52,1141.9 625.71,1141.77 626.91,1141.66 628.11,1141.55 629.31,1141.46 630.52,1141.38 631.72,1141.31 632.93,1141.25 634.15,1141.2 635.36,1141.17 636.58,1141.14 637.8,1141.13 639.02,1141.13 640.24,1141.13 641.47,1141.15 642.69,1141.19 643.92,1141.23 645.16,1141.28 646.39,1141.34 647.63,1141.42 648.87,1141.5 650.11,1141.6 651.36,1141.71 652.6,1141.83 653.85,1141.96 655.1,1142.1 656.36,1142.25 657.61,1142.41 658.87,1142.58 660.13,1142.77 661.39,1142.96 662.66,1143.16 663.92,1143.38 665.19,1143.6 666.47,1143.84 667.74,1144.09 669.02,1144.34 670.29,1144.61 671.57,1144.89 672.86,1145.18 674.14,1145.47 675.43,1145.78 676.72,1146.1 678.01,1146.43 679.31,1146.77 680.6,1147.12 681.9,1147.47 683.2,1147.84 684.51,1148.22 685.81,1148.61 687.12,1149.01 688.43,1149.42 689.74,1149.83 691.05,1150.26 692.37,1150.7 693.69,1151.14 695.01,1151.6 696.33,1152.06 697.66,1152.54 698.99,1153.02 700.32,1153.52 701.65,1154.02 702.98,1154.53 704.32,1155.05 705.66,1155.58 707,1156.12 708.34,1156.67 709.69,1157.23 711.03,1157.79 712.38,1158.37 713.73,1158.95 715.09,1159.55 716.44,1160.15 717.8,1160.76 719.16,1161.38 720.53,1162 721.89,1162.64 723.26,1163.28 724.63,1163.93 726,1164.59 727.37,1165.26 728.75,1165.94 730.12,1166.62 731.5,1167.32 732.88,1168.02 734.27,1168.73 735.65,1169.44 737.04,1170.17 738.43,1170.9 739.83,1171.64 741.22,1172.39 742.62,1173.14 744.02,1173.91 745.42,1174.68 746.82,1175.45 748.23,1176.24 749.63,1177.03 751.04,1177.83 752.46,1178.64 753.87,1179.45 755.29,1180.27 756.7,1181.1 758.12,1181.93 759.55,1182.77 760.97,1183.62 762.4,1184.47 763.82,1185.34 765.26,1186.2 766.69,1187.08 768.12,1187.96 769.56,1188.84 771,1189.74 772.44,1190.64 773.88,1191.54 775.33,1192.45 776.78,1193.37 778.23,1194.3 779.68,1195.23 781.13,1196.16 782.59,1197.1 784.04,1198.05 785.5,1199 786.97,1199.96 788.43,1200.92 789.9,1201.89 791.36,1202.86 792.83,1203.84 794.31,1204.83 795.78,1205.82 797.26,1206.81 798.74,1207.81 800.22,1208.82 801.7,1209.83 803.18,1210.84 804.67,1211.86 806.16,1212.89 807.65,1213.91 809.14,1214.95 810.64,1215.99 812.13,1217.03 813.63,1218.07 815.13,1219.12 816.63,1220.18 818.14,1221.24 819.65,1222.3 821.16,1223.37 822.67,1224.44 824.18,1225.51 825.69,1226.59 827.21,1227.67 828.73,1228.76 830.25,1229.85 831.77,1230.94 833.3,1232.04 834.83,1233.14 836.36,1234.24 837.89,1235.35 839.42,1236.46 840.95,1237.57 842.49,1238.69 844.03,1239.81 845.57,1240.93 847.11,1242.05 848.66,1243.18 850.21,1244.31 851.76,1245.44 853.31,1246.58 854.86,1247.72 856.41,1248.86 857.97,1250 859.53,1251.14 861.09,1252.29 862.65,1253.44 864.22,1254.59 865.79,1255.75 867.35,1256.9 868.93,1258.06 870.5,1259.22 872.07,1260.38 873.65,1261.54 875.23,1262.71 876.81,1263.87 878.39,1265.04 879.98,1266.21 881.56,1267.38 883.15,1268.55 884.74,1269.73 886.33,1270.9 887.93,1272.08 889.52,1273.25 891.12,1274.43 892.72,1275.61 894.32,1276.79 895.93,1277.97 897.53,1279.15 899.14,1280.33 900.75,1281.51 902.36,1282.7 903.98,1283.88 905.59,1285.06 907.21,1286.25 908.83,1287.43 910.45,1288.62 912.08,1289.8 913.7,1290.99 915.33,1292.18 916.96,1293.36 918.59,1294.55 920.22,1295.73 921.86,1296.92 923.49,1298.1 925.13,1299.29 926.77,1300.47 928.41,1301.66 930.06,1302.84 931.71,1304.03 933.35,1305.21 935,1306.39 936.66,1307.57 938.31,1308.75 939.97,1309.93 941.62,1311.11 943.28,1312.29 944.95,1313.47 946.61,1314.65 948.27,1315.82 949.94,1317 951.61,1318.17 953.28,1319.34 954.95,1320.52 956.63,1321.69 958.31,1322.86 959.98,1324.02 961.67,1325.19 963.35,1326.35 965.03,1327.52 966.72,1328.68 968.41,1329.84 970.1,1331 971.79,1332.15 973.48,1333.31 975.18,1334.46 976.87,1335.61 978.57,1336.76 980.27,1337.91 981.98,1339.05 983.68,1340.19 985.39,1341.34 987.1,1342.47 988.81,1343.61 990.52,1344.75 992.23,1345.88 993.95,1347.01 995.67,1348.13 997.39,1349.26 999.11,1350.38 1000.83,1351.5 1002.56,1352.62 1004.29,1353.74 1006.02,1354.85 1007.75,1355.96 1009.48,1357.06 1011.21,1358.17 1012.95,1359.27 1014.69,1360.37 1016.43,1361.46 1018.17,1362.56 1019.91,1363.65 1021.66,1364.73 1023.41,1365.82 1025.16,1366.9 1026.91,1367.98 1028.66,1369.05 1030.41,1370.12 1032.17,1371.19 1033.93,1372.26 1035.69,1373.32 1037.45,1374.38 1039.22,1375.43 1040.98,1376.49 1042.75,1377.53 1044.52,1378.58 1046.29,1379.62 1048.06,1380.66 1049.84,1381.69 1051.61,1382.72 1053.39,1383.75 1055.17,1384.78 1056.95,1385.8 1058.74,1386.81 1060.52,1387.83 1062.31,1388.83 1064.1,1389.84 1065.89,1390.84 1067.68,1391.84 1069.48,1392.83 1071.28,1393.82 1073.07,1394.81 1074.87,1395.79 1076.68,1396.77 1078.48,1397.74 1080.28,1398.71 1082.09,1399.68 1083.9,1400.64 1085.71,1401.6 1087.52,1402.56 1089.34,1403.51 1091.16,1404.45 1092.97,1405.39 1094.79,1406.33 1096.61,1407.26 1098.44,1408.19 1100.26,1409.12 1102.09,1410.04 1103.92,1410.95 1105.75,1411.87 1107.58,1412.77 1109.42,1413.68 1111.25,1414.58 1113.09,1415.47 1114.93,1416.36 1116.77,1417.25 1118.61,1418.13 1120.46,1419.01 1122.3,1419.88 1124.15,1420.75 1126,1421.61 1127.85,1422.47 1129.71,1423.32 1131.56,1424.17 1133.42,1425.02 1135.28,1425.86 1137.14,1426.7 1139,1427.53 1140.87,1428.35 1142.73,1429.18 1144.6,1429.99 1146.47,1430.81 1148.34,1431.62 1150.21,1432.42 1152.09,1433.22 1153.96,1434.01 1155.84,1434.8 1157.72,1435.59 1159.6,1436.37 1161.49,1437.15 1163.37,1437.92 1165.26,1438.68 1167.15,1439.44 1169.04,1440.2 1170.93,1440.95 1172.82,1441.7 1174.72,1442.44 1176.62,1443.18 1178.51,1443.92 1180.41,1444.64 1182.32,1445.37 1184.22,1446.09 1186.13,1446.8 1188.04,1447.51 1189.94,1448.21 1191.86,1448.91 1193.77,1449.61 1195.68,1450.3 1197.6,1450.99 1199.52,1451.67 1201.44,1452.34 1203.36,1453.01 1205.28,1453.68 1207.21,1454.34 1209.13,1455 1211.06,1455.65 1212.99,1456.3 1214.92,1456.94 1216.86,1457.58 1218.79,1458.21 1220.73,1458.84 1222.67,1459.46 1224.61,1460.08 1226.55,1460.69 1228.49,1461.3 1230.44,1461.91 1232.39,1462.51 1234.34,1463.1 1236.29,1463.69 1238.24,1464.28 1240.19,1464.86 1242.15,1465.43 1244.11,1466 1246.06,1466.57 1248.03,1467.13 1249.99,1467.69 1251.95,1468.24 1253.92,1468.79 1255.89,1469.33 1257.86,1469.87 1259.83,1470.4 1261.8,1470.93 1263.77,1471.46 1265.75,1471.97 1267.73,1472.49 1269.71,1473 1271.69,1473.51 1273.67,1474.01 1275.66,1474.5 1277.64,1474.99 1279.63,1475.48 1281.62,1475.96 1283.61,1476.44 1285.6,1476.92 1287.6,1477.39 1289.59,1477.85 1291.59,1478.31 1293.59,1478.77 1295.59,1479.22 1297.6,1479.66 1299.6,1480.11 1301.61,1480.54 1303.61,1480.98 1305.62,1481.41 1307.64,1481.83 1309.65,1482.25 1311.66,1482.67 1313.68,1483.08 1315.7,1483.48 1317.72,1483.89 1319.74,1484.28 1321.76,1484.68 1323.79,1485.07 1325.81,1485.45 1327.84,1485.83 1329.87,1486.21 1331.9,1486.58 1333.93,1486.95 1335.97,1487.32 1338.01,1487.68 1340.04,1488.03 1342.08,1488.39 1344.12,1488.73 1346.17,1489.08 1348.21,1489.42 1350.26,1489.75 1352.31,1490.08 1354.36,1490.41 1356.41,1490.73 1358.46,1491.05 1360.51,1491.37 1362.57,1491.68 1364.63,1491.99 1366.69,1492.29 1368.75,1492.59 1370.81,1492.88 1372.88,1493.18 1374.94,1493.46 1377.01,1493.75 1379.08,1494.03 1381.15,1494.3 1383.22,1494.58 1385.3,1494.85 1387.37,1495.11 1389.45,1495.37 1391.53,1495.63 1393.61,1495.88 1395.69,1496.13 1397.78,1496.38 1399.86,1496.62 1401.95,1496.86 1404.04,1497.1 1406.13,1497.33 1408.22,1497.56 1410.31,1497.79 1412.41,1498.01 1414.51,1498.23 1416.6,1498.44 1418.7,1498.65 1420.81,1498.86 1422.91,1499.06 1425.02,1499.26 1427.12,1499.46 1429.23,1499.66 1431.34,1499.85 1433.45,1500.04 1435.56,1500.22 1437.68,1500.4 1439.8,1500.58 1441.91,1500.75 1444.03,1500.93 1446.16,1501.09 1448.28,1501.26 1450.4,1501.42 1452.53,1501.58 1454.66,1501.74 1456.79,1501.89 1458.92,1502.04 1461.05,1502.19 1463.18,1502.33 1465.32,1502.47 1467.46,1502.61 1469.6,1502.75 1471.74,1502.88 1473.88,1503.01 1476.02,1503.13 1478.17,1503.26 1480.31,1503.38 1482.46,1503.5 1484.61,1503.61 1486.76,1503.72 1488.92,1503.83 1491.07,1503.94 1493.23,1504.05 1495.39,1504.15 1497.55,1504.25 1499.71,1504.34 1501.87,1504.44 1504.04,1504.53 1506.2,1504.62 1508.37,1504.7 1510.54,1504.79 1512.71,1504.87 1514.88,1504.95 1517.06,1505.03 1519.23,1505.1 1521.41,1505.17 1523.59,1505.24 1525.77,1505.31 1527.95,1505.37 1530.13,1505.43 1532.32,1505.49 1534.51,1505.55 1536.69,1505.61 1538.88,1505.66 1541.08,1505.71 1543.27,1505.76 1545.46,1505.81 1547.66,1505.85 1549.86,1505.9 1552.06,1505.94 1554.26,1505.97 1556.46,1506.01 1558.66,1506.05 1560.87,1506.08 1563.08,1506.11 1565.28,1506.14 1567.5,1506.16 1569.71,1506.19 1571.92,1506.21 1574.14,1506.23 1576.35,1506.25 1578.57,1506.27 1580.79,1506.28 1583.01,1506.3 1585.23,1506.31 1587.46,1506.32 1589.68,1506.33 1591.91,1506.33 1594.14,1506.34 1596.37,1506.34 1598.6,1506.34 1600.84,1506.34 1603.07,1506.34 1605.31,1506.34 1607.55,1506.33 1609.79,1506.33 1612.03,1506.32 1614.27,1506.31 1616.52,1506.3 1618.76,1506.29 1621.01,1506.27 1623.26,1506.26 1625.51,1506.24 1627.76,1506.22 1630.02,1506.2 1632.27,1506.18 1634.53,1506.16 1636.79,1506.14 1639.05,1506.11 1641.31,1506.09 1643.57,1506.06 1645.84,1506.03 1648.11,1506 1650.37,1505.97 1652.64,1505.94 1654.91,1505.91 1657.19,1505.87 1659.46,1505.84 1661.74,1505.8 1664.01,1505.76 1666.29,1505.73 1668.57,1505.69 1670.85,1505.64 1673.14,1505.6 1675.42,1505.56 1677.71,1505.52 1679.99,1505.47 1682.28,1505.43 1684.58,1505.38 1686.87,1505.33 1689.16,1505.28 1691.46,1505.23 1693.75,1505.18 1696.05,1505.13 1698.35,1505.08 1700.65,1505.03 1702.96,1504.98 1705.26,1504.92 1707.57,1504.87 1709.88,1504.81 1712.19,1504.75 1714.5,1504.7 1716.81,1504.64 1719.12,1504.58 1721.44,1504.52 1723.75,1504.46 1726.07,1504.4 1728.39,1504.34 1730.71,1504.28 1733.04,1504.21 1735.36,1504.15 1737.69,1504.09 1740.01,1504.02 1742.34,1503.96 1744.67,1503.89 1747.01,1503.83 1749.34,1503.76 1751.67,1503.69 1754.01,1503.63 1756.35,1503.56 1758.69,1503.49 1761.03,1503.42 1763.37,1503.35 1765.72,1503.28 1768.06,1503.21 1770.41,1503.14 1772.76,1503.07 1775.11,1503 1777.46,1502.93 1779.81,1502.86 1782.17,1502.79 1784.52,1502.71 1786.88,1502.64 1789.24,1502.57 1791.6,1502.5 1793.96,1502.42 1796.33,1502.35 1798.69,1502.28 1801.06,1502.2 1803.43,1502.13 1805.8,1502.05 1808.17,1501.98 1810.54,1501.9 1812.91,1501.83 1815.29,1501.75 1817.67,1501.68 1820.05,1501.6 1822.43,1501.53 1824.81,1501.45 1827.19,1501.37 1829.57,1501.3 1831.96,1501.22 1834.35,1501.15 1836.74,1501.07 1839.13,1500.99 1841.52,1500.92 1843.91,1500.84 1846.31,1500.76 1848.7,1500.69 1851.1,1500.61 1853.5,1500.53 1855.9,1500.46 1858.31,1500.38 1860.71,1500.31 1863.11,1500.23 1865.52,1500.15 1867.93,1500.08 1870.34,1500 1872.75,1499.92 1875.16,1499.85 1877.58,1499.77 1879.99,1499.7 1882.41,1499.62 1884.83,1499.54 1887.25,1499.47 1889.67,1499.39 1892.1,1499.32 1894.52,1499.24 1896.95,1499.17 1899.37,1499.09 1901.8,1499.02 1904.23,1498.94 1906.66,1498.87 1909.1,1498.79 1911.53,1498.72 1913.97,1498.64 1916.41,1498.57 1918.85,1498.5 1921.29,1498.42 1923.73,1498.35" fill="none" stroke="#0072BD" stroke-width="12.5" stroke-linejoin="round" stroke-linecap="butt"/>
<polyline points="195,1491.2 398.38,1491.2 398.4,1491.2 398.45,1491.19 398.52,1491.15 398.6,1491.07 398.7,1490.95 398.81,1490.77 398.92,1490.54 399.05,1490.24 399.19,1489.89 399.34,1489.48 399.5,1489.01 399.67,1488.5 399.85,1487.94 400.03,1487.33 400.22,1486.69 400.42,1486.01 400.63,1485.3 400.85,1484.55 401.07,1483.78 401.3,1482.98 401.54,1482.16 401.78,1481.31 402.03,1480.44 402.29,1479.55 402.56,1478.63 402.83,1477.7 403.1,1476.74 403.39,1475.77 403.68,1474.77 403.97,1473.76 404.27,1472.72 404.58,1471.67 404.89,1470.6 405.21,1469.52 405.53,1468.41 405.86,1467.29 406.2,1466.16 406.54,1465.01 406.89,1463.84 407.24,1462.66 407.6,1461.46 407.96,1460.25 408.33,1459.02 408.7,1457.78 409.08,1456.52 409.46,1455.26 409.85,1453.97 410.24,1452.68 410.64,1451.37 411.04,1450.05 411.45,1448.72 411.86,1447.38 412.28,1446.02 412.7,1444.65 413.13,1443.28 413.56,1441.89 413.99,1440.49 414.43,1439.08 414.88,1437.66 415.33,1436.23 415.78,1434.79 416.24,1433.34 416.7,1431.88 417.17,1430.41 417.64,1428.93 418.12,1427.45 418.6,1425.95 419.09,1424.45 419.57,1422.94 420.07,1421.42 420.57,1419.89 421.07,1418.36 421.57,1416.82 422.08,1415.27 422.6,1413.72 423.12,1412.16 423.64,1410.59 424.17,1409.02 424.7,1407.44 425.23,1405.85 425.77,1404.26 426.32,1402.67 426.86,1401.07 427.41,1399.46 427.97,1397.85 428.53,1396.23 429.09,1394.61 429.66,1392.99 430.23,1391.36 430.8,1389.73 431.38,1388.09 431.96,1386.45 432.55,1384.81 433.14,1383.17 433.73,1381.52 434.33,1379.87 434.93,1378.21 435.54,1376.56 436.14,1374.9 436.76,1373.24 437.37,1371.57 437.99,1369.91 438.62,1368.24 439.24,1366.58 439.87,1364.91 440.51,1363.24 441.14,1361.57 441.79,1359.9 442.43,1358.23 443.08,1356.55 443.73,1354.88 444.39,1353.21 445.04,1351.54 445.71,1349.87 446.37,1348.19 447.04,1346.52 447.72,1344.85 448.39,1343.18 449.07,1341.52 449.76,1339.85 450.44,1338.18 451.13,1336.52 451.83,1334.86 452.52,1333.2 453.22,1331.54 453.93,1329.88 454.63,1328.23 455.34,1326.58 456.06,1324.93 456.77,1323.28 457.5,1321.64 458.22,1320 458.95,1318.36 459.68,1316.73 460.41,1315.1 461.15,1313.47 461.89,1311.85 462.63,1310.23 463.38,1308.62 464.13,1307.01 464.88,1305.4 465.64,1303.8 466.39,1302.2 467.16,1300.61 467.92,1299.02 468.69,1297.44 469.46,1295.86 470.24,1294.29 471.02,1292.72 471.8,1291.16 472.58,1289.61 473.37,1288.06 474.16,1286.52 474.96,1284.98 475.75,1283.45 476.55,1281.92 477.36,1280.4 478.16,1278.89 478.97,1277.39 479.79,1275.89 480.6,1274.4 481.42,1272.91 482.24,1271.43 483.07,1269.96 483.89,1268.5 484.73,1267.05 485.56,1265.6 486.4,1264.16 487.24,1262.73 488.08,1261.3 488.92,1259.89 489.77,1258.48 490.62,1257.08 491.48,1255.69 492.34,1254.31 493.2,1252.93 494.06,1251.57 494.93,1250.21 495.8,1248.87 496.67,1247.53 497.54,1246.2 498.42,1244.88 499.3,1243.57 500.19,1242.27 501.07,1240.98 501.96,1239.7 502.85,1238.42 503.75,1237.16 504.65,1235.91 505.55,1234.67 506.45,1233.44 507.36,1232.22 508.27,1231 509.18,1229.8 510.1,1228.61 511.02,1227.43 511.94,1226.26 512.86,1225.1 513.79,1223.96 514.72,1222.82 515.65,1221.69 516.58,1220.58 517.52,1219.48 518.46,1218.38 519.4,1217.3 520.35,1216.23 521.3,1215.17 522.25,1214.13 523.2,1213.09 524.16,1212.07 525.12,1211.06 526.08,1210.06 527.05,1209.07 528.02,1208.09 528.99,1207.13 529.96,1206.18 530.94,1205.24 531.92,1204.31 532.9,1203.4 533.88,1202.49 534.87,1201.6 535.86,1200.72 536.85,1199.86 537.84,1199 538.84,1198.16 539.84,1197.34 540.84,1196.52 541.85,1195.72 542.86,1194.93 543.87,1194.15 544.88,1193.39 545.9,1192.64 546.92,1191.9 547.94,1191.17 548.96,1190.46 549.99,1189.76 551.02,1189.08 552.05,1188.41 553.08,1187.75 554.12,1187.1 555.16,1186.47 556.2,1185.85 557.25,1185.25 558.29,1184.65 559.34,1184.07 560.4,1183.51 561.45,1182.96 562.51,1182.42 563.57,1181.9 564.63,1181.38 565.7,1180.89 566.77,1180.4 567.84,1179.93 568.91,1179.48 569.98,1179.04 571.06,1178.61 572.14,1178.19 573.23,1177.79 574.31,1177.4 575.4,1177.03 576.49,1176.67 577.58,1176.32 578.68,1175.99 579.78,1175.67 580.88,1175.37 581.98,1175.08 583.09,1174.8 584.19,1174.54 585.31,1174.29 586.42,1174.06 587.53,1173.84 588.65,1173.63 589.77,1173.43 590.9,1173.26 592.02,1173.09 593.15,1172.94 594.28,1172.8 595.41,1172.68 596.55,1172.57 597.68,1172.47 598.82,1172.39 599.97,1172.32 601.11,1172.27 602.26,1172.22 603.41,1172.2 604.56,1172.18 605.72,1172.18 606.87,1172.2 608.03,1172.23 609.2,1172.27 610.36,1172.32 611.53,1172.39 612.7,1172.48 613.87,1172.57 615.04,1172.68 616.22,1172.8 617.4,1172.94 618.58,1173.09 619.76,1173.26 620.95,1173.43 622.13,1173.62 623.32,1173.83 624.52,1174.05 625.71,1174.28 626.91,1174.52 628.11,1174.78 629.31,1175.05 630.52,1175.33 631.72,1175.63 632.93,1175.94 634.15,1176.26 635.36,1176.6 636.58,1176.95 637.8,1177.31 639.02,1177.69 640.24,1178.07 641.47,1178.48 642.69,1178.89 643.92,1179.31 645.16,1179.75 646.39,1180.2 647.63,1180.67 648.87,1181.14 650.11,1181.63 651.36,1182.13 652.6,1182.65 653.85,1183.17 655.1,1183.71 656.36,1184.26 657.61,1184.82 658.87,1185.4 660.13,1185.98 661.39,1186.58 662.66,1187.19 663.92,1187.81 665.19,1188.45 666.47,1189.09 667.74,1189.75 669.02,1190.41 670.29,1191.09 671.57,1191.78 672.86,1192.49 674.14,1193.2 675.43,1193.92 676.72,1194.66 678.01,1195.41 679.31,1196.16 680.6,1196.93 681.9,1197.71 683.2,1198.5 684.51,1199.3 685.81,1200.11 687.12,1200.94 688.43,1201.77 689.74,1202.61 691.05,1203.46 692.37,1204.33 693.69,1205.2 695.01,1206.08 696.33,1206.97 697.66,1207.88 698.99,1208.79 700.32,1209.71 701.65,1210.64 702.98,1211.58 704.32,1212.53 705.66,1213.49 707,1214.46 708.34,1215.44 709.69,1216.43 711.03,1217.43 712.38,1218.43 713.73,1219.45 715.09,1220.47 716.44,1221.5 717.8,1222.54 719.16,1223.59 720.53,1224.64 721.89,1225.71 723.26,1226.78 724.63,1227.86 726,1228.95 727.37,1230.05 728.75,1231.15 730.12,1232.27 731.5,1233.39 732.88,1234.51 734.27,1235.65 735.65,1236.79 737.04,1237.94 738.43,1239.1 739.83,1240.26 741.22,1241.43 742.62,1242.61 744.02,1243.79 745.42,1244.98 746.82,1246.18 748.23,1247.38 749.63,1248.59 751.04,1249.81 752.46,1251.03 753.87,1252.26 755.29,1253.49 756.7,1254.73 758.12,1255.98 759.55,1257.23 760.97,1258.49 762.4,1259.75 763.82,1261.02 765.26,1262.29 766.69,1263.57 768.12,1264.85 769.56,1266.14 771,1267.43 772.44,1268.73 773.88,1270.03 775.33,1271.33 776.78,1272.64 778.23,1273.96 779.68,1275.28 781.13,1276.6 782.59,1277.93 784.04,1279.26 785.5,1280.59 786.97,1281.93 788.43,1283.27 789.9,1284.61 791.36,1285.96 792.83,1287.31 794.31,1288.67 795.78,1290.03 797.26,1291.39 798.74,1292.75 800.22,1294.12 801.7,1295.48 803.18,1296.86 804.67,1298.23 806.16,1299.6 807.65,1300.98 809.14,1302.36 810.64,1303.74 812.13,1305.13 813.63,1306.51 815.13,1307.9 816.63,1309.29 818.14,1310.68 819.65,1312.07 821.16,1313.47 822.67,1314.86 824.18,1316.25 825.69,1317.65 827.21,1319.05 828.73,1320.45 830.25,1321.84 831.77,1323.24 833.3,1324.64 834.83,1326.04 836.36,1327.44 837.89,1328.84 839.42,1330.24 840.95,1331.64 842.49,1333.04 844.03,1334.44 845.57,1335.84 847.11,1337.24 848.66,1338.64 850.21,1340.04 851.76,1341.44 853.31,1342.83 854.86,1344.23 856.41,1345.63 857.97,1347.02 859.53,1348.41 861.09,1349.8 862.65,1351.19 864.22,1352.58 865.79,1353.97 867.35,1355.35 868.93,1356.74 870.5,1358.12 872.07,1359.5 873.65,1360.88 875.23,1362.25 876.81,1363.63 878.39,1365 879.98,1366.37 881.56,1367.73 883.15,1369.1 884.74,1370.46 886.33,1371.82 887.93,1373.18 889.52,1374.53 891.12,1375.88 892.72,1377.23 894.32,1378.57 895.93,1379.91 897.53,1381.25 899.14,1382.59 900.75,1383.92 902.36,1385.24 903.98,1386.57 905.59,1387.89 907.21,1389.21 908.83,1390.52 910.45,1391.83 912.08,1393.13 913.7,1394.44 915.33,1395.73 916.96,1397.03 918.59,1398.31 920.22,1399.6 921.86,1400.88 923.49,1402.15 925.13,1403.43 926.77,1404.69 928.41,1405.95 930.06,1407.21 931.71,1408.46 933.35,1409.71 935,1410.95 936.66,1412.19 938.31,1413.42 939.97,1414.65 941.62,1415.87 943.28,1417.09 944.95,1418.3 946.61,1419.51 948.27,1420.71 949.94,1421.91 951.61,1423.1 953.28,1424.28 954.95,1425.46 956.63,1426.63 958.31,1427.8 959.98,1428.96 961.67,1430.12 963.35,1431.27 965.03,1432.41 966.72,1433.55 968.41,1434.68 970.1,1435.8 971.79,1436.92 973.48,1438.04 975.18,1439.14 976.87,1440.25 978.57,1441.34 980.27,1442.43 981.98,1443.51 983.68,1444.58 985.39,1445.65 987.1,1446.72 988.81,1447.77 990.52,1448.82 992.23,1449.86 993.95,1450.9 995.67,1451.93 997.39,1452.95 999.11,1453.96 1000.83,1454.97 1002.56,1455.97 1004.29,1456.97 1006.02,1457.95 1007.75,1458.93 1009.48,1459.91 1011.21,1460.87 1012.95,1461.83 1014.69,1462.79 1016.43,1463.73 1018.17,1464.67 1019.91,1465.6 1021.66,1466.52 1023.41,1467.44 1025.16,1468.35 1026.91,1469.25 1028.66,1470.14 1030.41,1471.03 1032.17,1471.91 1033.93,1472.78 1035.69,1473.65 1037.45,1474.51 1039.22,1475.36 1040.98,1476.2 1042.75,1477.04 1044.52,1477.86 1046.29,1478.68 1048.06,1479.5 1049.84,1480.3 1051.61,1481.1 1053.39,1481.89 1055.17,1482.67 1056.95,1483.45 1058.74,1484.22 1060.52,1484.98 1062.31,1485.73 1064.1,1486.47 1065.89,1487.21 1067.68,1487.94 1069.48,1488.66 1071.28,1489.38 1073.07,1490.09 1074.87,1490.79 1076.68,1491.48 1078.48,1492.16 1080.28,1492.84 1082.09,1493.51 1083.9,1494.17 1085.71,1494.82 1087.52,1495.47 1089.34,1496.11 1091.16,1496.74 1092.97,1497.36 1094.79,1497.98 1096.61,1498.59 1098.44,1499.19 1100.26,1499.78 1102.09,1500.37 1103.92,1500.95 1105.75,1501.52 1107.58,1502.08 1109.42,1502.64 1111.25,1503.19 1113.09,1503.73 1114.93,1504.26 1116.77,1504.79 1118.61,1505.3 1120.46,1505.82 1122.3,1506.32 1124.15,1506.82 1126,1507.3 1127.85,1507.79 1129.71,1508.26 1131.56,1508.73 1133.42,1509.19 1135.28,1509.64 1137.14,1510.09 1139,1510.52 1140.87,1510.95 1142.73,1511.38 1144.6,1511.79 1146.47,1512.2 1148.34,1512.61 1150.21,1513 1152.09,1513.39 1153.96,1513.77 1155.84,1514.15 1157.72,1514.51 1159.6,1514.87 1161.49,1515.23 1163.37,1515.57 1165.26,1515.91 1167.15,1516.25 1169.04,1516.57 1170.93,1516.89 1172.82,1517.2 1174.72,1517.51 1176.62,1517.81 1178.51,1518.1 1180.41,1518.39 1182.32,1518.67 1184.22,1518.94 1186.13,1519.2 1188.04,1519.46 1189.94,1519.72 1191.86,1519.96 1193.77,1520.2 1195.68,1520.44 1197.6,1520.67 1199.52,1520.89 1201.44,1521.1 1203.36,1521.31 1205.28,1521.52 1207.21,1521.71 1209.13,1521.9 1211.06,1522.09 1212.99,1522.27 1214.92,1522.44 1216.86,1522.61 1218.79,1522.77 1220.73,1522.92 1222.67,1523.07 1224.61,1523.22 1226.55,1523.35 1228.49,1523.49 1230.44,1523.61 1232.39,1523.73 1234.34,1523.85 1236.29,1523.96 1238.24,1524.07 1240.19,1524.16 1242.15,1524.26 1244.11,1524.35 1246.06,1524.43 1248.03,1524.51 1249.99,1524.58 1251.95,1524.65 1253.92,1524.71 1255.89,1524.77 1257.86,1524.82 1259.83,1524.87 1261.8,1524.91 1263.77,1524.95 1265.75,1524.98 1267.73,1525.01 1269.71,1525.04 1271.69,1525.05 1273.67,1525.07 1275.66,1525.08 1277.64,1525.08 1279.63,1525.08 1281.62,1525.08 1283.61,1525.07 1285.6,1525.06 1287.6,1525.04 1289.59,1525.02 1291.59,1525 1293.59,1524.97 1295.59,1524.93 1297.6,1524.9 1299.6,1524.85 1301.61,1524.81 1303.61,1524.76 1305.62,1524.71 1307.64,1524.65 1309.65,1524.59 1311.66,1524.52 1313.68,1524.45 1315.7,1524.38 1317.72,1524.31 1319.74,1524.23 1321.76,1524.15 1323.79,1524.06 1325.81,1523.97 1327.84,1523.88 1329.87,1523.78 1331.9,1523.68 1333.93,1523.58 1335.97,1523.47 1338.01,1523.36 1340.04,1523.25 1342.08,1523.14 1344.12,1523.02 1346.17,1522.9 1348.21,1522.78 1350.26,1522.65 1352.31,1522.52 1354.36,1522.39 1356.41,1522.25 1358.46,1522.12 1360.51,1521.98 1362.57,1521.84 1364.63,1521.69 1366.69,1521.54 1368.75,1521.39 1370.81,1521.24 1372.88,1521.09 1374.94,1520.93 1377.01,1520.77 1379.08,1520.61 1381.15,1520.45 1383.22,1520.28 1385.3,1520.12 1387.37,1519.95 1389.45,1519.78 1391.53,1519.6 1393.61,1519.43 1395.69,1519.25 1397.78,1519.07 1399.86,1518.89 1401.95,1518.71 1404.04,1518.53 1406.13,1518.34 1408.22,1518.16 1410.31,1517.97 1412.41,1517.78 1414.51,1517.59 1416.6,1517.4 1418.7,1517.2 1420.81,1517.01 1422.91,1516.81 1425.02,1516.62 1427.12,1516.42 1429.23,1516.22 1431.34,1516.02 1433.45,1515.82 1435.56,1515.61 1437.68,1515.41 1439.8,1515.21 1441.91,1515 1444.03,1514.79 1446.16,1514.59 1448.28,1514.38 1450.4,1514.17 1452.53,1513.96 1454.66,1513.75 1456.79,1513.54 1458.92,1513.33 1461.05,1513.12 1463.18,1512.91 1465.32,1512.69 1467.46,1512.48 1469.6,1512.27 1471.74,1512.05 1473.88,1511.84 1476.02,1511.62 1478.17,1511.41 1480.31,1511.2 1482.46,1510.98 1484.61,1510.76 1486.76,1510.55 1488.92,1510.33 1491.07,1510.12 1493.23,1509.9 1495.39,1509.69 1497.55,1509.47 1499.71,1509.26 1501.87,1509.04 1504.04,1508.82 1506.2,1508.61 1508.37,1508.39 1510.54,1508.18 1512.71,1507.96 1514.88,1507.75 1517.06,1507.54 1519.23,1507.32 1521.41,1507.11 1523.59,1506.9 1525.77,1506.68 1527.95,1506.47 1530.13,1506.26 1532.32,1506.05 1534.51,1505.84 1536.69,1505.63 1538.88,1505.42 1541.08,1505.21 1543.27,1505 1545.46,1504.79 1547.66,1504.59 1549.86,1504.38 1552.06,1504.17 1554.26,1503.97 1556.46,1503.76 1558.66,1503.56 1560.87,1503.36 1563.08,1503.16 1565.28,1502.96 1567.5,1502.76 1569.71,1502.56 1571.92,1502.36 1574.14,1502.16 1576.35,1501.96 1578.57,1501.77 1580.79,1501.57 1583.01,1501.38 1585.23,1501.19 1587.46,1500.99 1589.68,1500.8 1591.91,1500.61 1594.14,1500.43 1596.37,1500.24 1598.6,1500.05 1600.84,1499.87 1603.07,1499.68 1605.31,1499.5 1607.55,1499.32 1609.79,1499.14 1612.03,1498.96 1614.27,1498.78 1616.52,1498.6 1618.76,1498.42 1621.01,1498.25 1623.26,1498.08 1625.51,1497.9 1627.76,1497.73 1630.02,1497.56 1632.27,1497.4 1634.53,1497.23 1636.79,1497.06 1639.05,1496.9 1641.31,1496.74 1643.57,1496.57 1645.84,1496.41 1648.11,1496.25 1650.37,1496.1 1652.64,1495.94 1654.91,1495.79 1657.19,1495.63 1659.46,1495.48 1661.74,1495.33 1664.01,1495.18 1666.29,1495.03 1668.57,1494.89 1670.85,1494.74 1673.14,1494.6 1675.42,1494.45 1677.71,1494.31 1679.99,1494.17 1682.28,1494.04 1684.58,1493.9 1686.87,1493.77 1689.16,1493.63 1691.46,1493.5 1693.75,1493.37 1696.05,1493.24 1698.35,1493.11 1700.65,1492.99 1702.96,1492.86 1705.26,1492.74 1707.57,1492.62 1709.88,1492.5 1712.19,1492.38 1714.5,1492.26 1716.81,1492.14 1719.12,1492.03 1721.44,1491.92 1723.75,1491.81 1726.07,1491.7 1728.39,1491.59 1730.71,1491.48 1733.04,1491.38 1735.36,1491.27 1737.69,1491.17 1740.01,1491.07 1742.34,1490.97 1744.67,1490.87 1747.01,1490.77 1749.34,1490.68 1751.67,1490.58 1754.01,1490.49 1756.35,1490.4 1758.69,1490.31 1761.03,1490.22 1763.37,1490.14 1765.72,1490.05 1768.06,1489.97 1770.41,1489.89 1772.76,1489.8 1775.11,1489.73 1777.46,1489.65 1779.81,1489.57 1782.17,1489.5 1784.52,1489.42 1786.88,1489.35 1789.24,1489.28 1791.6,1489.21 1793.96,1489.14 1796.33,1489.07 1798.69,1489.01 1801.06,1488.94 1803.43,1488.88 1805.8,1488.82 1808.17,1488.76 1810.54,1488.7 1812.91,1488.64 1815.29,1488.58 1817.67,1488.53 1820.05,1488.48 1822.43,1488.42 1824.81,1488.37 1827.19,1488.32 1829.57,1488.27 1831.96,1488.23 1834.35,1488.18 1836.74,1488.14 1839.13,1488.09 1841.52,1488.05 1843.91,1488.01 1846.31,1487.97 1848.7,1487.93 1851.1,1487.89 1853.5,1487.85 1855.9,1487.82 1858.31,1487.78 1860.71,1487.75 1863.11,1487.72 1865.52,1487.69 1867.93,1487.66 1870.34,1487.63 1872.75,1487.6 1875.16,1487.57 1877.58,1487.55 1879.99,1487.52 1882.41,1487.5 1884.83,1487.48 1887.25,1487.46 1889.67,1487.44 1892.1,1487.42 1894.52,1487.4 1896.95,1487.38 1899.37,1487.37 1901.8,1487.35 1904.23,1487.34 1906.66,1487.32 1909.1,1487.31 1911.53,1487.3 1913.97,1487.29 1916.41,1487.28 1918.85,1487.27 1921.29,1487.26 1923.73,1487.25" fill="none" stroke="#D95319" stroke-width="12.5" stroke-linejoin="round" stroke-linecap="butt"/>
<polyline points="195,1491.2 398.38,1491.2 398.4,1491.26 398.45,1491.37 398.52,1491.53 398.6,1491.7 398.7,1491.89 398.81,1492.08 398.92,1492.27 399.05,1492.45 399.19,1492.62 399.34,1492.77 399.5,1492.89 399.67,1492.98 399.85,1493.03 400.03,1493.05 400.22,1493.02 400.42,1492.94 400.63,1492.82 400.85,1492.64 401.07,1492.41 401.3,1492.12 401.54,1491.78 401.78,1491.38 402.03,1490.92 402.29,1490.4 402.56,1489.82 402.83,1489.19 403.1,1488.5 403.39,1487.75 403.68,1486.95 403.97,1486.09 404.27,1485.18 404.58,1484.22 404.89,1483.22 405.21,1482.16 405.53,1481.06 405.86,1479.92 406.2,1478.74 406.54,1477.51 406.89,1476.26 407.24,1474.96 407.6,1473.64 407.96,1472.29 408.33,1470.91 408.7,1469.51 409.08,1468.08 409.46,1466.63 409.85,1465.17 410.24,1463.68 410.64,1462.19 411.04,1460.68 411.45,1459.16 411.86,1457.63 412.28,1456.09 412.7,1454.55 413.13,1453 413.56,1451.45 413.99,1449.9 414.43,1448.35 414.88,1446.8 415.33,1445.25 415.78,1443.7 416.24,1442.16 416.7,1440.62 417.17,1439.08 417.64,1437.56 418.12,1436.04 418.6,1434.52 419.09,1433.01 419.57,1431.52 420.07,1430.03 420.57,1428.55 421.07,1427.07 421.57,1425.61 422.08,1424.16 422.6,1422.72 423.12,1421.29 423.64,1419.87 424.17,1418.45 424.7,1417.05 425.23,1415.67 425.77,1414.29 426.32,1412.92 426.86,1411.56 427.41,1410.22 427.97,1408.88 428.53,1407.56 429.09,1406.25 429.66,1404.94 430.23,1403.65 430.8,1402.37 431.38,1401.1 431.96,1399.85 432.55,1398.6 433.14,1397.36 433.73,1396.14 434.33,1394.92 434.93,1393.72 435.54,1392.53 436.14,1391.34 436.76,1390.17 437.37,1389.01 437.99,1387.86 438.62,1386.72 439.24,1385.6 439.87,1384.48 440.51,1383.37 441.14,1382.28 441.79,1381.19 442.43,1380.12 443.08,1379.06 443.73,1378.01 444.39,1376.97 445.04,1375.94 445.71,1374.92 446.37,1373.91 447.04,1372.92 447.72,1371.94 448.39,1370.96 449.07,1370 449.76,1369.05 450.44,1368.11 451.13,1367.18 451.83,1366.27 452.52,1365.37 453.22,1364.47 453.93,1363.59 454.63,1362.72 455.34,1361.87 456.06,1361.02 456.77,1360.19 457.5,1359.37 458.22,1358.56 458.95,1357.76 459.68,1356.97 460.41,1356.2 461.15,1355.44 461.89,1354.69 462.63,1353.95 463.38,1353.23 464.13,1352.52 464.88,1351.82 465.64,1351.13 466.39,1350.46 467.16,1349.8 467.92,1349.15 468.69,1348.51 469.46,1347.88 470.24,1347.27 471.02,1346.67 471.8,1346.09 472.58,1345.51 473.37,1344.95 474.16,1344.4 474.96,1343.87 475.75,1343.34 476.55,1342.83 477.36,1342.33 478.16,1341.85 478.97,1341.38 479.79,1340.92 480.6,1340.47 481.42,1340.04 482.24,1339.61 483.07,1339.21 483.89,1338.81 484.73,1338.43 485.56,1338.05 486.4,1337.7 487.24,1337.35 488.08,1337.02 488.92,1336.7 489.77,1336.39 490.62,1336.09 491.48,1335.81 492.34,1335.54 493.2,1335.28 494.06,1335.03 494.93,1334.8 495.8,1334.58 496.67,1334.37 497.54,1334.17 498.42,1333.99 499.3,1333.82 500.19,1333.66 501.07,1333.51 501.96,1333.37 502.85,1333.25 503.75,1333.13 504.65,1333.03 505.55,1332.94 506.45,1332.87 507.36,1332.8 508.27,1332.75 509.18,1332.7 510.1,1332.67 511.02,1332.65 511.94,1332.64 512.86,1332.65 513.79,1332.66 514.72,1332.69 515.65,1332.72 516.58,1332.77 517.52,1332.83 518.46,1332.9 519.4,1332.97 520.35,1333.06 521.3,1333.17 522.25,1333.28 523.2,1333.4 524.16,1333.53 525.12,1333.67 526.08,1333.82 527.05,1333.99 528.02,1334.16 528.99,1334.34 529.96,1334.53 530.94,1334.74 531.92,1334.95 532.9,1335.17 533.88,1335.4 534.87,1335.64 535.86,1335.89 536.85,1336.15 537.84,1336.41 538.84,1336.69 539.84,1336.98 540.84,1337.27 541.85,1337.57 542.86,1337.88 543.87,1338.2 544.88,1338.53 545.9,1338.87 546.92,1339.21 547.94,1339.57 548.96,1339.93 549.99,1340.3 551.02,1340.68 552.05,1341.06 553.08,1341.45 554.12,1341.85 555.16,1342.26 556.2,1342.68 557.25,1343.1 558.29,1343.53 559.34,1343.96 560.4,1344.41 561.45,1344.86 562.51,1345.31 563.57,1345.78 564.63,1346.25 565.7,1346.72 566.77,1347.21 567.84,1347.69 568.91,1348.19 569.98,1348.69 571.06,1349.2 572.14,1349.71 573.23,1350.23 574.31,1350.75 575.4,1351.28 576.49,1351.82 577.58,1352.36 578.68,1352.9 579.78,1353.45 580.88,1354.01 581.98,1354.57 583.09,1355.14 584.19,1355.71 585.31,1356.28 586.42,1356.86 587.53,1357.45 588.65,1358.03 589.77,1358.63 590.9,1359.22 592.02,1359.82 593.15,1360.43 594.28,1361.04 595.41,1361.65 596.55,1362.26 597.68,1362.88 598.82,1363.51 599.97,1364.13 601.11,1364.76 602.26,1365.39 603.41,1366.03 604.56,1366.67 605.72,1367.31 606.87,1367.95 608.03,1368.6 609.2,1369.25 610.36,1369.9 611.53,1370.56 612.7,1371.21 613.87,1371.87 615.04,1372.53 616.22,1373.2 617.4,1373.86 618.58,1374.53 619.76,1375.2 620.95,1375.87 622.13,1376.54 623.32,1377.22 624.52,1377.89 625.71,1378.57 626.91,1379.25 628.11,1379.93 629.31,1380.61 630.52,1381.29 631.72,1381.97 632.93,1382.65 634.15,1383.34 635.36,1384.02 636.58,1384.71 637.8,1385.4 639.02,1386.08 640.24,1386.77 641.47,1387.46 642.69,1388.15 643.92,1388.83 645.16,1389.52 646.39,1390.21 647.63,1390.9 648.87,1391.59 650.11,1392.28 651.36,1392.96 652.6,1393.65 653.85,1394.34 655.1,1395.03 656.36,1395.71 657.61,1396.4 658.87,1397.09 660.13,1397.77 661.39,1398.45 662.66,1399.14 663.92,1399.82 665.19,1400.5 666.47,1401.18 667.74,1401.86 669.02,1402.54 670.29,1403.22 671.57,1403.9 672.86,1404.57 674.14,1405.24 675.43,1405.92 676.72,1406.59 678.01,1407.26 679.31,1407.93 680.6,1408.59 681.9,1409.26 683.2,1409.92 684.51,1410.58 685.81,1411.24 687.12,1411.9 688.43,1412.56 689.74,1413.21 691.05,1413.86 692.37,1414.52 693.69,1415.16 695.01,1415.81 696.33,1416.45 697.66,1417.1 698.99,1417.74 700.32,1418.37 701.65,1419.01 702.98,1419.64 704.32,1420.27 705.66,1420.9 707,1421.53 708.34,1422.15 709.69,1422.77 711.03,1423.39 712.38,1424.01 713.73,1424.62 715.09,1425.23 716.44,1425.84 717.8,1426.45 719.16,1427.05 720.53,1427.65 721.89,1428.25 723.26,1428.84 724.63,1429.43 726,1430.02 727.37,1430.61 728.75,1431.19 730.12,1431.77 731.5,1432.35 732.88,1432.93 734.27,1433.5 735.65,1434.07 737.04,1434.63 738.43,1435.19 739.83,1435.75 741.22,1436.31 742.62,1436.86 744.02,1437.41 745.42,1437.96 746.82,1438.5 748.23,1439.04 749.63,1439.58 751.04,1440.12 752.46,1440.65 753.87,1441.18 755.29,1441.7 756.7,1442.22 758.12,1442.74 759.55,1443.26 760.97,1443.77 762.4,1444.28 763.82,1444.78 765.26,1445.28 766.69,1445.78 768.12,1446.28 769.56,1446.77 771,1447.26 772.44,1447.74 773.88,1448.22 775.33,1448.7 776.78,1449.18 778.23,1449.65 779.68,1450.12 781.13,1450.58 782.59,1451.05 784.04,1451.5 785.5,1451.96 786.97,1452.41 788.43,1452.86 789.9,1453.3 791.36,1453.75 792.83,1454.18 794.31,1454.62 795.78,1455.05 797.26,1455.48 798.74,1455.9 800.22,1456.32 801.7,1456.74 803.18,1457.16 804.67,1457.57 806.16,1457.98 807.65,1458.38 809.14,1458.78 810.64,1459.18 812.13,1459.57 813.63,1459.97 815.13,1460.35 816.63,1460.74 818.14,1461.12 819.65,1461.5 821.16,1461.87 822.67,1462.24 824.18,1462.61 825.69,1462.98 827.21,1463.34 828.73,1463.7 830.25,1464.05 831.77,1464.41 833.3,1464.75 834.83,1465.1 836.36,1465.44 837.89,1465.78 839.42,1466.12 840.95,1466.45 842.49,1466.78 844.03,1467.11 845.57,1467.43 847.11,1467.75 848.66,1468.07 850.21,1468.38 851.76,1468.69 853.31,1469 854.86,1469.31 856.41,1469.61 857.97,1469.91 859.53,1470.21 861.09,1470.5 862.65,1470.79 864.22,1471.08 865.79,1471.36 867.35,1471.64 868.93,1471.92 870.5,1472.19 872.07,1472.47 873.65,1472.74 875.23,1473 876.81,1473.27 878.39,1473.53 879.98,1473.79 881.56,1474.04 883.15,1474.3 884.74,1474.55 886.33,1474.79 887.93,1475.04 889.52,1475.28 891.12,1475.52 892.72,1475.75 894.32,1475.99 895.93,1476.22 897.53,1476.45 899.14,1476.67 900.75,1476.9 902.36,1477.12 903.98,1477.34 905.59,1477.55 907.21,1477.77 908.83,1477.98 910.45,1478.18 912.08,1478.39 913.7,1478.59 915.33,1478.79 916.96,1478.99 918.59,1479.19 920.22,1479.38 921.86,1479.57 923.49,1479.76 925.13,1479.95 926.77,1480.13 928.41,1480.32 930.06,1480.49 931.71,1480.67 933.35,1480.85 935,1481.02 936.66,1481.19 938.31,1481.36 939.97,1481.53 941.62,1481.69 943.28,1481.85 944.95,1482.01 946.61,1482.17 948.27,1482.33 949.94,1482.48 951.61,1482.63 953.28,1482.78 954.95,1482.93 956.63,1483.08 958.31,1483.22 959.98,1483.36 961.67,1483.5 963.35,1483.64 965.03,1483.78 966.72,1483.91 968.41,1484.04 970.1,1484.17 971.79,1484.3 973.48,1484.43 975.18,1484.56 976.87,1484.68 978.57,1484.8 980.27,1484.92 981.98,1485.04 983.68,1485.16 985.39,1485.27 987.1,1485.38 988.81,1485.5 990.52,1485.61 992.23,1485.71 993.95,1485.82 995.67,1485.93 997.39,1486.03 999.11,1486.13 1000.83,1486.23 1002.56,1486.33 1004.29,1486.43 1006.02,1486.53 1007.75,1486.62 1009.48,1486.71 1011.21,1486.8 1012.95,1486.89 1014.69,1486.98 1016.43,1487.07 1018.17,1487.16 1019.91,1487.24 1021.66,1487.33 1023.41,1487.41 1025.16,1487.49 1026.91,1487.57 1028.66,1487.65 1030.41,1487.72 1032.17,1487.8 1033.93,1487.87 1035.69,1487.95 1037.45,1488.02 1039.22,1488.09 1040.98,1488.16 1042.75,1488.23 1044.52,1488.29 1046.29,1488.36 1048.06,1488.43 1049.84,1488.49 1051.61,1488.55 1053.39,1488.61 1055.17,1488.68 1056.95,1488.74 1058.74,1488.79 1060.52,1488.85 1062.31,1488.91 1064.1,1488.96 1065.89,1489.02 1067.68,1489.07 1069.48,1489.13 1071.28,1489.18 1073.07,1489.23 1074.87,1489.28 1076.68,1489.33 1078.48,1489.37 1080.28,1489.42 1082.09,1489.47 1083.9,1489.51 1085.71,1489.56 1087.52,1489.6 1089.34,1489.65 1091.16,1489.69 1092.97,1489.73 1094.79,1489.77 1096.61,1489.81 1098.44,1489.85 1100.26,1489.89 1102.09,1489.92 1103.92,1489.96 1105.75,1490 1107.58,1490.03 1109.42,1490.07 1111.25,1490.1 1113.09,1490.13 1114.93,1490.17 1116.77,1490.2 1118.61,1490.23 1120.46,1490.26 1122.3,1490.29 1124.15,1490.32 1126,1490.35 1127.85,1490.38 1129.71,1490.41 1131.56,1490.43 1133.42,1490.46 1135.28,1490.48 1137.14,1490.51 1139,1490.53 1140.87,1490.56 1142.73,1490.58 1144.6,1490.61 1146.47,1490.63 1148.34,1490.65 1150.21,1490.67 1152.09,1490.69 1153.96,1490.71 1155.84,1490.73 1157.72,1490.75 1159.6,1490.77 1161.49,1490.79 1163.37,1490.81 1165.26,1490.83 1167.15,1490.85 1169.04,1490.86 1170.93,1490.88 1172.82,1490.9 1174.72,1490.91 1176.62,1490.93 1178.51,1490.94 1180.41,1490.96 1182.32,1490.97 1184.22,1490.99 1186.13,1491 1188.04,1491.01 1189.94,1491.03 1191.86,1491.04 1193.77,1491.05 1195.68,1491.06 1197.6,1491.07 1199.52,1491.09 1201.44,1491.1 1203.36,1491.11 1205.28,1491.12 1207.21,1491.13 1209.13,1491.14 1211.06,1491.15 1212.99,1491.16 1214.92,1491.16 1216.86,1491.17 1218.79,1491.18 1220.73,1491.19 1222.67,1491.2 1224.61,1491.21 1226.55,1491.21 1228.49,1491.22 1230.44,1491.23 1232.39,1491.23 1234.34,1491.24 1236.29,1491.25 1238.24,1491.25 1240.19,1491.26 1242.15,1491.27 1244.11,1491.27 1246.06,1491.28 1248.03,1491.28 1249.99,1491.29 1251.95,1491.29 1253.92,1491.3 1255.89,1491.3 1257.86,1491.3 1259.83,1491.31 1261.8,1491.31 1263.77,1491.32 1265.75,1491.32 1267.73,1491.32 1269.71,1491.33 1271.69,1491.33 1273.67,1491.33 1275.66,1491.34 1277.64,1491.34 1279.63,1491.34 1281.62,1491.34 1283.61,1491.35 1285.6,1491.35 1287.6,1491.35 1289.59,1491.35 1291.59,1491.35 1293.59,1491.36 1295.59,1491.36 1297.6,1491.36 1299.6,1491.36 1301.61,1491.36 1303.61,1491.36 1305.62,1491.36 1307.64,1491.37 1309.65,1491.37 1311.66,1491.37 1313.68,1491.37 1315.7,1491.37 1317.72,1491.37 1319.74,1491.37 1321.76,1491.37 1323.79,1491.37 1325.81,1491.37 1327.84,1491.37 1329.87,1491.37 1331.9,1491.37 1333.93,1491.37 1335.97,1491.37 1338.01,1491.37 1340.04,1491.37 1342.08,1491.37 1344.12,1491.37 1346.17,1491.37 1348.21,1491.37 1350.26,1491.37 1352.31,1491.37 1354.36,1491.37 1356.41,1491.37 1358.46,1491.37 1360.51,1491.37 1362.57,1491.37 1364.63,1491.37 1366.69,1491.37 1368.75,1491.37 1370.81,1491.37 1372.88,1491.36 1374.94,1491.36 1377.01,1491.36 1379.08,1491.36 1381.15,1491.36 1383.22,1491.36 1385.3,1491.36 1387.37,1491.36 1389.45,1491.36 1391.53,1491.36 1393.61,1491.36 1395.69,1491.35 1397.78,1491.35 1399.86,1491.35 1401.95,1491.35 1404.04,1491.35 1406.13,1491.35 1408.22,1491.35 1410.31,1491.35 1412.41,1491.34 1414.51,1491.34 1416.6,1491.34 1418.7,1491.34 1420.81,1491.34 1422.91,1491.34 1425.02,1491.34 1427.12,1491.34 1429.23,1491.33 1431.34,1491.33 1433.45,1491.33 1435.56,1491.33 1437.68,1491.33 1439.8,1491.33 1441.91,1491.33 1444.03,1491.33 1446.16,1491.32 1448.28,1491.32 1450.4,1491.32 1452.53,1491.32 1454.66,1491.32 1456.79,1491.32 1458.92,1491.32 1461.05,1491.32 1463.18,1491.31 1465.32,1491.31 1467.46,1491.31 1469.6,1491.31 1471.74,1491.31 1473.88,1491.31 1476.02,1491.31 1478.17,1491.31 1480.31,1491.3 1482.46,1491.3 1484.61,1491.3 1486.76,1491.3 1488.92,1491.3 1491.07,1491.3 1493.23,1491.3 1495.39,1491.3 1497.55,1491.29 1499.71,1491.29 1501.87,1491.29 1504.04,1491.29 1506.2,1491.29 1508.37,1491.29 1510.54,1491.29 1512.71,1491.29 1514.88,1491.28 1517.06,1491.28 1519.23,1491.28 1521.41,1491.28 1523.59,1491.28 1525.77,1491.28 1527.95,1491.28 1530.13,1491.28 1532.32,1491.28 1534.51,1491.27 1536.69,1491.27 1538.88,1491.27 1541.08,1491.27 1543.27,1491.27 1545.46,1491.27 1547.66,1491.27 1549.86,1491.27 1552.06,1491.27 1554.26,1491.26 1556.46,1491.26 1558.66,1491.26 1560.87,1491.26 1563.08,1491.26 1565.28,1491.26 1567.5,1491.26 1569.71,1491.26 1571.92,1491.26 1574.14,1491.26 1576.35,1491.26 1578.57,1491.25 1580.79,1491.25 1583.01,1491.25 1585.23,1491.25 1587.46,1491.25 1589.68,1491.25 1591.91,1491.25 1594.14,1491.25 1596.37,1491.25 1598.6,1491.25 1600.84,1491.25 1603.07,1491.24 1605.31,1491.24 1607.55,1491.24 1609.79,1491.24 1612.03,1491.24 1614.27,1491.24 1616.52,1491.24 1618.76,1491.24 1621.01,1491.24 1623.26,1491.24 1625.51,1491.24 1627.76,1491.24 1630.02,1491.24 1632.27,1491.24 1634.53,1491.23 1636.79,1491.23 1639.05,1491.23 1641.31,1491.23 1643.57,1491.23 1645.84,1491.23 1648.11,1491.23 1650.37,1491.23 1652.64,1491.23 1654.91,1491.23 1657.19,1491.23 1659.46,1491.23 1661.74,1491.23 1664.01,1491.23 1666.29,1491.23 1668.57,1491.23 1670.85,1491.23 1673.14,1491.23 1675.42,1491.22 1677.71,1491.22 1679.99,1491.22 1682.28,1491.22 1684.58,1491.22 1686.87,1491.22 1689.16,1491.22 1691.46,1491.22 1693.75,1491.22 1696.05,1491.22 1698.35,1491.22 1700.65,1491.22 1702.96,1491.22 1705.26,1491.22 1707.57,1491.22 1709.88,1491.22 1712.19,1491.22 1714.5,1491.22 1716.81,1491.22 1719.12,1491.22 1721.44,1491.22 1723.75,1491.22 1726.07,1491.22 1728.39,1491.22 1730.71,1491.21 1733.04,1491.21 1735.36,1491.21 1737.69,1491.21 1740.01,1491.21 1742.34,1491.21 1744.67,1491.21 1747.01,1491.21 1749.34,1491.21 1751.67,1491.21 1754.01,1491.21 1756.35,1491.21 1758.69,1491.21 1761.03,1491.21 1763.37,1491.21 1765.72,1491.21 1768.06,1491.21 1770.41,1491.21 1772.76,1491.21 1775.11,1491.21 1777.46,1491.21 1779.81,1491.21 1782.17,1491.21 1784.52,1491.21 1786.88,1491.21 1789.24,1491.21 1791.6,1491.21 1793.96,1491.21 1796.33,1491.21 1798.69,1491.21 1801.06,1491.21 1803.43,1491.21 1805.8,1491.21 1808.17,1491.21 1810.54,1491.21 1812.91,1491.21 1815.29,1491.21 1817.67,1491.21 1820.05,1491.21 1822.43,1491.21 1824.81,1491.21 1827.19,1491.21 1829.57,1491.21 1831.96,1491.2 1834.35,1491.2 1836.74,1491.2 1839.13,1491.2 1841.52,1491.2 1843.91,1491.2 1846.31,1491.2 1848.7,1491.2 1851.1,1491.2 1853.5,1491.2 1855.9,1491.2 1858.31,1491.2 1860.71,1491.2 1863.11,1491.2 1865.52,1491.2 1867.93,1491.2 1870.34,1491.2 1872.75,1491.2 1875.16,1491.2 1877.58,1491.2 1879.99,1491.2 1882.41,1491.2 1884.83,1491.2 1887.25,1491.2 1889.67,1491.2 1892.1,1491.2 1894.52,1491.2 1896.95,1491.2 1899.37,1491.2 1901.8,1491.2 1904.23,1491.2 1906.66,1491.2 1909.1,1491.2 1911.53,1491.2 1913.97,1491.2 1916.41,1491.2 1918.85,1491.2 1921.29,1491.2 1923.73,1491.2" fill="none" stroke="#EDB120" stroke-width="12.5" stroke-linejoin="round" stroke-linecap="butt"/>
<rect x="1244" y="635" width="666" height="60" fill="#fff"/>
<rect x="1244.5" y="635.5" width="665" height="59" fill="none" stroke="#262626" stroke-width="1"/>
<rect x="1250" y="659" width="60" height="12.5" fill="#0072BD"/>
<rect x="1499" y="659" width="60" height="12.5" fill="#D95319"/>
<rect x="1659" y="659" width="60" height="12.5" fill="#EDB120"/>
<text x="1312.98" y="681" font-size="42.3" fill="#000">SRF-PLL</text>
<text x="1561.53" y="681" font-size="42.3" fill="#000">POL</text>
<text x="1721.43" y="681" font-size="42.3" fill="#000">Proposed</text>
<rect x="1243" y="1207" width="665" height="60" fill="#fff"/>
<rect x="1243.5" y="1207.5" width="664" height="59" fill="none" stroke="#262626" stroke-width="1"/>
<rect x="1248" y="1231" width="60" height="12.5" fill="#0072BD"/>
<rect x="1497" y="1231" width="60" height="12.5" fill="#D95319"/>
<rect x="1657" y="1231" width="60" height="12.5" fill="#EDB120"/>
<text x="1311.98" y="1253" font-size="42.3" fill="#000">SRF-PLL</text>
<text x="1560.53" y="1253" font-size="42.3" fill="#000">POL</text>
<text x="1719.03" y="1253" font-size="42.3" fill="#000">Proposed</text>
<text x="889.71" y="70.3" font-size="51.4" font-weight="bold" fill="#000">Grid Voltages</text>
<text x="798.58" y="603.7" font-size="51.4" font-weight="bold" fill="#000">Estimated Frequency</text>
<text x="775.25" y="1119.9" font-size="51.4" font-weight="bold" fill="#000">Phase Estimation Error</text>
<text transform="translate(180.2,109) scale(0.9689,1)" font-size="48.2" fill="#262626" text-anchor="end">1</text>
<text transform="translate(180.2,219.75) scale(0.9689,1)" font-size="48.2" fill="#262626" text-anchor="end">0.5</text>
<text transform="translate(180.2,330.5) scale(0.9689,1)" font-size="48.2" fill="#262626" text-anchor="end">0</text>
<text transform="translate(180.2,441.25) scale(0.9689,1)" font-size="48.2" fill="#262626" text-anchor="end">-0.5</text>
<text transform="translate(180.2,552) scale(0.9689,1)" font-size="48.2" fill="#262626" text-anchor="end">-1</text>
<text transform="translate(180.2,1066.01) scale(0.9689,1)" font-size="48.2" fill="#262626" text-anchor="end">50</text>
<text transform="translate(180.2,925.34) scale(0.9689,1)" font-size="48.2" fill="#262626" text-anchor="end">51</text>
<text transform="translate(180.2,784.67) scale(0.9689,1)" font-size="48.2" fill="#262626" text-anchor="end">52</text>
<text transform="translate(180.2,644) scale(0.9689,1)" font-size="48.2" fill="#262626" text-anchor="end">53</text>
<text transform="translate(183.2,1509.4) scale(0.9689,1)" font-size="48.2" fill="#262626" text-anchor="end">0</text>
<text transform="translate(183.2,1409.16) scale(0.9689,1)" font-size="48.2" fill="#262626" text-anchor="end">2</text>
<text transform="translate(183.2,1308.92) scale(0.9689,1)" font-size="48.2" fill="#262626" text-anchor="end">4</text>
<text transform="translate(183.2,1208.68) scale(0.9689,1)" font-size="48.2" fill="#262626" text-anchor="end">6</text>
<text transform="translate(352.82,1586.6) scale(0.9689,1)" font-size="48.2" fill="#262626">0.02</text>
<text transform="translate(862.32,1586.6) scale(0.9689,1)" font-size="48.2" fill="#262626">0.07</text>
<text transform="translate(1369.82,1586.6) scale(0.9689,1)" font-size="48.2" fill="#262626">0.12</text>
<text transform="translate(82.8,491.1) rotate(-90)" font-size="51.45" fill="#262626">Amplitude [p.u.]</text>
<text transform="translate(82.4,936.54) rotate(-90)" font-size="51.7" fill="#262626">Freq. [Hz]</text>
<text transform="translate(83.3,1505.24) rotate(-90)" font-size="51.7" fill="#262626">Error [degree]</text>
<text x="967.74" y="1653.1" font-size="51.7" fill="#262626">Time [s]</text>
</svg>
</body></html>
